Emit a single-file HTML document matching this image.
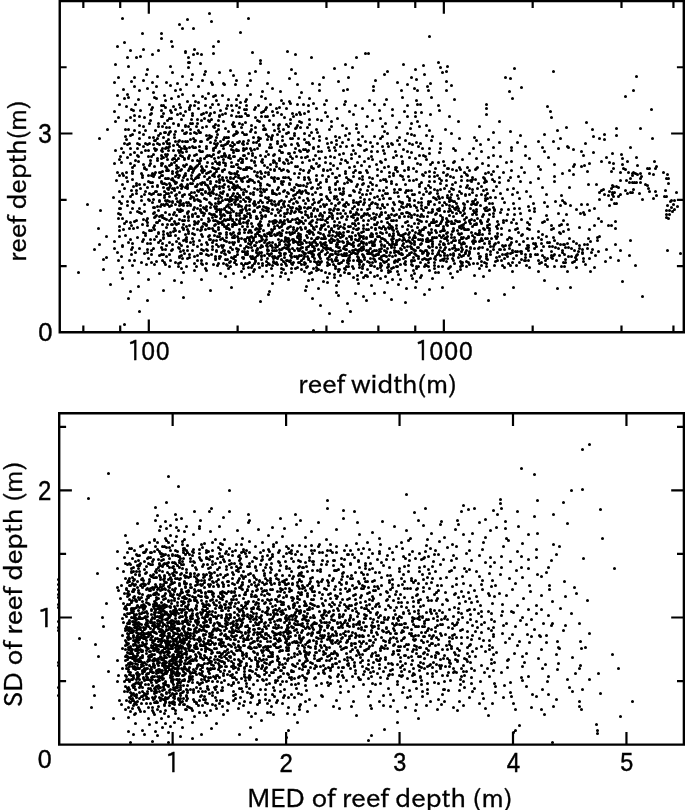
<!DOCTYPE html>
<html><head><meta charset="utf-8"><style>html,body{margin:0;padding:0;background:#fff;width:685px;height:810px;overflow:hidden}svg{display:block}</style></head>
<body><svg width="685" height="810" viewBox="0 0 685 810">
<g fill="none" stroke="#000" stroke-width="2.4" stroke-linecap="butt">
<path d="M59.75 1.0H683.8V332.3H59.75Z"/><path d="M59.2 413.3H683.9V744.6H59.2Z"/>
<path d="M83.34 332.30v-6.9M83.34 1.00v6.9M120.21 332.30v-6.9M120.21 1.00v6.9M148.80 332.30v-12.7M148.80 1.00v12.7M237.62 332.30v-6.9M237.62 1.00v6.9M326.44 332.30v-6.9M326.44 1.00v6.9M378.39 332.30v-6.9M378.39 1.00v6.9M415.26 332.30v-6.9M415.26 1.00v6.9M443.85 332.30v-12.7M443.85 1.00v12.7M532.67 332.30v-6.9M532.67 1.00v6.9M621.49 332.30v-6.9M621.49 1.00v6.9M673.44 332.30v-6.9M673.44 1.00v6.9M59.75 266.04h6.9M683.80 266.04h-6.9M59.75 199.78h6.9M683.80 199.78h-6.9M59.75 133.52h12.7M683.80 133.52h-12.7M59.75 67.26h6.9M683.80 67.26h-6.9M172.65 744.60v-12.7M172.65 413.30v12.7M286.10 744.60v-12.7M286.10 413.30v12.7M399.55 744.60v-12.7M399.55 413.30v12.7M513.00 744.60v-12.7M513.00 413.30v12.7M626.45 744.60v-12.7M626.45 413.30v12.7M59.20 681.05h6.9M683.90 681.05h-6.9M59.20 617.50h12.7M683.90 617.50h-12.7M59.20 553.95h6.9M683.90 553.95h-6.9M59.20 490.40h12.7M683.90 490.40h-12.7M59.20 426.85h6.9M683.90 426.85h-6.9" stroke-width="2.2"/>
</g>
<path d="M115.5 64.5h0M188.5 62.5h0M260.5 63.5h0M403.5 64.5h0M553.5 71.5h0M446.5 71.5h0M415.5 69.5h0M387.5 71.5h0M334.5 68.5h0M291.5 69.5h0M255.5 71.5h0M230.5 70.5h0M205.5 71.5h0M188.5 67.5h0M170.5 66.5h0M147.5 69.5h0M128.5 66.5h0M118.5 77.5h0M134.5 77.5h0M146.5 74.5h0M157.5 76.5h0M172.5 72.5h0M182.5 76.5h0M192.5 74.5h0M204.5 74.5h0M219.5 72.5h0M233.5 75.5h0M249.5 73.5h0M268.5 72.5h0M295.5 73.5h0M323.5 77.5h0M348.5 77.5h0M384.5 74.5h0M411.5 77.5h0M424.5 74.5h0M442.5 72.5h0M505.5 77.5h0M636.5 76.5h0M510.5 78.5h0M446.5 81.5h0M430.5 83.5h0M416.5 79.5h0M397.5 82.5h0M375.5 80.5h0M338.5 81.5h0M312.5 83.5h0M289.5 78.5h0M267.5 83.5h0M250.5 80.5h0M236.5 80.5h0M223.5 83.5h0M211.5 82.5h0M202.5 80.5h0M191.5 79.5h0M177.5 83.5h0M166.5 82.5h0M152.5 82.5h0M143.5 80.5h0M131.5 81.5h0M114.5 82.5h0M123.5 89.5h0M134.5 86.5h0M147.5 88.5h0M156.5 86.5h0M170.5 85.5h0M180.5 89.5h0M186.5 84.5h0M198.5 86.5h0M212.5 84.5h0M224.5 84.5h0M235.5 84.5h0M247.5 85.5h0M272.5 88.5h0M297.5 84.5h0M319.5 84.5h0M347.5 89.5h0M373.5 86.5h0M407.5 84.5h0M414.5 88.5h0M427.5 86.5h0M451.5 85.5h0M521.5 87.5h0M633.5 90.5h0M509.5 91.5h0M446.5 90.5h0M428.5 90.5h0M417.5 90.5h0M401.5 90.5h0M373.5 90.5h0M343.5 90.5h0M319.5 90.5h0M301.5 92.5h0M280.5 91.5h0M262.5 91.5h0M250.5 94.5h0M238.5 95.5h0M222.5 95.5h0M215.5 95.5h0M208.5 93.5h0M193.5 95.5h0M182.5 94.5h0M175.5 90.5h0M164.5 95.5h0M153.5 92.5h0M139.5 90.5h0M127.5 94.5h0M117.5 95.5h0M124.5 98.5h0M128.5 97.5h0M138.5 99.5h0M154.5 97.5h0M156.5 98.5h0M165.5 100.5h0M171.5 98.5h0M178.5 96.5h0M187.5 101.5h0M195.5 101.5h0M202.5 96.5h0M205.5 98.5h0M213.5 96.5h0M216.5 100.5h0M228.5 99.5h0M236.5 99.5h0M245.5 101.5h0M246.5 99.5h0M261.5 96.5h0M265.5 98.5h0M281.5 100.5h0M289.5 101.5h0M299.5 97.5h0M309.5 98.5h0M326.5 100.5h0M345.5 101.5h0M369.5 100.5h0M386.5 99.5h0M402.5 97.5h0M416.5 100.5h0M431.5 97.5h0M454.5 99.5h0M512.5 98.5h0M625.5 96.5h0M547.5 106.5h0M486.5 104.5h0M438.5 105.5h0M420.5 104.5h0M417.5 104.5h0M407.5 105.5h0M384.5 104.5h0M374.5 104.5h0M355.5 105.5h0M344.5 104.5h0M324.5 104.5h0M313.5 103.5h0M308.5 105.5h0M303.5 104.5h0M297.5 104.5h0M290.5 103.5h0M283.5 103.5h0M279.5 107.5h0M270.5 104.5h0M266.5 107.5h0M258.5 105.5h0M255.5 107.5h0M246.5 105.5h0M240.5 102.5h0M239.5 107.5h0M236.5 105.5h0M231.5 105.5h0M227.5 105.5h0M218.5 104.5h0M212.5 104.5h0M210.5 107.5h0M205.5 105.5h0M198.5 102.5h0M194.5 105.5h0M189.5 107.5h0M190.5 105.5h0M180.5 107.5h0M179.5 104.5h0M173.5 106.5h0M165.5 107.5h0M163.5 105.5h0M161.5 105.5h0M152.5 107.5h0M149.5 104.5h0M135.5 104.5h0M126.5 106.5h0M119.5 104.5h0M114.5 111.5h0M131.5 109.5h0M133.5 110.5h0M140.5 110.5h0M151.5 109.5h0M151.5 113.5h0M161.5 110.5h0M163.5 113.5h0M171.5 112.5h0M170.5 110.5h0M175.5 109.5h0M180.5 113.5h0M185.5 111.5h0M189.5 109.5h0M192.5 113.5h0M198.5 108.5h0M203.5 113.5h0M206.5 112.5h0M214.5 112.5h0M210.5 113.5h0M220.5 110.5h0M225.5 113.5h0M226.5 108.5h0M232.5 110.5h0M238.5 112.5h0M244.5 109.5h0M245.5 113.5h0M246.5 109.5h0M254.5 109.5h0M261.5 112.5h0M263.5 111.5h0M265.5 109.5h0M272.5 111.5h0M276.5 108.5h0M277.5 112.5h0M286.5 108.5h0M292.5 113.5h0M299.5 112.5h0M304.5 113.5h0M308.5 111.5h0M316.5 108.5h0M325.5 112.5h0M336.5 108.5h0M349.5 111.5h0M362.5 108.5h0M379.5 110.5h0M392.5 109.5h0M404.5 111.5h0M415.5 112.5h0M421.5 112.5h0M439.5 110.5h0M486.5 108.5h0M550.5 111.5h0M651.5 109.5h0M551.5 117.5h0M486.5 114.5h0M449.5 116.5h0M430.5 114.5h0M415.5 116.5h0M407.5 116.5h0M392.5 115.5h0M380.5 118.5h0M367.5 116.5h0M353.5 114.5h0M337.5 118.5h0M327.5 116.5h0M317.5 119.5h0M309.5 119.5h0M300.5 114.5h0M296.5 114.5h0M290.5 119.5h0M293.5 116.5h0M284.5 117.5h0M281.5 114.5h0M273.5 115.5h0M265.5 116.5h0M267.5 116.5h0M261.5 116.5h0M255.5 117.5h0M248.5 115.5h0M247.5 115.5h0M241.5 116.5h0M239.5 116.5h0M236.5 116.5h0M231.5 115.5h0M222.5 114.5h0M219.5 115.5h0M219.5 116.5h0M211.5 119.5h0M204.5 118.5h0M209.5 115.5h0M201.5 114.5h0M197.5 119.5h0M192.5 115.5h0M191.5 119.5h0M183.5 115.5h0M181.5 119.5h0M177.5 114.5h0M169.5 118.5h0M171.5 118.5h0M162.5 116.5h0M161.5 116.5h0M150.5 114.5h0M144.5 117.5h0M139.5 116.5h0M134.5 115.5h0M130.5 117.5h0M118.5 117.5h0M115.5 121.5h0M126.5 120.5h0M134.5 120.5h0M139.5 125.5h0M149.5 123.5h0M150.5 120.5h0M158.5 123.5h0M164.5 123.5h0M167.5 120.5h0M173.5 123.5h0M178.5 125.5h0M178.5 124.5h0M185.5 125.5h0M190.5 123.5h0M192.5 123.5h0M197.5 123.5h0M201.5 120.5h0M209.5 121.5h0M208.5 120.5h0M215.5 124.5h0M218.5 125.5h0M218.5 120.5h0M223.5 121.5h0M233.5 122.5h0M232.5 124.5h0M239.5 123.5h0M245.5 122.5h0M242.5 124.5h0M251.5 125.5h0M257.5 120.5h0M263.5 125.5h0M259.5 121.5h0M269.5 120.5h0M273.5 124.5h0M278.5 125.5h0M279.5 124.5h0M286.5 124.5h0M290.5 123.5h0M297.5 125.5h0M299.5 121.5h0M301.5 122.5h0M309.5 124.5h0M321.5 120.5h0M331.5 121.5h0M342.5 125.5h0M356.5 124.5h0M372.5 120.5h0M385.5 123.5h0M399.5 122.5h0M411.5 123.5h0M417.5 121.5h0M426.5 125.5h0M458.5 121.5h0M499.5 121.5h0M557.5 130.5h0M510.5 131.5h0M479.5 126.5h0M445.5 129.5h0M429.5 130.5h0M419.5 126.5h0M410.5 128.5h0M396.5 127.5h0M384.5 131.5h0M382.5 126.5h0M366.5 126.5h0M356.5 128.5h0M346.5 128.5h0M331.5 126.5h0M329.5 129.5h0M316.5 129.5h0M307.5 127.5h0M300.5 127.5h0M296.5 127.5h0M295.5 128.5h0M288.5 126.5h0M283.5 129.5h0M279.5 131.5h0M278.5 128.5h0M274.5 130.5h0M265.5 129.5h0M264.5 128.5h0M263.5 129.5h0M255.5 127.5h0M250.5 131.5h0M251.5 129.5h0M241.5 127.5h0M234.5 126.5h0M236.5 131.5h0M233.5 126.5h0M228.5 131.5h0M225.5 128.5h0M218.5 129.5h0M216.5 131.5h0M214.5 127.5h0M213.5 126.5h0M206.5 126.5h0M198.5 130.5h0M202.5 127.5h0M196.5 126.5h0M188.5 126.5h0M190.5 129.5h0M182.5 130.5h0M185.5 126.5h0M175.5 131.5h0M170.5 131.5h0M169.5 127.5h0M162.5 126.5h0M166.5 127.5h0M158.5 126.5h0M155.5 130.5h0M145.5 130.5h0M143.5 126.5h0M134.5 130.5h0M128.5 129.5h0M125.5 129.5h0M107.5 129.5h0M125.5 136.5h0M130.5 135.5h0M132.5 134.5h0M139.5 132.5h0M143.5 134.5h0M149.5 137.5h0M153.5 137.5h0M160.5 133.5h0M158.5 135.5h0M164.5 132.5h0M165.5 132.5h0M163.5 137.5h0M169.5 132.5h0M168.5 134.5h0M174.5 134.5h0M174.5 137.5h0M184.5 133.5h0M185.5 133.5h0M186.5 132.5h0M190.5 133.5h0M196.5 133.5h0M194.5 132.5h0M199.5 132.5h0M200.5 132.5h0M206.5 135.5h0M209.5 135.5h0M211.5 136.5h0M210.5 137.5h0M217.5 134.5h0M216.5 137.5h0M224.5 137.5h0M226.5 137.5h0M228.5 137.5h0M233.5 135.5h0M236.5 133.5h0M237.5 132.5h0M234.5 134.5h0M244.5 134.5h0M242.5 132.5h0M246.5 134.5h0M255.5 132.5h0M253.5 137.5h0M258.5 137.5h0M268.5 136.5h0M266.5 134.5h0M272.5 135.5h0M271.5 137.5h0M277.5 134.5h0M282.5 136.5h0M286.5 133.5h0M288.5 132.5h0M294.5 135.5h0M294.5 133.5h0M304.5 133.5h0M311.5 132.5h0M309.5 135.5h0M317.5 132.5h0M319.5 136.5h0M335.5 136.5h0M339.5 137.5h0M345.5 135.5h0M349.5 133.5h0M358.5 132.5h0M362.5 136.5h0M374.5 136.5h0M382.5 136.5h0M387.5 133.5h0M399.5 137.5h0M407.5 133.5h0M411.5 134.5h0M414.5 135.5h0M426.5 135.5h0M432.5 136.5h0M451.5 133.5h0M474.5 137.5h0M493.5 132.5h0M520.5 135.5h0M544.5 134.5h0M553.5 141.5h0M538.5 141.5h0M517.5 142.5h0M499.5 142.5h0M488.5 139.5h0M476.5 140.5h0M459.5 138.5h0M440.5 143.5h0M431.5 140.5h0M420.5 143.5h0M416.5 142.5h0M409.5 143.5h0M405.5 140.5h0M397.5 140.5h0M391.5 143.5h0M387.5 143.5h0M380.5 138.5h0M377.5 143.5h0M370.5 142.5h0M365.5 141.5h0M358.5 139.5h0M348.5 139.5h0M342.5 142.5h0M336.5 140.5h0M331.5 142.5h0M327.5 143.5h0M326.5 138.5h0M319.5 140.5h0M313.5 138.5h0M306.5 142.5h0M308.5 142.5h0M304.5 139.5h0M297.5 143.5h0M298.5 138.5h0M290.5 138.5h0M292.5 138.5h0M282.5 140.5h0M277.5 141.5h0M277.5 143.5h0M271.5 138.5h0M271.5 139.5h0M267.5 139.5h0M260.5 138.5h0M258.5 140.5h0M253.5 142.5h0M256.5 142.5h0M248.5 140.5h0M247.5 143.5h0M242.5 143.5h0M243.5 141.5h0M237.5 142.5h0M238.5 142.5h0M239.5 141.5h0M228.5 141.5h0M232.5 142.5h0M227.5 143.5h0M227.5 142.5h0M223.5 139.5h0M220.5 141.5h0M217.5 143.5h0M210.5 142.5h0M215.5 140.5h0M214.5 143.5h0M207.5 139.5h0M208.5 138.5h0M200.5 141.5h0M201.5 141.5h0M193.5 138.5h0M194.5 141.5h0M195.5 140.5h0M190.5 139.5h0M187.5 141.5h0M182.5 141.5h0M185.5 141.5h0M179.5 140.5h0M175.5 141.5h0M178.5 141.5h0M168.5 139.5h0M169.5 143.5h0M167.5 143.5h0M166.5 141.5h0M163.5 143.5h0M157.5 138.5h0M157.5 143.5h0M154.5 140.5h0M155.5 140.5h0M149.5 143.5h0M145.5 143.5h0M139.5 138.5h0M137.5 143.5h0M129.5 143.5h0M126.5 139.5h0M124.5 143.5h0M99.5 138.5h0M121.5 148.5h0M127.5 144.5h0M130.5 148.5h0M137.5 148.5h0M143.5 146.5h0M139.5 144.5h0M147.5 144.5h0M153.5 144.5h0M154.5 148.5h0M159.5 144.5h0M156.5 149.5h0M162.5 148.5h0M165.5 148.5h0M166.5 147.5h0M168.5 147.5h0M173.5 145.5h0M169.5 146.5h0M179.5 146.5h0M177.5 144.5h0M184.5 146.5h0M181.5 148.5h0M184.5 148.5h0M186.5 148.5h0M189.5 147.5h0M193.5 147.5h0M192.5 146.5h0M195.5 147.5h0M199.5 146.5h0M206.5 148.5h0M206.5 146.5h0M213.5 149.5h0M213.5 148.5h0M215.5 147.5h0M221.5 145.5h0M216.5 145.5h0M223.5 148.5h0M225.5 144.5h0M223.5 145.5h0M232.5 146.5h0M231.5 149.5h0M230.5 145.5h0M236.5 149.5h0M234.5 144.5h0M243.5 148.5h0M244.5 149.5h0M243.5 144.5h0M246.5 148.5h0M250.5 148.5h0M254.5 149.5h0M257.5 148.5h0M259.5 144.5h0M259.5 145.5h0M269.5 147.5h0M270.5 144.5h0M271.5 147.5h0M280.5 146.5h0M281.5 146.5h0M285.5 145.5h0M284.5 144.5h0M291.5 144.5h0M295.5 148.5h0M298.5 145.5h0M303.5 149.5h0M305.5 149.5h0M309.5 144.5h0M313.5 148.5h0M313.5 147.5h0M318.5 146.5h0M328.5 147.5h0M334.5 147.5h0M340.5 146.5h0M336.5 144.5h0M346.5 146.5h0M352.5 145.5h0M358.5 144.5h0M360.5 145.5h0M366.5 149.5h0M372.5 146.5h0M382.5 146.5h0M388.5 146.5h0M392.5 144.5h0M399.5 144.5h0M403.5 149.5h0M412.5 144.5h0M418.5 146.5h0M422.5 148.5h0M429.5 148.5h0M440.5 148.5h0M453.5 148.5h0M473.5 148.5h0M480.5 144.5h0M493.5 147.5h0M511.5 147.5h0M525.5 146.5h0M542.5 147.5h0M558.5 148.5h0M544.5 151.5h0M525.5 155.5h0M511.5 150.5h0M493.5 155.5h0M481.5 151.5h0M469.5 153.5h0M455.5 150.5h0M439.5 152.5h0M429.5 153.5h0M423.5 155.5h0M419.5 155.5h0M411.5 152.5h0M407.5 151.5h0M396.5 155.5h0M395.5 151.5h0M384.5 153.5h0M383.5 150.5h0M377.5 151.5h0M371.5 151.5h0M364.5 150.5h0M355.5 153.5h0M351.5 154.5h0M353.5 150.5h0M343.5 153.5h0M339.5 154.5h0M335.5 150.5h0M329.5 150.5h0M321.5 151.5h0M318.5 151.5h0M315.5 155.5h0M308.5 150.5h0M307.5 151.5h0M300.5 151.5h0M294.5 152.5h0M299.5 150.5h0M288.5 153.5h0M289.5 153.5h0M282.5 152.5h0M281.5 152.5h0M279.5 150.5h0M273.5 155.5h0M274.5 154.5h0M266.5 151.5h0M268.5 154.5h0M260.5 155.5h0M252.5 153.5h0M252.5 155.5h0M248.5 153.5h0M251.5 150.5h0M243.5 155.5h0M244.5 155.5h0M243.5 150.5h0M236.5 150.5h0M238.5 150.5h0M233.5 152.5h0M233.5 150.5h0M229.5 155.5h0M225.5 155.5h0M224.5 154.5h0M224.5 153.5h0M219.5 151.5h0M218.5 152.5h0M213.5 150.5h0M213.5 154.5h0M207.5 155.5h0M209.5 155.5h0M200.5 151.5h0M199.5 150.5h0M202.5 151.5h0M194.5 155.5h0M196.5 154.5h0M189.5 155.5h0M186.5 151.5h0M180.5 150.5h0M182.5 152.5h0M180.5 155.5h0M179.5 152.5h0M178.5 150.5h0M175.5 155.5h0M168.5 150.5h0M173.5 150.5h0M165.5 154.5h0M167.5 154.5h0M162.5 151.5h0M161.5 155.5h0M161.5 150.5h0M153.5 154.5h0M155.5 150.5h0M145.5 150.5h0M148.5 150.5h0M141.5 152.5h0M137.5 155.5h0M134.5 152.5h0M130.5 154.5h0M123.5 152.5h0M115.5 150.5h0M119.5 159.5h0M120.5 156.5h0M127.5 157.5h0M135.5 160.5h0M138.5 156.5h0M138.5 161.5h0M148.5 156.5h0M150.5 160.5h0M151.5 156.5h0M161.5 158.5h0M157.5 158.5h0M157.5 160.5h0M166.5 156.5h0M167.5 159.5h0M163.5 157.5h0M173.5 158.5h0M172.5 159.5h0M178.5 158.5h0M176.5 160.5h0M174.5 158.5h0M184.5 158.5h0M182.5 156.5h0M184.5 159.5h0M188.5 157.5h0M188.5 158.5h0M192.5 160.5h0M197.5 160.5h0M200.5 160.5h0M200.5 158.5h0M199.5 161.5h0M206.5 156.5h0M204.5 158.5h0M214.5 158.5h0M211.5 156.5h0M215.5 161.5h0M218.5 157.5h0M221.5 156.5h0M222.5 156.5h0M223.5 159.5h0M225.5 156.5h0M233.5 156.5h0M228.5 157.5h0M230.5 158.5h0M234.5 156.5h0M238.5 160.5h0M242.5 161.5h0M242.5 159.5h0M240.5 158.5h0M246.5 158.5h0M251.5 160.5h0M254.5 161.5h0M255.5 157.5h0M261.5 161.5h0M262.5 159.5h0M265.5 156.5h0M274.5 161.5h0M273.5 160.5h0M279.5 160.5h0M279.5 158.5h0M287.5 160.5h0M286.5 159.5h0M292.5 158.5h0M290.5 156.5h0M296.5 156.5h0M305.5 157.5h0M301.5 157.5h0M307.5 156.5h0M309.5 160.5h0M313.5 159.5h0M319.5 158.5h0M325.5 157.5h0M330.5 156.5h0M334.5 157.5h0M341.5 159.5h0M345.5 160.5h0M351.5 158.5h0M359.5 156.5h0M364.5 161.5h0M371.5 156.5h0M368.5 158.5h0M372.5 159.5h0M380.5 161.5h0M385.5 159.5h0M393.5 157.5h0M401.5 156.5h0M402.5 161.5h0M409.5 157.5h0M415.5 158.5h0M425.5 156.5h0M426.5 159.5h0M443.5 161.5h0M454.5 161.5h0M462.5 159.5h0M476.5 158.5h0M488.5 157.5h0M500.5 156.5h0M511.5 161.5h0M529.5 158.5h0M548.5 157.5h0M554.5 164.5h0M538.5 166.5h0M521.5 167.5h0M506.5 162.5h0M497.5 166.5h0M488.5 165.5h0M482.5 163.5h0M477.5 167.5h0M467.5 167.5h0M459.5 167.5h0M453.5 162.5h0M444.5 165.5h0M438.5 162.5h0M432.5 162.5h0M430.5 164.5h0M420.5 164.5h0M417.5 163.5h0M408.5 167.5h0M402.5 163.5h0M396.5 167.5h0M395.5 167.5h0M388.5 166.5h0M384.5 167.5h0M381.5 162.5h0M376.5 164.5h0M369.5 166.5h0M361.5 165.5h0M354.5 166.5h0M357.5 162.5h0M349.5 167.5h0M347.5 162.5h0M340.5 163.5h0M333.5 165.5h0M330.5 163.5h0M325.5 162.5h0M318.5 166.5h0M319.5 165.5h0M316.5 163.5h0M311.5 167.5h0M311.5 166.5h0M302.5 162.5h0M295.5 166.5h0M297.5 166.5h0M291.5 162.5h0M288.5 163.5h0M284.5 163.5h0M283.5 162.5h0M276.5 166.5h0M276.5 163.5h0M273.5 162.5h0M270.5 164.5h0M267.5 167.5h0M264.5 165.5h0M262.5 162.5h0M254.5 162.5h0M255.5 165.5h0M249.5 167.5h0M246.5 167.5h0M247.5 167.5h0M241.5 162.5h0M242.5 162.5h0M238.5 167.5h0M236.5 164.5h0M237.5 164.5h0M231.5 166.5h0M231.5 162.5h0M233.5 166.5h0M225.5 163.5h0M225.5 165.5h0M223.5 162.5h0M219.5 162.5h0M219.5 164.5h0M217.5 163.5h0M212.5 163.5h0M212.5 167.5h0M206.5 166.5h0M207.5 162.5h0M201.5 166.5h0M199.5 163.5h0M195.5 167.5h0M196.5 166.5h0M197.5 165.5h0M191.5 167.5h0M186.5 164.5h0M190.5 166.5h0M184.5 166.5h0M183.5 165.5h0M174.5 162.5h0M178.5 167.5h0M176.5 165.5h0M171.5 163.5h0M169.5 165.5h0M171.5 164.5h0M166.5 167.5h0M165.5 166.5h0M162.5 163.5h0M161.5 163.5h0M161.5 165.5h0M154.5 166.5h0M150.5 163.5h0M144.5 167.5h0M149.5 165.5h0M143.5 164.5h0M134.5 165.5h0M132.5 167.5h0M130.5 163.5h0M121.5 162.5h0M114.5 163.5h0M117.5 172.5h0M122.5 173.5h0M126.5 172.5h0M132.5 171.5h0M132.5 173.5h0M141.5 173.5h0M144.5 168.5h0M146.5 169.5h0M152.5 173.5h0M155.5 172.5h0M159.5 172.5h0M160.5 172.5h0M166.5 170.5h0M162.5 171.5h0M167.5 169.5h0M172.5 173.5h0M168.5 170.5h0M172.5 171.5h0M176.5 172.5h0M176.5 168.5h0M177.5 171.5h0M185.5 173.5h0M180.5 170.5h0M181.5 169.5h0M189.5 168.5h0M191.5 168.5h0M188.5 170.5h0M192.5 172.5h0M194.5 168.5h0M193.5 170.5h0M202.5 168.5h0M202.5 172.5h0M201.5 170.5h0M206.5 173.5h0M208.5 172.5h0M204.5 170.5h0M210.5 171.5h0M214.5 173.5h0M214.5 168.5h0M218.5 168.5h0M216.5 171.5h0M216.5 169.5h0M224.5 169.5h0M222.5 171.5h0M222.5 170.5h0M230.5 173.5h0M231.5 173.5h0M229.5 172.5h0M236.5 173.5h0M237.5 171.5h0M234.5 173.5h0M240.5 168.5h0M243.5 169.5h0M244.5 169.5h0M251.5 168.5h0M246.5 169.5h0M254.5 171.5h0M257.5 172.5h0M261.5 173.5h0M260.5 171.5h0M265.5 172.5h0M268.5 172.5h0M274.5 170.5h0M274.5 169.5h0M270.5 169.5h0M281.5 170.5h0M279.5 168.5h0M287.5 170.5h0M283.5 169.5h0M288.5 171.5h0M299.5 173.5h0M294.5 173.5h0M300.5 169.5h0M303.5 170.5h0M308.5 172.5h0M309.5 170.5h0M313.5 168.5h0M323.5 170.5h0M323.5 169.5h0M327.5 170.5h0M332.5 173.5h0M330.5 169.5h0M337.5 168.5h0M345.5 173.5h0M345.5 171.5h0M353.5 172.5h0M359.5 172.5h0M355.5 170.5h0M360.5 172.5h0M367.5 172.5h0M366.5 170.5h0M377.5 169.5h0M381.5 171.5h0M389.5 172.5h0M393.5 173.5h0M395.5 169.5h0M397.5 171.5h0M404.5 170.5h0M413.5 168.5h0M408.5 169.5h0M416.5 171.5h0M425.5 172.5h0M429.5 171.5h0M434.5 172.5h0M435.5 168.5h0M443.5 172.5h0M447.5 168.5h0M448.5 168.5h0M452.5 169.5h0M460.5 169.5h0M456.5 170.5h0M464.5 172.5h0M469.5 170.5h0M476.5 168.5h0M475.5 169.5h0M485.5 173.5h0M488.5 172.5h0M493.5 171.5h0M503.5 172.5h0M511.5 170.5h0M524.5 172.5h0M540.5 169.5h0M554.5 176.5h0M538.5 178.5h0M518.5 176.5h0M510.5 177.5h0M499.5 177.5h0M492.5 179.5h0M491.5 174.5h0M484.5 178.5h0M483.5 177.5h0M475.5 179.5h0M472.5 179.5h0M472.5 177.5h0M467.5 175.5h0M466.5 174.5h0M461.5 176.5h0M450.5 176.5h0M453.5 177.5h0M446.5 175.5h0M447.5 174.5h0M439.5 178.5h0M437.5 175.5h0M434.5 176.5h0M429.5 176.5h0M423.5 175.5h0M422.5 174.5h0M416.5 179.5h0M408.5 176.5h0M402.5 176.5h0M403.5 179.5h0M400.5 175.5h0M393.5 175.5h0M389.5 176.5h0M385.5 179.5h0M383.5 179.5h0M372.5 178.5h0M377.5 175.5h0M369.5 177.5h0M362.5 179.5h0M362.5 176.5h0M359.5 178.5h0M353.5 176.5h0M348.5 179.5h0M346.5 177.5h0M339.5 175.5h0M336.5 177.5h0M335.5 177.5h0M326.5 179.5h0M328.5 176.5h0M322.5 175.5h0M316.5 179.5h0M316.5 175.5h0M309.5 179.5h0M308.5 177.5h0M304.5 179.5h0M304.5 177.5h0M298.5 177.5h0M290.5 179.5h0M288.5 177.5h0M283.5 177.5h0M285.5 177.5h0M277.5 178.5h0M278.5 178.5h0M271.5 177.5h0M273.5 178.5h0M274.5 177.5h0M264.5 176.5h0M268.5 174.5h0M261.5 178.5h0M260.5 177.5h0M257.5 176.5h0M256.5 175.5h0M249.5 179.5h0M250.5 179.5h0M247.5 176.5h0M240.5 178.5h0M242.5 178.5h0M244.5 177.5h0M238.5 175.5h0M235.5 176.5h0M238.5 177.5h0M230.5 178.5h0M230.5 177.5h0M233.5 178.5h0M222.5 177.5h0M226.5 177.5h0M222.5 179.5h0M219.5 175.5h0M218.5 176.5h0M219.5 179.5h0M214.5 176.5h0M212.5 175.5h0M213.5 174.5h0M207.5 179.5h0M204.5 176.5h0M209.5 177.5h0M199.5 174.5h0M198.5 177.5h0M198.5 175.5h0M197.5 176.5h0M195.5 178.5h0M196.5 177.5h0M191.5 175.5h0M191.5 178.5h0M187.5 179.5h0M184.5 175.5h0M185.5 175.5h0M183.5 177.5h0M177.5 174.5h0M179.5 175.5h0M175.5 176.5h0M178.5 177.5h0M168.5 178.5h0M171.5 179.5h0M172.5 178.5h0M165.5 178.5h0M167.5 178.5h0M162.5 175.5h0M161.5 175.5h0M159.5 177.5h0M153.5 176.5h0M154.5 174.5h0M151.5 175.5h0M148.5 175.5h0M142.5 175.5h0M142.5 177.5h0M132.5 179.5h0M126.5 177.5h0M123.5 175.5h0M119.5 175.5h0M116.5 180.5h0M122.5 184.5h0M127.5 181.5h0M136.5 185.5h0M136.5 183.5h0M139.5 184.5h0M144.5 184.5h0M148.5 181.5h0M150.5 182.5h0M152.5 182.5h0M161.5 182.5h0M161.5 181.5h0M157.5 185.5h0M162.5 183.5h0M164.5 183.5h0M166.5 184.5h0M170.5 185.5h0M169.5 183.5h0M173.5 180.5h0M175.5 183.5h0M176.5 182.5h0M174.5 181.5h0M181.5 184.5h0M182.5 180.5h0M180.5 185.5h0M187.5 184.5h0M190.5 183.5h0M187.5 185.5h0M193.5 180.5h0M192.5 183.5h0M197.5 184.5h0M202.5 182.5h0M201.5 184.5h0M200.5 183.5h0M207.5 185.5h0M204.5 182.5h0M205.5 184.5h0M210.5 183.5h0M215.5 185.5h0M210.5 181.5h0M219.5 180.5h0M216.5 181.5h0M219.5 182.5h0M223.5 180.5h0M224.5 184.5h0M227.5 180.5h0M231.5 182.5h0M233.5 184.5h0M228.5 181.5h0M230.5 182.5h0M236.5 181.5h0M237.5 185.5h0M234.5 185.5h0M242.5 181.5h0M241.5 180.5h0M248.5 181.5h0M249.5 180.5h0M247.5 181.5h0M252.5 180.5h0M254.5 182.5h0M260.5 185.5h0M260.5 183.5h0M258.5 181.5h0M267.5 184.5h0M269.5 185.5h0M274.5 181.5h0M274.5 180.5h0M281.5 181.5h0M281.5 183.5h0M282.5 184.5h0M283.5 181.5h0M289.5 184.5h0M289.5 183.5h0M298.5 185.5h0M296.5 184.5h0M303.5 185.5h0M300.5 185.5h0M310.5 182.5h0M307.5 183.5h0M316.5 180.5h0M318.5 184.5h0M320.5 182.5h0M326.5 181.5h0M335.5 184.5h0M335.5 183.5h0M337.5 181.5h0M347.5 182.5h0M344.5 183.5h0M351.5 181.5h0M350.5 180.5h0M357.5 184.5h0M362.5 184.5h0M363.5 183.5h0M370.5 182.5h0M372.5 184.5h0M376.5 185.5h0M380.5 180.5h0M386.5 181.5h0M391.5 183.5h0M391.5 181.5h0M396.5 184.5h0M405.5 184.5h0M409.5 180.5h0M413.5 180.5h0M419.5 184.5h0M421.5 182.5h0M428.5 185.5h0M429.5 181.5h0M434.5 181.5h0M441.5 180.5h0M440.5 183.5h0M446.5 185.5h0M446.5 180.5h0M455.5 182.5h0M452.5 184.5h0M461.5 180.5h0M467.5 185.5h0M467.5 180.5h0M471.5 181.5h0M470.5 180.5h0M478.5 183.5h0M484.5 182.5h0M485.5 180.5h0M486.5 181.5h0M494.5 181.5h0M499.5 182.5h0M508.5 180.5h0M520.5 181.5h0M530.5 182.5h0M554.5 181.5h0M542.5 187.5h0M526.5 191.5h0M513.5 188.5h0M507.5 189.5h0M493.5 190.5h0M496.5 186.5h0M486.5 189.5h0M481.5 186.5h0M483.5 190.5h0M477.5 188.5h0M469.5 188.5h0M472.5 189.5h0M466.5 187.5h0M459.5 191.5h0M460.5 186.5h0M451.5 188.5h0M453.5 189.5h0M449.5 191.5h0M444.5 188.5h0M440.5 189.5h0M434.5 189.5h0M437.5 190.5h0M430.5 187.5h0M426.5 191.5h0M425.5 188.5h0M419.5 186.5h0M408.5 190.5h0M411.5 190.5h0M406.5 190.5h0M399.5 189.5h0M400.5 189.5h0M394.5 189.5h0M386.5 187.5h0M379.5 190.5h0M383.5 190.5h0M372.5 189.5h0M367.5 190.5h0M368.5 186.5h0M360.5 189.5h0M356.5 186.5h0M354.5 191.5h0M353.5 190.5h0M343.5 188.5h0M343.5 191.5h0M339.5 189.5h0M339.5 188.5h0M335.5 189.5h0M329.5 187.5h0M329.5 189.5h0M320.5 187.5h0M317.5 188.5h0M312.5 187.5h0M306.5 186.5h0M311.5 188.5h0M302.5 191.5h0M305.5 190.5h0M299.5 190.5h0M294.5 187.5h0M291.5 189.5h0M293.5 190.5h0M284.5 190.5h0M283.5 191.5h0M278.5 187.5h0M277.5 189.5h0M272.5 191.5h0M272.5 190.5h0M266.5 189.5h0M264.5 191.5h0M260.5 191.5h0M260.5 188.5h0M263.5 189.5h0M254.5 188.5h0M257.5 189.5h0M248.5 186.5h0M246.5 191.5h0M241.5 189.5h0M244.5 189.5h0M236.5 187.5h0M234.5 189.5h0M239.5 187.5h0M234.5 188.5h0M228.5 186.5h0M232.5 187.5h0M229.5 189.5h0M222.5 186.5h0M223.5 187.5h0M223.5 191.5h0M216.5 186.5h0M219.5 186.5h0M219.5 188.5h0M212.5 191.5h0M213.5 187.5h0M213.5 189.5h0M208.5 187.5h0M205.5 191.5h0M209.5 189.5h0M200.5 189.5h0M202.5 189.5h0M198.5 191.5h0M195.5 186.5h0M196.5 186.5h0M197.5 190.5h0M186.5 186.5h0M187.5 188.5h0M187.5 187.5h0M182.5 186.5h0M185.5 187.5h0M181.5 188.5h0M174.5 190.5h0M177.5 187.5h0M174.5 188.5h0M172.5 188.5h0M168.5 189.5h0M169.5 187.5h0M164.5 191.5h0M167.5 188.5h0M163.5 187.5h0M157.5 186.5h0M156.5 191.5h0M152.5 186.5h0M155.5 191.5h0M147.5 187.5h0M145.5 191.5h0M140.5 188.5h0M133.5 186.5h0M136.5 190.5h0M131.5 190.5h0M124.5 188.5h0M119.5 191.5h0M113.5 197.5h0M122.5 196.5h0M130.5 196.5h0M136.5 193.5h0M132.5 194.5h0M141.5 196.5h0M149.5 193.5h0M144.5 194.5h0M153.5 193.5h0M151.5 194.5h0M160.5 194.5h0M158.5 194.5h0M164.5 197.5h0M166.5 193.5h0M164.5 195.5h0M169.5 196.5h0M171.5 192.5h0M168.5 193.5h0M175.5 195.5h0M179.5 192.5h0M176.5 194.5h0M184.5 194.5h0M182.5 196.5h0M182.5 195.5h0M191.5 192.5h0M191.5 196.5h0M189.5 194.5h0M194.5 192.5h0M196.5 195.5h0M193.5 197.5h0M202.5 194.5h0M201.5 193.5h0M205.5 192.5h0M208.5 193.5h0M209.5 192.5h0M211.5 192.5h0M210.5 195.5h0M213.5 193.5h0M220.5 192.5h0M221.5 197.5h0M216.5 194.5h0M219.5 195.5h0M227.5 194.5h0M222.5 193.5h0M227.5 195.5h0M230.5 197.5h0M233.5 193.5h0M232.5 195.5h0M235.5 196.5h0M237.5 197.5h0M237.5 193.5h0M239.5 195.5h0M243.5 192.5h0M240.5 197.5h0M243.5 194.5h0M248.5 197.5h0M250.5 193.5h0M246.5 197.5h0M253.5 192.5h0M253.5 194.5h0M261.5 192.5h0M260.5 195.5h0M261.5 195.5h0M268.5 197.5h0M265.5 197.5h0M272.5 193.5h0M272.5 192.5h0M274.5 193.5h0M279.5 193.5h0M276.5 194.5h0M286.5 196.5h0M287.5 192.5h0M288.5 193.5h0M293.5 195.5h0M299.5 197.5h0M297.5 192.5h0M295.5 194.5h0M300.5 192.5h0M301.5 193.5h0M306.5 192.5h0M308.5 193.5h0M315.5 192.5h0M312.5 194.5h0M320.5 194.5h0M321.5 194.5h0M326.5 196.5h0M330.5 192.5h0M334.5 196.5h0M336.5 196.5h0M340.5 193.5h0M342.5 194.5h0M343.5 193.5h0M349.5 195.5h0M350.5 195.5h0M359.5 192.5h0M360.5 197.5h0M362.5 194.5h0M370.5 193.5h0M366.5 194.5h0M374.5 197.5h0M377.5 196.5h0M382.5 195.5h0M387.5 193.5h0M385.5 193.5h0M394.5 192.5h0M397.5 192.5h0M398.5 196.5h0M405.5 192.5h0M407.5 196.5h0M412.5 194.5h0M414.5 194.5h0M419.5 192.5h0M423.5 194.5h0M429.5 193.5h0M430.5 192.5h0M437.5 193.5h0M433.5 197.5h0M438.5 196.5h0M442.5 197.5h0M447.5 197.5h0M447.5 195.5h0M451.5 194.5h0M450.5 197.5h0M457.5 195.5h0M461.5 193.5h0M465.5 195.5h0M465.5 194.5h0M472.5 192.5h0M469.5 194.5h0M476.5 195.5h0M481.5 194.5h0M485.5 195.5h0M490.5 197.5h0M487.5 193.5h0M495.5 197.5h0M500.5 193.5h0M512.5 194.5h0M517.5 192.5h0M530.5 196.5h0M546.5 194.5h0M555.5 201.5h0M544.5 202.5h0M533.5 203.5h0M519.5 198.5h0M513.5 203.5h0M504.5 202.5h0M502.5 198.5h0M492.5 203.5h0M489.5 203.5h0M487.5 198.5h0M485.5 200.5h0M485.5 198.5h0M477.5 202.5h0M475.5 199.5h0M473.5 203.5h0M472.5 201.5h0M473.5 201.5h0M467.5 201.5h0M463.5 203.5h0M458.5 198.5h0M456.5 203.5h0M453.5 201.5h0M451.5 200.5h0M454.5 201.5h0M444.5 202.5h0M449.5 199.5h0M449.5 201.5h0M439.5 198.5h0M439.5 202.5h0M436.5 199.5h0M435.5 198.5h0M428.5 203.5h0M428.5 201.5h0M430.5 201.5h0M421.5 198.5h0M421.5 202.5h0M414.5 200.5h0M418.5 202.5h0M409.5 198.5h0M409.5 200.5h0M402.5 202.5h0M402.5 203.5h0M399.5 201.5h0M401.5 202.5h0M390.5 198.5h0M393.5 202.5h0M389.5 198.5h0M383.5 198.5h0M379.5 199.5h0M372.5 202.5h0M375.5 203.5h0M369.5 199.5h0M371.5 203.5h0M364.5 199.5h0M360.5 201.5h0M364.5 202.5h0M356.5 202.5h0M358.5 202.5h0M353.5 200.5h0M353.5 202.5h0M346.5 202.5h0M342.5 199.5h0M338.5 203.5h0M339.5 202.5h0M337.5 199.5h0M334.5 198.5h0M331.5 203.5h0M329.5 200.5h0M327.5 198.5h0M318.5 202.5h0M321.5 199.5h0M319.5 201.5h0M314.5 202.5h0M313.5 199.5h0M307.5 198.5h0M308.5 200.5h0M305.5 203.5h0M303.5 200.5h0M294.5 198.5h0M297.5 202.5h0M296.5 201.5h0M291.5 199.5h0M289.5 201.5h0M293.5 203.5h0M284.5 201.5h0M283.5 203.5h0M278.5 203.5h0M281.5 200.5h0M279.5 201.5h0M271.5 200.5h0M274.5 201.5h0M271.5 203.5h0M267.5 198.5h0M269.5 200.5h0M267.5 202.5h0M258.5 202.5h0M262.5 202.5h0M260.5 200.5h0M254.5 202.5h0M254.5 201.5h0M253.5 203.5h0M250.5 199.5h0M248.5 198.5h0M249.5 201.5h0M243.5 199.5h0M240.5 201.5h0M245.5 201.5h0M234.5 202.5h0M237.5 199.5h0M235.5 201.5h0M235.5 199.5h0M232.5 199.5h0M229.5 201.5h0M229.5 199.5h0M231.5 200.5h0M225.5 199.5h0M227.5 199.5h0M222.5 200.5h0M218.5 203.5h0M218.5 198.5h0M220.5 202.5h0M218.5 201.5h0M215.5 203.5h0M215.5 198.5h0M210.5 203.5h0M204.5 198.5h0M206.5 199.5h0M209.5 202.5h0M200.5 201.5h0M198.5 200.5h0M199.5 200.5h0M194.5 199.5h0M197.5 199.5h0M194.5 200.5h0M186.5 202.5h0M188.5 202.5h0M190.5 198.5h0M183.5 203.5h0M180.5 201.5h0M180.5 200.5h0M176.5 198.5h0M179.5 202.5h0M177.5 201.5h0M169.5 201.5h0M172.5 202.5h0M172.5 201.5h0M167.5 200.5h0M166.5 203.5h0M165.5 200.5h0M159.5 201.5h0M159.5 200.5h0M153.5 199.5h0M152.5 202.5h0M149.5 200.5h0M148.5 199.5h0M141.5 200.5h0M133.5 202.5h0M132.5 201.5h0M127.5 201.5h0M121.5 203.5h0M119.5 201.5h0M87.5 204.5h0M119.5 208.5h0M120.5 208.5h0M127.5 205.5h0M132.5 208.5h0M139.5 208.5h0M144.5 204.5h0M153.5 207.5h0M154.5 207.5h0M160.5 206.5h0M161.5 204.5h0M157.5 206.5h0M164.5 205.5h0M163.5 204.5h0M167.5 204.5h0M171.5 205.5h0M169.5 206.5h0M175.5 204.5h0M179.5 205.5h0M177.5 209.5h0M183.5 205.5h0M181.5 204.5h0M180.5 209.5h0M190.5 205.5h0M190.5 204.5h0M187.5 205.5h0M194.5 207.5h0M197.5 208.5h0M193.5 209.5h0M200.5 205.5h0M200.5 209.5h0M203.5 207.5h0M206.5 209.5h0M204.5 208.5h0M206.5 206.5h0M214.5 206.5h0M211.5 204.5h0M210.5 207.5h0M215.5 208.5h0M219.5 209.5h0M221.5 209.5h0M216.5 206.5h0M217.5 209.5h0M224.5 209.5h0M226.5 206.5h0M224.5 208.5h0M227.5 205.5h0M231.5 204.5h0M231.5 209.5h0M229.5 207.5h0M228.5 204.5h0M238.5 206.5h0M235.5 204.5h0M239.5 205.5h0M238.5 204.5h0M242.5 209.5h0M241.5 206.5h0M245.5 208.5h0M245.5 207.5h0M249.5 209.5h0M246.5 205.5h0M249.5 205.5h0M254.5 205.5h0M255.5 204.5h0M257.5 207.5h0M263.5 206.5h0M262.5 209.5h0M259.5 206.5h0M265.5 207.5h0M268.5 208.5h0M266.5 207.5h0M272.5 209.5h0M272.5 204.5h0M275.5 205.5h0M275.5 204.5h0M278.5 204.5h0M281.5 207.5h0M277.5 209.5h0M283.5 204.5h0M287.5 209.5h0M284.5 206.5h0M290.5 207.5h0M288.5 205.5h0M292.5 207.5h0M299.5 206.5h0M296.5 208.5h0M298.5 209.5h0M300.5 208.5h0M300.5 207.5h0M304.5 207.5h0M307.5 208.5h0M308.5 207.5h0M310.5 207.5h0M312.5 204.5h0M314.5 208.5h0M317.5 209.5h0M323.5 204.5h0M320.5 206.5h0M326.5 204.5h0M329.5 209.5h0M324.5 206.5h0M335.5 205.5h0M334.5 208.5h0M330.5 209.5h0M338.5 209.5h0M337.5 209.5h0M344.5 204.5h0M345.5 206.5h0M343.5 205.5h0M348.5 204.5h0M352.5 208.5h0M357.5 209.5h0M358.5 204.5h0M354.5 206.5h0M363.5 204.5h0M361.5 209.5h0M369.5 205.5h0M369.5 208.5h0M367.5 209.5h0M377.5 204.5h0M377.5 207.5h0M380.5 208.5h0M382.5 205.5h0M382.5 204.5h0M384.5 207.5h0M387.5 204.5h0M392.5 208.5h0M394.5 204.5h0M399.5 209.5h0M401.5 206.5h0M406.5 206.5h0M403.5 207.5h0M407.5 204.5h0M409.5 204.5h0M410.5 206.5h0M416.5 207.5h0M414.5 205.5h0M421.5 208.5h0M421.5 205.5h0M425.5 207.5h0M426.5 207.5h0M428.5 204.5h0M434.5 204.5h0M437.5 209.5h0M432.5 209.5h0M439.5 208.5h0M442.5 205.5h0M446.5 204.5h0M449.5 205.5h0M449.5 208.5h0M455.5 209.5h0M454.5 208.5h0M452.5 206.5h0M458.5 208.5h0M456.5 207.5h0M457.5 206.5h0M464.5 208.5h0M464.5 204.5h0M464.5 207.5h0M470.5 208.5h0M471.5 204.5h0M476.5 209.5h0M475.5 204.5h0M476.5 204.5h0M484.5 208.5h0M480.5 205.5h0M489.5 209.5h0M486.5 207.5h0M494.5 209.5h0M493.5 207.5h0M501.5 209.5h0M508.5 209.5h0M514.5 208.5h0M519.5 208.5h0M528.5 206.5h0M534.5 208.5h0M547.5 206.5h0M558.5 213.5h0M546.5 215.5h0M534.5 211.5h0M529.5 210.5h0M520.5 213.5h0M514.5 214.5h0M507.5 214.5h0M500.5 212.5h0M494.5 210.5h0M493.5 213.5h0M487.5 210.5h0M489.5 214.5h0M483.5 214.5h0M485.5 210.5h0M476.5 211.5h0M476.5 214.5h0M474.5 212.5h0M472.5 214.5h0M473.5 210.5h0M463.5 210.5h0M464.5 213.5h0M462.5 215.5h0M460.5 212.5h0M458.5 210.5h0M456.5 213.5h0M450.5 210.5h0M452.5 212.5h0M448.5 211.5h0M449.5 215.5h0M444.5 211.5h0M438.5 210.5h0M439.5 210.5h0M440.5 215.5h0M435.5 214.5h0M432.5 211.5h0M436.5 213.5h0M431.5 212.5h0M428.5 212.5h0M421.5 214.5h0M423.5 210.5h0M414.5 214.5h0M417.5 215.5h0M417.5 210.5h0M411.5 215.5h0M409.5 213.5h0M406.5 212.5h0M407.5 212.5h0M402.5 213.5h0M396.5 214.5h0M401.5 213.5h0M391.5 214.5h0M394.5 215.5h0M393.5 210.5h0M388.5 215.5h0M385.5 212.5h0M380.5 214.5h0M381.5 214.5h0M381.5 212.5h0M373.5 213.5h0M376.5 214.5h0M366.5 214.5h0M369.5 215.5h0M367.5 213.5h0M363.5 215.5h0M364.5 213.5h0M355.5 214.5h0M358.5 214.5h0M356.5 212.5h0M350.5 211.5h0M353.5 214.5h0M350.5 212.5h0M343.5 210.5h0M345.5 213.5h0M337.5 213.5h0M340.5 213.5h0M331.5 213.5h0M332.5 215.5h0M333.5 210.5h0M329.5 212.5h0M324.5 212.5h0M322.5 215.5h0M320.5 213.5h0M319.5 215.5h0M313.5 210.5h0M317.5 210.5h0M307.5 215.5h0M311.5 214.5h0M311.5 213.5h0M301.5 212.5h0M305.5 211.5h0M305.5 214.5h0M299.5 211.5h0M294.5 212.5h0M295.5 211.5h0M291.5 211.5h0M291.5 210.5h0M290.5 213.5h0M287.5 212.5h0M284.5 213.5h0M286.5 213.5h0M280.5 215.5h0M280.5 210.5h0M278.5 212.5h0M275.5 215.5h0M271.5 213.5h0M266.5 210.5h0M268.5 211.5h0M267.5 210.5h0M265.5 215.5h0M261.5 215.5h0M263.5 210.5h0M260.5 212.5h0M254.5 211.5h0M254.5 210.5h0M253.5 211.5h0M246.5 210.5h0M250.5 215.5h0M247.5 213.5h0M249.5 213.5h0M240.5 210.5h0M244.5 215.5h0M241.5 212.5h0M241.5 211.5h0M236.5 215.5h0M239.5 215.5h0M236.5 213.5h0M239.5 213.5h0M230.5 215.5h0M233.5 211.5h0M228.5 212.5h0M230.5 212.5h0M224.5 215.5h0M223.5 214.5h0M226.5 211.5h0M227.5 212.5h0M220.5 212.5h0M220.5 211.5h0M220.5 214.5h0M216.5 211.5h0M211.5 214.5h0M213.5 214.5h0M214.5 214.5h0M206.5 210.5h0M204.5 213.5h0M209.5 213.5h0M202.5 212.5h0M200.5 210.5h0M203.5 215.5h0M201.5 212.5h0M192.5 214.5h0M195.5 213.5h0M192.5 215.5h0M188.5 211.5h0M187.5 213.5h0M187.5 212.5h0M180.5 210.5h0M182.5 210.5h0M180.5 211.5h0M176.5 215.5h0M179.5 211.5h0M174.5 212.5h0M169.5 214.5h0M173.5 214.5h0M162.5 215.5h0M165.5 212.5h0M158.5 210.5h0M161.5 215.5h0M156.5 215.5h0M154.5 212.5h0M153.5 213.5h0M144.5 211.5h0M139.5 212.5h0M141.5 213.5h0M137.5 211.5h0M130.5 212.5h0M120.5 214.5h0M118.5 213.5h0M100.5 210.5h0M118.5 218.5h0M122.5 218.5h0M126.5 221.5h0M134.5 221.5h0M136.5 220.5h0M143.5 219.5h0M146.5 220.5h0M147.5 218.5h0M154.5 217.5h0M155.5 216.5h0M159.5 216.5h0M159.5 220.5h0M166.5 219.5h0M164.5 218.5h0M162.5 217.5h0M169.5 220.5h0M171.5 218.5h0M174.5 221.5h0M179.5 219.5h0M182.5 220.5h0M184.5 220.5h0M184.5 216.5h0M188.5 217.5h0M188.5 220.5h0M188.5 216.5h0M192.5 216.5h0M194.5 221.5h0M197.5 216.5h0M198.5 216.5h0M201.5 219.5h0M198.5 221.5h0M208.5 218.5h0M208.5 221.5h0M209.5 220.5h0M212.5 217.5h0M215.5 216.5h0M213.5 220.5h0M215.5 220.5h0M216.5 216.5h0M220.5 218.5h0M221.5 216.5h0M217.5 221.5h0M225.5 220.5h0M224.5 219.5h0M222.5 221.5h0M227.5 219.5h0M230.5 217.5h0M229.5 219.5h0M232.5 220.5h0M232.5 219.5h0M239.5 221.5h0M236.5 219.5h0M239.5 220.5h0M244.5 218.5h0M240.5 218.5h0M245.5 216.5h0M243.5 218.5h0M246.5 216.5h0M248.5 220.5h0M250.5 217.5h0M247.5 221.5h0M256.5 218.5h0M257.5 218.5h0M256.5 216.5h0M260.5 221.5h0M262.5 216.5h0M261.5 218.5h0M265.5 216.5h0M269.5 221.5h0M272.5 221.5h0M274.5 220.5h0M275.5 220.5h0M280.5 221.5h0M280.5 220.5h0M276.5 221.5h0M284.5 216.5h0M284.5 220.5h0M287.5 219.5h0M290.5 221.5h0M292.5 219.5h0M288.5 221.5h0M295.5 219.5h0M299.5 220.5h0M297.5 218.5h0M302.5 217.5h0M305.5 220.5h0M301.5 221.5h0M308.5 217.5h0M311.5 221.5h0M311.5 216.5h0M312.5 220.5h0M315.5 216.5h0M317.5 219.5h0M320.5 219.5h0M322.5 216.5h0M322.5 219.5h0M325.5 220.5h0M329.5 216.5h0M327.5 218.5h0M332.5 217.5h0M334.5 221.5h0M332.5 218.5h0M341.5 217.5h0M337.5 218.5h0M342.5 216.5h0M347.5 216.5h0M346.5 219.5h0M353.5 217.5h0M351.5 216.5h0M355.5 220.5h0M357.5 219.5h0M357.5 218.5h0M361.5 216.5h0M363.5 220.5h0M361.5 217.5h0M371.5 218.5h0M368.5 220.5h0M374.5 217.5h0M375.5 217.5h0M374.5 219.5h0M379.5 216.5h0M381.5 221.5h0M389.5 217.5h0M386.5 218.5h0M387.5 218.5h0M391.5 220.5h0M393.5 220.5h0M396.5 220.5h0M399.5 217.5h0M399.5 216.5h0M404.5 216.5h0M407.5 221.5h0M408.5 216.5h0M411.5 217.5h0M419.5 220.5h0M417.5 219.5h0M420.5 216.5h0M423.5 216.5h0M421.5 221.5h0M427.5 216.5h0M426.5 221.5h0M433.5 220.5h0M436.5 221.5h0M433.5 219.5h0M441.5 221.5h0M442.5 217.5h0M442.5 219.5h0M448.5 221.5h0M447.5 220.5h0M446.5 218.5h0M453.5 216.5h0M455.5 220.5h0M451.5 221.5h0M459.5 221.5h0M457.5 221.5h0M466.5 217.5h0M464.5 219.5h0M469.5 220.5h0M471.5 219.5h0M469.5 221.5h0M474.5 220.5h0M477.5 218.5h0M480.5 220.5h0M482.5 216.5h0M480.5 221.5h0M488.5 219.5h0M487.5 221.5h0M493.5 216.5h0M497.5 221.5h0M503.5 220.5h0M506.5 220.5h0M513.5 219.5h0M521.5 219.5h0M530.5 218.5h0M544.5 221.5h0M547.5 219.5h0M559.5 225.5h0M551.5 225.5h0M542.5 222.5h0M529.5 224.5h0M527.5 222.5h0M516.5 223.5h0M511.5 222.5h0M498.5 224.5h0M503.5 222.5h0M496.5 226.5h0M487.5 225.5h0M487.5 227.5h0M489.5 224.5h0M481.5 222.5h0M481.5 223.5h0M476.5 223.5h0M474.5 224.5h0M476.5 224.5h0M470.5 223.5h0M472.5 226.5h0M465.5 222.5h0M463.5 224.5h0M463.5 227.5h0M459.5 227.5h0M459.5 226.5h0M461.5 225.5h0M452.5 223.5h0M454.5 223.5h0M451.5 223.5h0M446.5 222.5h0M447.5 225.5h0M446.5 224.5h0M440.5 223.5h0M438.5 225.5h0M443.5 226.5h0M432.5 222.5h0M434.5 222.5h0M436.5 225.5h0M431.5 222.5h0M429.5 225.5h0M429.5 224.5h0M424.5 227.5h0M425.5 227.5h0M417.5 227.5h0M418.5 223.5h0M414.5 223.5h0M408.5 225.5h0M411.5 226.5h0M402.5 226.5h0M405.5 222.5h0M396.5 225.5h0M392.5 227.5h0M391.5 226.5h0M390.5 227.5h0M389.5 224.5h0M388.5 227.5h0M387.5 222.5h0M383.5 226.5h0M379.5 227.5h0M376.5 224.5h0M377.5 222.5h0M374.5 224.5h0M371.5 227.5h0M367.5 224.5h0M363.5 225.5h0M358.5 223.5h0M355.5 225.5h0M354.5 223.5h0M348.5 226.5h0M350.5 226.5h0M352.5 223.5h0M344.5 224.5h0M343.5 227.5h0M337.5 225.5h0M339.5 222.5h0M340.5 226.5h0M334.5 226.5h0M334.5 225.5h0M327.5 222.5h0M324.5 224.5h0M328.5 226.5h0M321.5 227.5h0M321.5 225.5h0M323.5 225.5h0M316.5 222.5h0M316.5 226.5h0M313.5 227.5h0M309.5 223.5h0M310.5 222.5h0M311.5 225.5h0M303.5 223.5h0M305.5 227.5h0M300.5 227.5h0M296.5 222.5h0M298.5 223.5h0M299.5 222.5h0M290.5 226.5h0M293.5 227.5h0M288.5 227.5h0M282.5 222.5h0M284.5 223.5h0M282.5 224.5h0M279.5 222.5h0M279.5 227.5h0M277.5 225.5h0M281.5 226.5h0M273.5 223.5h0M274.5 226.5h0M275.5 222.5h0M268.5 224.5h0M268.5 225.5h0M259.5 226.5h0M258.5 224.5h0M261.5 225.5h0M259.5 223.5h0M252.5 226.5h0M246.5 222.5h0M247.5 226.5h0M251.5 223.5h0M247.5 223.5h0M242.5 226.5h0M243.5 222.5h0M240.5 223.5h0M234.5 222.5h0M239.5 223.5h0M234.5 224.5h0M236.5 224.5h0M232.5 224.5h0M228.5 224.5h0M232.5 226.5h0M224.5 226.5h0M223.5 224.5h0M222.5 224.5h0M226.5 226.5h0M218.5 227.5h0M218.5 223.5h0M219.5 222.5h0M221.5 222.5h0M215.5 224.5h0M214.5 225.5h0M206.5 225.5h0M205.5 224.5h0M204.5 223.5h0M206.5 224.5h0M201.5 227.5h0M203.5 223.5h0M202.5 226.5h0M195.5 222.5h0M197.5 223.5h0M194.5 224.5h0M186.5 226.5h0M189.5 225.5h0M182.5 227.5h0M183.5 224.5h0M178.5 223.5h0M176.5 224.5h0M175.5 223.5h0M172.5 224.5h0M171.5 224.5h0M167.5 224.5h0M166.5 227.5h0M162.5 224.5h0M156.5 222.5h0M157.5 222.5h0M153.5 227.5h0M154.5 225.5h0M147.5 222.5h0M147.5 225.5h0M142.5 224.5h0M137.5 227.5h0M130.5 222.5h0M131.5 225.5h0M124.5 223.5h0M119.5 226.5h0M98.5 228.5h0M119.5 230.5h0M123.5 229.5h0M129.5 228.5h0M133.5 228.5h0M143.5 232.5h0M149.5 230.5h0M145.5 233.5h0M154.5 229.5h0M151.5 230.5h0M158.5 233.5h0M158.5 232.5h0M163.5 231.5h0M167.5 233.5h0M170.5 232.5h0M173.5 231.5h0M174.5 228.5h0M175.5 230.5h0M179.5 231.5h0M183.5 229.5h0M183.5 228.5h0M188.5 233.5h0M188.5 231.5h0M187.5 229.5h0M193.5 228.5h0M197.5 229.5h0M192.5 233.5h0M201.5 229.5h0M200.5 230.5h0M208.5 228.5h0M209.5 228.5h0M205.5 229.5h0M212.5 228.5h0M215.5 231.5h0M213.5 230.5h0M218.5 229.5h0M219.5 233.5h0M220.5 233.5h0M226.5 232.5h0M226.5 228.5h0M228.5 228.5h0M230.5 233.5h0M233.5 232.5h0M229.5 229.5h0M239.5 233.5h0M238.5 233.5h0M239.5 229.5h0M239.5 232.5h0M244.5 229.5h0M245.5 229.5h0M244.5 232.5h0M250.5 230.5h0M248.5 232.5h0M251.5 232.5h0M249.5 230.5h0M255.5 229.5h0M257.5 233.5h0M256.5 228.5h0M257.5 232.5h0M263.5 230.5h0M260.5 228.5h0M259.5 231.5h0M258.5 229.5h0M267.5 233.5h0M269.5 233.5h0M269.5 232.5h0M271.5 232.5h0M274.5 228.5h0M272.5 230.5h0M271.5 229.5h0M279.5 232.5h0M280.5 233.5h0M281.5 233.5h0M277.5 233.5h0M282.5 230.5h0M286.5 232.5h0M287.5 228.5h0M289.5 232.5h0M292.5 233.5h0M293.5 229.5h0M292.5 232.5h0M294.5 232.5h0M298.5 233.5h0M297.5 228.5h0M296.5 230.5h0M305.5 228.5h0M301.5 229.5h0M309.5 233.5h0M307.5 231.5h0M310.5 231.5h0M309.5 230.5h0M312.5 232.5h0M314.5 229.5h0M313.5 228.5h0M320.5 233.5h0M320.5 229.5h0M320.5 228.5h0M318.5 232.5h0M329.5 231.5h0M329.5 232.5h0M325.5 229.5h0M331.5 228.5h0M333.5 231.5h0M331.5 229.5h0M339.5 232.5h0M336.5 232.5h0M340.5 233.5h0M338.5 228.5h0M343.5 232.5h0M344.5 228.5h0M347.5 231.5h0M348.5 231.5h0M352.5 232.5h0M353.5 228.5h0M356.5 229.5h0M357.5 229.5h0M358.5 233.5h0M358.5 228.5h0M361.5 232.5h0M363.5 228.5h0M363.5 231.5h0M368.5 229.5h0M371.5 233.5h0M366.5 229.5h0M375.5 229.5h0M376.5 233.5h0M375.5 228.5h0M380.5 232.5h0M381.5 228.5h0M382.5 233.5h0M385.5 228.5h0M386.5 232.5h0M389.5 228.5h0M385.5 229.5h0M392.5 229.5h0M393.5 233.5h0M393.5 230.5h0M398.5 233.5h0M396.5 228.5h0M397.5 231.5h0M405.5 233.5h0M407.5 229.5h0M412.5 230.5h0M409.5 232.5h0M419.5 230.5h0M418.5 233.5h0M415.5 232.5h0M422.5 229.5h0M423.5 229.5h0M420.5 231.5h0M428.5 232.5h0M431.5 229.5h0M431.5 232.5h0M436.5 232.5h0M435.5 230.5h0M442.5 230.5h0M440.5 231.5h0M443.5 228.5h0M446.5 233.5h0M447.5 232.5h0M444.5 230.5h0M453.5 228.5h0M452.5 231.5h0M453.5 230.5h0M458.5 233.5h0M457.5 230.5h0M461.5 233.5h0M461.5 228.5h0M464.5 229.5h0M465.5 229.5h0M467.5 229.5h0M471.5 232.5h0M468.5 229.5h0M479.5 230.5h0M479.5 232.5h0M475.5 233.5h0M484.5 229.5h0M483.5 228.5h0M489.5 233.5h0M489.5 228.5h0M489.5 230.5h0M497.5 233.5h0M497.5 228.5h0M501.5 228.5h0M509.5 230.5h0M515.5 229.5h0M517.5 228.5h0M518.5 232.5h0M527.5 228.5h0M529.5 229.5h0M538.5 231.5h0M551.5 229.5h0M553.5 228.5h0M559.5 232.5h0M553.5 237.5h0M546.5 236.5h0M542.5 234.5h0M541.5 239.5h0M538.5 237.5h0M532.5 238.5h0M522.5 234.5h0M527.5 238.5h0M521.5 235.5h0M511.5 238.5h0M507.5 239.5h0M509.5 237.5h0M501.5 234.5h0M497.5 236.5h0M496.5 238.5h0M495.5 236.5h0M487.5 238.5h0M491.5 238.5h0M481.5 238.5h0M482.5 234.5h0M485.5 238.5h0M474.5 237.5h0M477.5 234.5h0M479.5 234.5h0M468.5 237.5h0M472.5 235.5h0M468.5 236.5h0M462.5 238.5h0M463.5 237.5h0M466.5 238.5h0M459.5 234.5h0M461.5 238.5h0M461.5 237.5h0M451.5 234.5h0M451.5 237.5h0M454.5 237.5h0M444.5 238.5h0M446.5 238.5h0M446.5 237.5h0M447.5 236.5h0M443.5 235.5h0M441.5 237.5h0M439.5 235.5h0M432.5 238.5h0M432.5 237.5h0M434.5 237.5h0M436.5 237.5h0M427.5 238.5h0M429.5 234.5h0M426.5 239.5h0M422.5 239.5h0M422.5 235.5h0M420.5 239.5h0M420.5 234.5h0M418.5 239.5h0M415.5 237.5h0M414.5 235.5h0M408.5 234.5h0M412.5 239.5h0M409.5 237.5h0M413.5 237.5h0M404.5 239.5h0M403.5 234.5h0M403.5 237.5h0M398.5 234.5h0M399.5 239.5h0M400.5 235.5h0M401.5 235.5h0M393.5 235.5h0M393.5 238.5h0M392.5 236.5h0M391.5 239.5h0M389.5 235.5h0M389.5 234.5h0M384.5 239.5h0M379.5 236.5h0M381.5 238.5h0M378.5 236.5h0M382.5 238.5h0M372.5 234.5h0M375.5 239.5h0M372.5 236.5h0M377.5 236.5h0M370.5 236.5h0M366.5 238.5h0M366.5 237.5h0M370.5 235.5h0M363.5 238.5h0M360.5 236.5h0M361.5 236.5h0M363.5 236.5h0M359.5 235.5h0M355.5 239.5h0M359.5 238.5h0M355.5 235.5h0M351.5 239.5h0M351.5 238.5h0M349.5 236.5h0M351.5 236.5h0M342.5 236.5h0M346.5 238.5h0M342.5 235.5h0M343.5 235.5h0M338.5 235.5h0M337.5 234.5h0M340.5 237.5h0M337.5 239.5h0M332.5 235.5h0M331.5 238.5h0M332.5 239.5h0M335.5 236.5h0M325.5 238.5h0M328.5 235.5h0M329.5 235.5h0M324.5 236.5h0M318.5 237.5h0M323.5 238.5h0M321.5 238.5h0M323.5 234.5h0M313.5 234.5h0M316.5 238.5h0M317.5 238.5h0M317.5 237.5h0M307.5 237.5h0M311.5 238.5h0M306.5 235.5h0M300.5 234.5h0M300.5 237.5h0M300.5 236.5h0M300.5 239.5h0M298.5 235.5h0M299.5 239.5h0M297.5 237.5h0M297.5 236.5h0M288.5 238.5h0M290.5 234.5h0M293.5 239.5h0M292.5 239.5h0M285.5 239.5h0M285.5 237.5h0M285.5 238.5h0M287.5 238.5h0M278.5 239.5h0M277.5 234.5h0M280.5 235.5h0M281.5 235.5h0M275.5 235.5h0M274.5 234.5h0M270.5 235.5h0M271.5 235.5h0M266.5 239.5h0M264.5 234.5h0M264.5 235.5h0M266.5 236.5h0M262.5 239.5h0M261.5 236.5h0M261.5 237.5h0M259.5 235.5h0M253.5 238.5h0M252.5 237.5h0M255.5 234.5h0M255.5 236.5h0M249.5 239.5h0M247.5 237.5h0M249.5 237.5h0M251.5 236.5h0M241.5 238.5h0M244.5 239.5h0M245.5 239.5h0M234.5 237.5h0M238.5 238.5h0M234.5 235.5h0M237.5 236.5h0M231.5 234.5h0M232.5 237.5h0M222.5 238.5h0M226.5 234.5h0M226.5 237.5h0M220.5 239.5h0M217.5 236.5h0M219.5 236.5h0M214.5 235.5h0M210.5 239.5h0M208.5 236.5h0M209.5 235.5h0M209.5 239.5h0M202.5 236.5h0M201.5 234.5h0M192.5 238.5h0M194.5 234.5h0M186.5 237.5h0M186.5 239.5h0M185.5 239.5h0M185.5 234.5h0M178.5 238.5h0M175.5 235.5h0M170.5 235.5h0M168.5 235.5h0M163.5 234.5h0M163.5 237.5h0M163.5 238.5h0M156.5 236.5h0M154.5 239.5h0M150.5 239.5h0M145.5 235.5h0M143.5 239.5h0M137.5 237.5h0M130.5 239.5h0M125.5 235.5h0M119.5 236.5h0M106.5 236.5h0M99.5 244.5h0M114.5 241.5h0M122.5 245.5h0M128.5 242.5h0M132.5 243.5h0M142.5 241.5h0M147.5 243.5h0M150.5 243.5h0M160.5 240.5h0M158.5 242.5h0M162.5 243.5h0M166.5 245.5h0M172.5 244.5h0M169.5 242.5h0M176.5 241.5h0M179.5 243.5h0M183.5 240.5h0M181.5 245.5h0M190.5 242.5h0M186.5 241.5h0M193.5 244.5h0M193.5 241.5h0M199.5 240.5h0M201.5 244.5h0M207.5 244.5h0M206.5 242.5h0M213.5 240.5h0M212.5 242.5h0M216.5 240.5h0M216.5 244.5h0M221.5 245.5h0M226.5 241.5h0M224.5 240.5h0M223.5 245.5h0M232.5 242.5h0M233.5 244.5h0M229.5 242.5h0M238.5 241.5h0M234.5 242.5h0M238.5 240.5h0M245.5 241.5h0M240.5 245.5h0M251.5 242.5h0M249.5 240.5h0M248.5 243.5h0M250.5 244.5h0M254.5 245.5h0M255.5 245.5h0M256.5 242.5h0M253.5 240.5h0M261.5 245.5h0M261.5 240.5h0M259.5 241.5h0M266.5 245.5h0M265.5 240.5h0M264.5 242.5h0M269.5 242.5h0M267.5 243.5h0M270.5 245.5h0M275.5 244.5h0M272.5 242.5h0M271.5 245.5h0M279.5 244.5h0M281.5 240.5h0M279.5 242.5h0M284.5 241.5h0M287.5 245.5h0M287.5 241.5h0M285.5 244.5h0M289.5 240.5h0M293.5 241.5h0M288.5 242.5h0M293.5 242.5h0M289.5 244.5h0M299.5 241.5h0M298.5 244.5h0M295.5 241.5h0M297.5 242.5h0M300.5 244.5h0M302.5 243.5h0M304.5 240.5h0M301.5 242.5h0M311.5 244.5h0M310.5 244.5h0M306.5 242.5h0M309.5 242.5h0M316.5 245.5h0M314.5 240.5h0M312.5 242.5h0M315.5 242.5h0M317.5 244.5h0M321.5 245.5h0M321.5 244.5h0M320.5 242.5h0M323.5 243.5h0M326.5 245.5h0M324.5 244.5h0M325.5 242.5h0M329.5 240.5h0M334.5 240.5h0M333.5 240.5h0M330.5 242.5h0M331.5 242.5h0M336.5 244.5h0M337.5 244.5h0M337.5 242.5h0M339.5 241.5h0M346.5 245.5h0M342.5 241.5h0M347.5 241.5h0M343.5 242.5h0M347.5 243.5h0M351.5 244.5h0M353.5 245.5h0M349.5 243.5h0M353.5 242.5h0M358.5 245.5h0M357.5 240.5h0M358.5 240.5h0M359.5 244.5h0M361.5 242.5h0M363.5 242.5h0M363.5 243.5h0M361.5 241.5h0M366.5 244.5h0M366.5 243.5h0M371.5 241.5h0M369.5 242.5h0M374.5 245.5h0M374.5 241.5h0M372.5 243.5h0M374.5 244.5h0M372.5 245.5h0M380.5 241.5h0M381.5 245.5h0M381.5 244.5h0M385.5 240.5h0M389.5 244.5h0M384.5 245.5h0M387.5 242.5h0M392.5 241.5h0M394.5 244.5h0M392.5 243.5h0M391.5 245.5h0M396.5 240.5h0M397.5 240.5h0M396.5 242.5h0M396.5 244.5h0M402.5 240.5h0M406.5 241.5h0M403.5 243.5h0M402.5 245.5h0M408.5 240.5h0M411.5 243.5h0M410.5 242.5h0M409.5 241.5h0M414.5 244.5h0M414.5 242.5h0M414.5 241.5h0M420.5 244.5h0M422.5 240.5h0M421.5 243.5h0M428.5 241.5h0M428.5 240.5h0M430.5 240.5h0M426.5 241.5h0M432.5 244.5h0M432.5 243.5h0M432.5 241.5h0M440.5 241.5h0M439.5 244.5h0M443.5 244.5h0M443.5 243.5h0M444.5 244.5h0M447.5 240.5h0M448.5 243.5h0M451.5 242.5h0M453.5 240.5h0M454.5 245.5h0M455.5 240.5h0M459.5 240.5h0M461.5 244.5h0M459.5 242.5h0M462.5 243.5h0M464.5 243.5h0M463.5 242.5h0M472.5 241.5h0M473.5 240.5h0M473.5 243.5h0M474.5 240.5h0M479.5 241.5h0M475.5 241.5h0M480.5 240.5h0M482.5 240.5h0M484.5 243.5h0M489.5 241.5h0M489.5 243.5h0M494.5 244.5h0M495.5 243.5h0M502.5 245.5h0M498.5 242.5h0M509.5 245.5h0M505.5 245.5h0M510.5 244.5h0M511.5 242.5h0M519.5 244.5h0M516.5 241.5h0M527.5 245.5h0M523.5 241.5h0M528.5 245.5h0M533.5 243.5h0M535.5 244.5h0M535.5 243.5h0M541.5 243.5h0M547.5 242.5h0M549.5 242.5h0M554.5 240.5h0M557.5 243.5h0M560.5 244.5h0M563.5 244.5h0M564.5 244.5h0M567.5 243.5h0M573.5 241.5h0M579.5 245.5h0M576.5 243.5h0M584.5 244.5h0M587.5 244.5h0M590.5 241.5h0M597.5 240.5h0M615.5 244.5h0M630.5 240.5h0M667.5 250.5h0M620.5 250.5h0M606.5 249.5h0M598.5 251.5h0M592.5 249.5h0M587.5 248.5h0M582.5 249.5h0M578.5 251.5h0M579.5 248.5h0M574.5 250.5h0M571.5 248.5h0M568.5 247.5h0M565.5 247.5h0M562.5 250.5h0M558.5 248.5h0M552.5 246.5h0M555.5 247.5h0M551.5 251.5h0M549.5 246.5h0M541.5 250.5h0M543.5 246.5h0M536.5 246.5h0M534.5 248.5h0M528.5 250.5h0M528.5 247.5h0M526.5 248.5h0M520.5 251.5h0M521.5 251.5h0M517.5 251.5h0M512.5 250.5h0M515.5 251.5h0M509.5 248.5h0M504.5 249.5h0M499.5 249.5h0M500.5 249.5h0M503.5 246.5h0M493.5 246.5h0M493.5 249.5h0M490.5 251.5h0M487.5 249.5h0M490.5 246.5h0M482.5 247.5h0M478.5 248.5h0M479.5 247.5h0M474.5 248.5h0M470.5 247.5h0M470.5 248.5h0M469.5 251.5h0M462.5 249.5h0M466.5 250.5h0M466.5 246.5h0M461.5 251.5h0M456.5 249.5h0M461.5 247.5h0M458.5 249.5h0M454.5 247.5h0M455.5 250.5h0M452.5 248.5h0M444.5 249.5h0M449.5 249.5h0M445.5 247.5h0M440.5 247.5h0M439.5 250.5h0M442.5 251.5h0M432.5 250.5h0M432.5 246.5h0M436.5 247.5h0M426.5 250.5h0M429.5 247.5h0M428.5 246.5h0M422.5 251.5h0M420.5 250.5h0M425.5 250.5h0M414.5 250.5h0M415.5 250.5h0M418.5 247.5h0M417.5 247.5h0M411.5 247.5h0M410.5 246.5h0M411.5 248.5h0M413.5 249.5h0M404.5 247.5h0M406.5 250.5h0M407.5 246.5h0M400.5 248.5h0M398.5 251.5h0M396.5 251.5h0M401.5 249.5h0M391.5 246.5h0M394.5 247.5h0M394.5 250.5h0M391.5 247.5h0M384.5 246.5h0M384.5 250.5h0M386.5 251.5h0M387.5 248.5h0M380.5 251.5h0M379.5 249.5h0M381.5 248.5h0M379.5 251.5h0M374.5 250.5h0M376.5 250.5h0M372.5 251.5h0M368.5 251.5h0M370.5 248.5h0M368.5 250.5h0M366.5 250.5h0M363.5 246.5h0M361.5 247.5h0M363.5 248.5h0M363.5 249.5h0M361.5 250.5h0M355.5 249.5h0M358.5 251.5h0M357.5 250.5h0M359.5 249.5h0M353.5 250.5h0M352.5 250.5h0M353.5 246.5h0M349.5 251.5h0M344.5 246.5h0M345.5 249.5h0M343.5 248.5h0M346.5 249.5h0M336.5 246.5h0M338.5 251.5h0M338.5 247.5h0M339.5 247.5h0M340.5 250.5h0M335.5 251.5h0M332.5 250.5h0M330.5 249.5h0M330.5 248.5h0M328.5 248.5h0M326.5 247.5h0M326.5 249.5h0M325.5 248.5h0M321.5 251.5h0M318.5 249.5h0M323.5 247.5h0M322.5 250.5h0M312.5 246.5h0M313.5 246.5h0M314.5 248.5h0M314.5 250.5h0M312.5 251.5h0M308.5 246.5h0M310.5 251.5h0M306.5 249.5h0M306.5 247.5h0M302.5 251.5h0M302.5 247.5h0M300.5 248.5h0M301.5 247.5h0M294.5 250.5h0M298.5 250.5h0M299.5 250.5h0M297.5 248.5h0M288.5 246.5h0M292.5 248.5h0M288.5 249.5h0M289.5 249.5h0M289.5 251.5h0M286.5 248.5h0M284.5 247.5h0M287.5 247.5h0M282.5 248.5h0M276.5 250.5h0M277.5 246.5h0M279.5 249.5h0M281.5 249.5h0M272.5 247.5h0M272.5 250.5h0M275.5 247.5h0M274.5 250.5h0M267.5 250.5h0M267.5 246.5h0M268.5 250.5h0M267.5 249.5h0M260.5 247.5h0M262.5 246.5h0M252.5 250.5h0M257.5 248.5h0M256.5 250.5h0M257.5 249.5h0M246.5 246.5h0M248.5 247.5h0M251.5 247.5h0M247.5 251.5h0M244.5 248.5h0M242.5 251.5h0M244.5 251.5h0M237.5 251.5h0M236.5 248.5h0M238.5 249.5h0M230.5 247.5h0M228.5 251.5h0M232.5 249.5h0M223.5 250.5h0M224.5 250.5h0M222.5 247.5h0M216.5 250.5h0M218.5 246.5h0M216.5 251.5h0M212.5 246.5h0M212.5 249.5h0M207.5 250.5h0M206.5 249.5h0M203.5 250.5h0M201.5 249.5h0M192.5 250.5h0M197.5 246.5h0M187.5 250.5h0M187.5 246.5h0M183.5 250.5h0M180.5 251.5h0M179.5 248.5h0M178.5 247.5h0M171.5 250.5h0M172.5 249.5h0M162.5 249.5h0M165.5 249.5h0M161.5 247.5h0M151.5 250.5h0M153.5 248.5h0M147.5 249.5h0M139.5 248.5h0M132.5 247.5h0M131.5 249.5h0M122.5 246.5h0M114.5 248.5h0M94.5 249.5h0M106.5 257.5h0M117.5 252.5h0M121.5 256.5h0M131.5 254.5h0M135.5 252.5h0M147.5 252.5h0M144.5 253.5h0M151.5 254.5h0M161.5 254.5h0M159.5 255.5h0M166.5 256.5h0M163.5 254.5h0M169.5 254.5h0M179.5 257.5h0M179.5 256.5h0M184.5 253.5h0M181.5 255.5h0M189.5 257.5h0M189.5 254.5h0M194.5 256.5h0M197.5 255.5h0M200.5 253.5h0M201.5 253.5h0M206.5 254.5h0M208.5 255.5h0M211.5 254.5h0M215.5 256.5h0M219.5 256.5h0M220.5 256.5h0M221.5 252.5h0M224.5 253.5h0M225.5 254.5h0M229.5 252.5h0M231.5 257.5h0M234.5 256.5h0M235.5 256.5h0M237.5 254.5h0M242.5 257.5h0M245.5 254.5h0M245.5 253.5h0M243.5 257.5h0M250.5 256.5h0M247.5 254.5h0M247.5 253.5h0M252.5 256.5h0M255.5 257.5h0M256.5 252.5h0M257.5 255.5h0M259.5 252.5h0M261.5 252.5h0M258.5 254.5h0M261.5 255.5h0M261.5 256.5h0M267.5 253.5h0M264.5 255.5h0M269.5 254.5h0M269.5 255.5h0M272.5 256.5h0M275.5 257.5h0M274.5 256.5h0M271.5 253.5h0M280.5 253.5h0M278.5 256.5h0M279.5 252.5h0M280.5 255.5h0M284.5 257.5h0M284.5 253.5h0M284.5 254.5h0M285.5 253.5h0M291.5 253.5h0M291.5 256.5h0M290.5 255.5h0M291.5 257.5h0M294.5 256.5h0M296.5 256.5h0M298.5 256.5h0M299.5 255.5h0M303.5 252.5h0M305.5 253.5h0M304.5 254.5h0M301.5 255.5h0M304.5 256.5h0M307.5 256.5h0M308.5 252.5h0M311.5 253.5h0M310.5 252.5h0M312.5 256.5h0M313.5 255.5h0M312.5 254.5h0M313.5 254.5h0M319.5 256.5h0M318.5 254.5h0M319.5 254.5h0M319.5 253.5h0M329.5 256.5h0M327.5 252.5h0M325.5 254.5h0M335.5 253.5h0M330.5 254.5h0M331.5 254.5h0M332.5 254.5h0M341.5 254.5h0M337.5 254.5h0M338.5 254.5h0M336.5 257.5h0M344.5 253.5h0M346.5 253.5h0M342.5 255.5h0M344.5 255.5h0M346.5 255.5h0M351.5 253.5h0M349.5 255.5h0M353.5 252.5h0M349.5 257.5h0M357.5 253.5h0M358.5 257.5h0M357.5 256.5h0M355.5 253.5h0M364.5 257.5h0M363.5 256.5h0M363.5 255.5h0M362.5 254.5h0M368.5 253.5h0M368.5 252.5h0M370.5 253.5h0M367.5 253.5h0M376.5 254.5h0M373.5 255.5h0M372.5 254.5h0M375.5 255.5h0M381.5 256.5h0M378.5 254.5h0M378.5 253.5h0M383.5 255.5h0M384.5 255.5h0M386.5 256.5h0M386.5 252.5h0M389.5 255.5h0M390.5 252.5h0M392.5 256.5h0M394.5 252.5h0M395.5 255.5h0M401.5 254.5h0M398.5 252.5h0M401.5 253.5h0M399.5 253.5h0M405.5 257.5h0M402.5 254.5h0M407.5 255.5h0M413.5 257.5h0M411.5 252.5h0M409.5 254.5h0M409.5 253.5h0M415.5 254.5h0M416.5 255.5h0M418.5 256.5h0M414.5 253.5h0M422.5 253.5h0M422.5 252.5h0M423.5 252.5h0M428.5 253.5h0M427.5 252.5h0M427.5 255.5h0M427.5 254.5h0M437.5 254.5h0M435.5 256.5h0M432.5 253.5h0M438.5 252.5h0M440.5 255.5h0M438.5 253.5h0M444.5 255.5h0M447.5 255.5h0M444.5 253.5h0M453.5 253.5h0M450.5 254.5h0M453.5 255.5h0M453.5 254.5h0M458.5 257.5h0M461.5 256.5h0M459.5 254.5h0M465.5 252.5h0M465.5 253.5h0M463.5 255.5h0M469.5 252.5h0M468.5 255.5h0M469.5 253.5h0M478.5 253.5h0M479.5 256.5h0M480.5 256.5h0M486.5 256.5h0M490.5 254.5h0M486.5 254.5h0M496.5 257.5h0M497.5 252.5h0M502.5 254.5h0M499.5 256.5h0M507.5 253.5h0M507.5 256.5h0M505.5 254.5h0M512.5 252.5h0M510.5 253.5h0M516.5 255.5h0M521.5 253.5h0M525.5 257.5h0M525.5 254.5h0M530.5 256.5h0M530.5 254.5h0M535.5 254.5h0M537.5 254.5h0M544.5 257.5h0M542.5 255.5h0M551.5 257.5h0M551.5 255.5h0M553.5 255.5h0M554.5 254.5h0M559.5 255.5h0M562.5 252.5h0M564.5 254.5h0M568.5 256.5h0M571.5 256.5h0M575.5 257.5h0M576.5 255.5h0M577.5 254.5h0M582.5 252.5h0M582.5 253.5h0M591.5 252.5h0M595.5 255.5h0M610.5 257.5h0M629.5 255.5h0M680.5 253.5h0M618.5 260.5h0M605.5 261.5h0M589.5 258.5h0M583.5 258.5h0M583.5 261.5h0M576.5 259.5h0M572.5 262.5h0M574.5 261.5h0M565.5 262.5h0M565.5 259.5h0M563.5 262.5h0M556.5 260.5h0M552.5 258.5h0M547.5 258.5h0M541.5 262.5h0M545.5 260.5h0M538.5 260.5h0M539.5 263.5h0M528.5 260.5h0M524.5 260.5h0M525.5 260.5h0M519.5 262.5h0M521.5 259.5h0M512.5 262.5h0M513.5 258.5h0M504.5 258.5h0M508.5 263.5h0M501.5 260.5h0M497.5 260.5h0M495.5 261.5h0M486.5 258.5h0M486.5 263.5h0M487.5 259.5h0M481.5 261.5h0M484.5 262.5h0M477.5 263.5h0M479.5 258.5h0M468.5 262.5h0M470.5 258.5h0M473.5 263.5h0M462.5 262.5h0M466.5 261.5h0M461.5 263.5h0M460.5 261.5h0M452.5 258.5h0M454.5 263.5h0M453.5 260.5h0M444.5 258.5h0M447.5 258.5h0M446.5 261.5h0M443.5 260.5h0M442.5 259.5h0M440.5 260.5h0M435.5 259.5h0M434.5 262.5h0M434.5 258.5h0M428.5 259.5h0M428.5 262.5h0M430.5 258.5h0M426.5 259.5h0M420.5 262.5h0M422.5 259.5h0M424.5 258.5h0M418.5 258.5h0M414.5 260.5h0M412.5 260.5h0M411.5 261.5h0M411.5 260.5h0M404.5 263.5h0M403.5 258.5h0M405.5 261.5h0M398.5 259.5h0M399.5 259.5h0M397.5 261.5h0M395.5 260.5h0M394.5 262.5h0M394.5 261.5h0M384.5 262.5h0M388.5 259.5h0M386.5 261.5h0M380.5 263.5h0M379.5 258.5h0M381.5 259.5h0M383.5 261.5h0M374.5 259.5h0M372.5 262.5h0M375.5 261.5h0M373.5 258.5h0M369.5 262.5h0M367.5 261.5h0M370.5 258.5h0M364.5 259.5h0M360.5 261.5h0M361.5 261.5h0M360.5 260.5h0M358.5 260.5h0M358.5 258.5h0M359.5 262.5h0M357.5 260.5h0M348.5 258.5h0M353.5 260.5h0M349.5 260.5h0M348.5 263.5h0M347.5 260.5h0M343.5 260.5h0M347.5 262.5h0M338.5 263.5h0M339.5 263.5h0M337.5 260.5h0M341.5 262.5h0M335.5 260.5h0M335.5 259.5h0M332.5 261.5h0M331.5 259.5h0M327.5 262.5h0M328.5 259.5h0M327.5 258.5h0M320.5 258.5h0M320.5 262.5h0M318.5 261.5h0M321.5 261.5h0M314.5 258.5h0M314.5 261.5h0M316.5 262.5h0M308.5 259.5h0M308.5 258.5h0M310.5 261.5h0M305.5 263.5h0M303.5 258.5h0M304.5 262.5h0M301.5 260.5h0M297.5 258.5h0M298.5 262.5h0M299.5 262.5h0M291.5 263.5h0M289.5 261.5h0M293.5 262.5h0M290.5 260.5h0M286.5 260.5h0M287.5 260.5h0M283.5 261.5h0M285.5 263.5h0M276.5 262.5h0M277.5 258.5h0M281.5 259.5h0M273.5 262.5h0M275.5 263.5h0M273.5 258.5h0M273.5 261.5h0M268.5 263.5h0M267.5 258.5h0M266.5 261.5h0M261.5 259.5h0M262.5 263.5h0M258.5 263.5h0M254.5 263.5h0M253.5 258.5h0M255.5 261.5h0M255.5 260.5h0M249.5 262.5h0M251.5 258.5h0M247.5 263.5h0M245.5 263.5h0M243.5 258.5h0M241.5 263.5h0M234.5 262.5h0M235.5 260.5h0M229.5 262.5h0M230.5 261.5h0M233.5 258.5h0M225.5 259.5h0M227.5 259.5h0M223.5 263.5h0M218.5 263.5h0M219.5 258.5h0M215.5 259.5h0M215.5 258.5h0M206.5 263.5h0M201.5 263.5h0M201.5 260.5h0M194.5 263.5h0M197.5 260.5h0M187.5 258.5h0M180.5 262.5h0M182.5 258.5h0M175.5 262.5h0M178.5 263.5h0M170.5 260.5h0M164.5 262.5h0M162.5 260.5h0M156.5 261.5h0M151.5 262.5h0M148.5 258.5h0M141.5 262.5h0M134.5 260.5h0M129.5 260.5h0M118.5 260.5h0M103.5 259.5h0M103.5 269.5h0M122.5 267.5h0M132.5 265.5h0M146.5 264.5h0M154.5 264.5h0M165.5 264.5h0M169.5 266.5h0M178.5 266.5h0M181.5 268.5h0M186.5 266.5h0M196.5 266.5h0M202.5 264.5h0M205.5 268.5h0M213.5 264.5h0M217.5 265.5h0M227.5 265.5h0M226.5 264.5h0M228.5 268.5h0M230.5 266.5h0M236.5 264.5h0M243.5 265.5h0M243.5 268.5h0M248.5 267.5h0M251.5 267.5h0M254.5 269.5h0M252.5 265.5h0M262.5 265.5h0M259.5 267.5h0M266.5 265.5h0M269.5 264.5h0M272.5 265.5h0M271.5 268.5h0M277.5 264.5h0M281.5 264.5h0M281.5 268.5h0M286.5 265.5h0M283.5 269.5h0M291.5 268.5h0M292.5 264.5h0M295.5 268.5h0M297.5 267.5h0M301.5 264.5h0M304.5 264.5h0M301.5 269.5h0M306.5 267.5h0M307.5 266.5h0M313.5 268.5h0M317.5 264.5h0M316.5 267.5h0M319.5 264.5h0M318.5 269.5h0M327.5 265.5h0M328.5 264.5h0M329.5 264.5h0M335.5 266.5h0M333.5 264.5h0M335.5 268.5h0M338.5 269.5h0M339.5 269.5h0M346.5 266.5h0M345.5 269.5h0M344.5 268.5h0M352.5 266.5h0M348.5 266.5h0M353.5 268.5h0M359.5 264.5h0M359.5 267.5h0M362.5 268.5h0M363.5 264.5h0M362.5 266.5h0M370.5 265.5h0M371.5 265.5h0M367.5 269.5h0M377.5 268.5h0M374.5 266.5h0M380.5 265.5h0M381.5 265.5h0M380.5 267.5h0M388.5 266.5h0M388.5 264.5h0M387.5 267.5h0M391.5 268.5h0M393.5 267.5h0M396.5 266.5h0M400.5 264.5h0M397.5 266.5h0M405.5 264.5h0M412.5 265.5h0M411.5 264.5h0M418.5 266.5h0M416.5 268.5h0M416.5 266.5h0M424.5 266.5h0M425.5 264.5h0M426.5 265.5h0M428.5 266.5h0M434.5 265.5h0M434.5 268.5h0M442.5 266.5h0M438.5 266.5h0M448.5 268.5h0M449.5 267.5h0M450.5 266.5h0M460.5 266.5h0M460.5 269.5h0M466.5 266.5h0M462.5 265.5h0M469.5 264.5h0M479.5 268.5h0M481.5 265.5h0M486.5 266.5h0M494.5 265.5h0M502.5 265.5h0M504.5 267.5h0M510.5 265.5h0M516.5 265.5h0M526.5 265.5h0M529.5 267.5h0M545.5 264.5h0M547.5 266.5h0M554.5 266.5h0M561.5 266.5h0M564.5 266.5h0M576.5 267.5h0M585.5 264.5h0M594.5 267.5h0M635.5 265.5h0M590.5 271.5h0M567.5 271.5h0M538.5 271.5h0M512.5 271.5h0M489.5 270.5h0M474.5 275.5h0M457.5 271.5h0M450.5 273.5h0M438.5 272.5h0M435.5 272.5h0M429.5 270.5h0M421.5 275.5h0M414.5 273.5h0M411.5 275.5h0M413.5 270.5h0M405.5 270.5h0M398.5 274.5h0M397.5 271.5h0M390.5 271.5h0M388.5 272.5h0M388.5 270.5h0M381.5 270.5h0M377.5 275.5h0M370.5 272.5h0M366.5 275.5h0M365.5 275.5h0M361.5 272.5h0M357.5 275.5h0M348.5 273.5h0M349.5 273.5h0M344.5 272.5h0M338.5 271.5h0M340.5 275.5h0M334.5 274.5h0M325.5 272.5h0M329.5 273.5h0M321.5 270.5h0M316.5 270.5h0M311.5 272.5h0M309.5 273.5h0M304.5 271.5h0M291.5 272.5h0M285.5 273.5h0M281.5 272.5h0M272.5 275.5h0M266.5 271.5h0M253.5 271.5h0M249.5 274.5h0M241.5 271.5h0M233.5 273.5h0M220.5 273.5h0M206.5 270.5h0M194.5 270.5h0M183.5 272.5h0M159.5 273.5h0M138.5 272.5h0M120.5 272.5h0M78.5 272.5h0M122.5 278.5h0M148.5 279.5h0M174.5 280.5h0M201.5 279.5h0M225.5 276.5h0M244.5 277.5h0M262.5 276.5h0M280.5 276.5h0M288.5 279.5h0M308.5 280.5h0M312.5 279.5h0M323.5 281.5h0M327.5 277.5h0M334.5 277.5h0M338.5 281.5h0M353.5 277.5h0M357.5 279.5h0M363.5 277.5h0M367.5 276.5h0M374.5 276.5h0M380.5 278.5h0M385.5 276.5h0M392.5 279.5h0M400.5 279.5h0M412.5 278.5h0M416.5 281.5h0M420.5 277.5h0M432.5 278.5h0M452.5 277.5h0M483.5 276.5h0M544.5 280.5h0M622.5 281.5h0M570.5 287.5h0M513.5 287.5h0M442.5 287.5h0M415.5 287.5h0M398.5 284.5h0M387.5 282.5h0M371.5 285.5h0M358.5 283.5h0M336.5 285.5h0M327.5 282.5h0M306.5 286.5h0M272.5 283.5h0M231.5 287.5h0M181.5 282.5h0M138.5 286.5h0M110.5 284.5h0M130.5 291.5h0M163.5 290.5h0M210.5 290.5h0M269.5 291.5h0M305.5 290.5h0M318.5 288.5h0M336.5 292.5h0M355.5 293.5h0M374.5 293.5h0M384.5 292.5h0M406.5 288.5h0M429.5 289.5h0M475.5 293.5h0M557.5 288.5h0M642.5 296.5h0M504.5 294.5h0M424.5 294.5h0M391.5 299.5h0M363.5 296.5h0M338.5 295.5h0M312.5 298.5h0M268.5 294.5h0M183.5 297.5h0M128.5 298.5h0M147.5 300.5h0M260.5 301.5h0M320.5 305.5h0M347.5 303.5h0M366.5 300.5h0M405.5 302.5h0M488.5 300.5h0M350.5 311.5h0M139.5 311.5h0M329.5 313.5h0M342.5 321.5h0M124.5 324.5h0M313.5 330.5h0M211.5 508.5h0M425.5 508.5h0M553.5 514.5h0M497.5 514.5h0M461.5 511.5h0M414.5 512.5h0M354.5 511.5h0M295.5 514.5h0M248.5 514.5h0M209.5 511.5h0M175.5 514.5h0M157.5 515.5h0M155.5 520.5h0M165.5 521.5h0M176.5 519.5h0M181.5 518.5h0M200.5 520.5h0M223.5 517.5h0M249.5 520.5h0M280.5 518.5h0M300.5 520.5h0M343.5 518.5h0M382.5 521.5h0M418.5 520.5h0M441.5 521.5h0M457.5 520.5h0M485.5 519.5h0M505.5 521.5h0M534.5 516.5h0M567.5 523.5h0M518.5 526.5h0M496.5 527.5h0M479.5 522.5h0M458.5 524.5h0M440.5 524.5h0M423.5 525.5h0M394.5 526.5h0M357.5 522.5h0M318.5 522.5h0M296.5 524.5h0M272.5 527.5h0M248.5 522.5h0M219.5 526.5h0M199.5 526.5h0M186.5 526.5h0M176.5 527.5h0M170.5 525.5h0M160.5 526.5h0M137.5 523.5h0M159.5 530.5h0M166.5 528.5h0M178.5 530.5h0M184.5 531.5h0M199.5 528.5h0M210.5 531.5h0M237.5 530.5h0M258.5 529.5h0M284.5 528.5h0M311.5 531.5h0M336.5 529.5h0M372.5 532.5h0M406.5 530.5h0M431.5 533.5h0M455.5 529.5h0M472.5 533.5h0M490.5 530.5h0M505.5 528.5h0M537.5 533.5h0M602.5 538.5h0M528.5 534.5h0M506.5 538.5h0M485.5 537.5h0M463.5 534.5h0M444.5 537.5h0M427.5 539.5h0M410.5 538.5h0M379.5 538.5h0M359.5 534.5h0M326.5 539.5h0M305.5 537.5h0M282.5 536.5h0M268.5 535.5h0M242.5 538.5h0M224.5 539.5h0M215.5 539.5h0M193.5 534.5h0M184.5 539.5h0M176.5 536.5h0M170.5 535.5h0M165.5 538.5h0M154.5 539.5h0M125.5 535.5h0M127.5 542.5h0M142.5 545.5h0M149.5 542.5h0M154.5 540.5h0M157.5 542.5h0M166.5 540.5h0M172.5 545.5h0M168.5 542.5h0M175.5 541.5h0M182.5 541.5h0M182.5 544.5h0M187.5 545.5h0M201.5 544.5h0M204.5 543.5h0M212.5 542.5h0M220.5 543.5h0M222.5 544.5h0M236.5 544.5h0M241.5 544.5h0M249.5 541.5h0M262.5 542.5h0M273.5 544.5h0M276.5 542.5h0M292.5 545.5h0M299.5 545.5h0M311.5 545.5h0M319.5 544.5h0M330.5 544.5h0M346.5 545.5h0M356.5 543.5h0M367.5 542.5h0M380.5 544.5h0M401.5 542.5h0M408.5 540.5h0M426.5 545.5h0M439.5 541.5h0M452.5 544.5h0M469.5 541.5h0M483.5 542.5h0M508.5 540.5h0M522.5 543.5h0M553.5 544.5h0M559.5 546.5h0M536.5 549.5h0M517.5 551.5h0M503.5 546.5h0M482.5 549.5h0M469.5 550.5h0M456.5 546.5h0M447.5 547.5h0M435.5 550.5h0M430.5 548.5h0M425.5 551.5h0M412.5 551.5h0M402.5 548.5h0M396.5 546.5h0M389.5 548.5h0M379.5 551.5h0M369.5 549.5h0M363.5 548.5h0M358.5 549.5h0M350.5 550.5h0M344.5 550.5h0M336.5 546.5h0M330.5 550.5h0M327.5 550.5h0M318.5 546.5h0M314.5 550.5h0M311.5 550.5h0M305.5 546.5h0M297.5 551.5h0M291.5 550.5h0M288.5 548.5h0M286.5 546.5h0M279.5 550.5h0M273.5 546.5h0M269.5 551.5h0M268.5 549.5h0M263.5 550.5h0M255.5 546.5h0M246.5 550.5h0M243.5 551.5h0M243.5 549.5h0M235.5 550.5h0M232.5 551.5h0M229.5 548.5h0M226.5 551.5h0M218.5 547.5h0M220.5 549.5h0M212.5 550.5h0M206.5 550.5h0M208.5 551.5h0M202.5 547.5h0M199.5 549.5h0M193.5 549.5h0M192.5 551.5h0M186.5 550.5h0M184.5 548.5h0M183.5 550.5h0M183.5 548.5h0M175.5 550.5h0M177.5 551.5h0M170.5 550.5h0M169.5 547.5h0M162.5 546.5h0M166.5 547.5h0M164.5 546.5h0M159.5 551.5h0M157.5 549.5h0M154.5 551.5h0M155.5 546.5h0M146.5 549.5h0M145.5 551.5h0M140.5 546.5h0M134.5 550.5h0M131.5 548.5h0M129.5 548.5h0M117.5 551.5h0M124.5 557.5h0M127.5 552.5h0M136.5 554.5h0M137.5 555.5h0M139.5 555.5h0M143.5 552.5h0M144.5 552.5h0M148.5 557.5h0M150.5 552.5h0M151.5 552.5h0M150.5 557.5h0M160.5 553.5h0M161.5 553.5h0M161.5 556.5h0M163.5 555.5h0M163.5 554.5h0M165.5 554.5h0M172.5 554.5h0M168.5 555.5h0M172.5 555.5h0M177.5 555.5h0M175.5 555.5h0M178.5 556.5h0M179.5 556.5h0M185.5 554.5h0M183.5 552.5h0M187.5 552.5h0M189.5 554.5h0M193.5 552.5h0M192.5 555.5h0M199.5 557.5h0M199.5 553.5h0M206.5 557.5h0M206.5 552.5h0M210.5 556.5h0M212.5 556.5h0M219.5 553.5h0M220.5 556.5h0M222.5 556.5h0M225.5 553.5h0M228.5 554.5h0M232.5 555.5h0M238.5 556.5h0M239.5 555.5h0M241.5 552.5h0M245.5 553.5h0M246.5 556.5h0M249.5 552.5h0M254.5 557.5h0M260.5 552.5h0M262.5 556.5h0M267.5 555.5h0M272.5 556.5h0M272.5 554.5h0M278.5 552.5h0M283.5 556.5h0M286.5 553.5h0M289.5 552.5h0M291.5 553.5h0M295.5 554.5h0M301.5 554.5h0M309.5 557.5h0M312.5 553.5h0M319.5 552.5h0M322.5 552.5h0M326.5 555.5h0M332.5 552.5h0M336.5 552.5h0M347.5 554.5h0M352.5 554.5h0M348.5 554.5h0M354.5 557.5h0M361.5 553.5h0M368.5 557.5h0M372.5 553.5h0M379.5 553.5h0M387.5 555.5h0M392.5 552.5h0M403.5 556.5h0M409.5 554.5h0M419.5 553.5h0M424.5 557.5h0M428.5 556.5h0M434.5 554.5h0M438.5 554.5h0M453.5 555.5h0M466.5 553.5h0M479.5 555.5h0M490.5 557.5h0M501.5 556.5h0M521.5 556.5h0M536.5 557.5h0M556.5 554.5h0M583.5 558.5h0M551.5 560.5h0M528.5 559.5h0M510.5 561.5h0M494.5 562.5h0M485.5 562.5h0M471.5 560.5h0M456.5 558.5h0M451.5 560.5h0M443.5 559.5h0M433.5 561.5h0M423.5 558.5h0M421.5 559.5h0M415.5 558.5h0M409.5 560.5h0M405.5 558.5h0M393.5 559.5h0M386.5 559.5h0M381.5 562.5h0M377.5 559.5h0M370.5 563.5h0M365.5 563.5h0M358.5 560.5h0M358.5 561.5h0M350.5 563.5h0M344.5 559.5h0M341.5 558.5h0M334.5 560.5h0M333.5 560.5h0M327.5 561.5h0M322.5 560.5h0M312.5 561.5h0M313.5 561.5h0M309.5 560.5h0M300.5 561.5h0M305.5 562.5h0M298.5 560.5h0M291.5 558.5h0M293.5 561.5h0M285.5 561.5h0M279.5 562.5h0M278.5 561.5h0M270.5 558.5h0M271.5 563.5h0M269.5 559.5h0M262.5 559.5h0M261.5 560.5h0M252.5 561.5h0M256.5 558.5h0M249.5 563.5h0M240.5 558.5h0M240.5 563.5h0M239.5 560.5h0M234.5 563.5h0M231.5 563.5h0M229.5 560.5h0M224.5 561.5h0M223.5 559.5h0M217.5 558.5h0M220.5 562.5h0M215.5 563.5h0M212.5 561.5h0M209.5 559.5h0M206.5 558.5h0M207.5 558.5h0M200.5 559.5h0M201.5 560.5h0M194.5 562.5h0M193.5 561.5h0M190.5 558.5h0M190.5 561.5h0M180.5 558.5h0M183.5 558.5h0M182.5 561.5h0M174.5 562.5h0M179.5 560.5h0M179.5 562.5h0M175.5 563.5h0M168.5 562.5h0M169.5 558.5h0M172.5 562.5h0M164.5 563.5h0M166.5 563.5h0M163.5 559.5h0M158.5 559.5h0M159.5 563.5h0M161.5 560.5h0M153.5 559.5h0M152.5 561.5h0M144.5 561.5h0M147.5 558.5h0M148.5 563.5h0M140.5 563.5h0M138.5 560.5h0M132.5 558.5h0M135.5 561.5h0M129.5 563.5h0M125.5 563.5h0M117.5 568.5h0M127.5 564.5h0M130.5 564.5h0M131.5 568.5h0M137.5 565.5h0M133.5 567.5h0M138.5 568.5h0M139.5 564.5h0M139.5 565.5h0M144.5 569.5h0M146.5 566.5h0M150.5 564.5h0M152.5 564.5h0M160.5 565.5h0M159.5 564.5h0M158.5 567.5h0M156.5 569.5h0M163.5 564.5h0M167.5 565.5h0M162.5 566.5h0M173.5 566.5h0M169.5 567.5h0M172.5 567.5h0M177.5 565.5h0M174.5 569.5h0M179.5 567.5h0M181.5 564.5h0M182.5 568.5h0M183.5 564.5h0M186.5 569.5h0M196.5 569.5h0M195.5 567.5h0M192.5 565.5h0M202.5 566.5h0M203.5 564.5h0M207.5 564.5h0M208.5 568.5h0M212.5 564.5h0M210.5 567.5h0M219.5 567.5h0M217.5 569.5h0M226.5 566.5h0M226.5 569.5h0M229.5 564.5h0M231.5 567.5h0M238.5 568.5h0M236.5 566.5h0M241.5 564.5h0M240.5 567.5h0M247.5 566.5h0M249.5 566.5h0M255.5 567.5h0M255.5 566.5h0M260.5 564.5h0M266.5 564.5h0M265.5 567.5h0M270.5 567.5h0M271.5 569.5h0M280.5 565.5h0M286.5 566.5h0M286.5 568.5h0M289.5 568.5h0M299.5 566.5h0M298.5 567.5h0M302.5 567.5h0M303.5 567.5h0M306.5 566.5h0M313.5 564.5h0M320.5 569.5h0M321.5 564.5h0M326.5 564.5h0M333.5 565.5h0M338.5 569.5h0M341.5 564.5h0M343.5 566.5h0M350.5 564.5h0M359.5 567.5h0M365.5 565.5h0M365.5 568.5h0M369.5 569.5h0M372.5 568.5h0M383.5 565.5h0M389.5 567.5h0M399.5 568.5h0M404.5 566.5h0M408.5 565.5h0M419.5 567.5h0M424.5 566.5h0M428.5 569.5h0M432.5 566.5h0M440.5 564.5h0M454.5 567.5h0M464.5 568.5h0M469.5 569.5h0M490.5 566.5h0M501.5 567.5h0M521.5 567.5h0M528.5 568.5h0M548.5 567.5h0M614.5 568.5h0M546.5 572.5h0M537.5 574.5h0M516.5 570.5h0M500.5 574.5h0M489.5 573.5h0M476.5 571.5h0M466.5 571.5h0M451.5 570.5h0M449.5 571.5h0M435.5 571.5h0M429.5 573.5h0M422.5 574.5h0M419.5 571.5h0M408.5 571.5h0M403.5 574.5h0M399.5 571.5h0M390.5 575.5h0M387.5 575.5h0M379.5 572.5h0M375.5 572.5h0M367.5 574.5h0M363.5 574.5h0M361.5 572.5h0M355.5 572.5h0M351.5 575.5h0M342.5 573.5h0M343.5 572.5h0M336.5 570.5h0M334.5 570.5h0M335.5 570.5h0M329.5 575.5h0M320.5 571.5h0M312.5 570.5h0M317.5 570.5h0M307.5 571.5h0M301.5 572.5h0M301.5 575.5h0M298.5 575.5h0M299.5 573.5h0M291.5 571.5h0M289.5 575.5h0M282.5 575.5h0M276.5 574.5h0M279.5 570.5h0M275.5 575.5h0M270.5 572.5h0M264.5 573.5h0M264.5 575.5h0M263.5 570.5h0M256.5 570.5h0M253.5 575.5h0M248.5 574.5h0M250.5 573.5h0M243.5 571.5h0M241.5 575.5h0M238.5 571.5h0M236.5 570.5h0M232.5 572.5h0M233.5 574.5h0M225.5 575.5h0M227.5 574.5h0M220.5 574.5h0M217.5 575.5h0M214.5 572.5h0M211.5 573.5h0M210.5 575.5h0M209.5 572.5h0M206.5 574.5h0M198.5 574.5h0M203.5 574.5h0M197.5 575.5h0M194.5 573.5h0M186.5 572.5h0M190.5 574.5h0M190.5 573.5h0M180.5 574.5h0M184.5 575.5h0M181.5 573.5h0M176.5 572.5h0M174.5 575.5h0M174.5 571.5h0M169.5 574.5h0M173.5 575.5h0M173.5 574.5h0M172.5 573.5h0M164.5 575.5h0M167.5 572.5h0M162.5 571.5h0M159.5 575.5h0M159.5 570.5h0M156.5 572.5h0M155.5 571.5h0M153.5 574.5h0M150.5 575.5h0M145.5 573.5h0M146.5 572.5h0M139.5 574.5h0M139.5 571.5h0M139.5 575.5h0M136.5 571.5h0M135.5 574.5h0M133.5 571.5h0M131.5 572.5h0M131.5 571.5h0M123.5 571.5h0M97.5 573.5h0M125.5 578.5h0M129.5 581.5h0M128.5 580.5h0M129.5 578.5h0M133.5 580.5h0M137.5 581.5h0M134.5 579.5h0M132.5 577.5h0M142.5 578.5h0M141.5 579.5h0M143.5 580.5h0M149.5 581.5h0M149.5 579.5h0M151.5 576.5h0M155.5 577.5h0M153.5 577.5h0M160.5 577.5h0M160.5 579.5h0M156.5 577.5h0M164.5 581.5h0M164.5 576.5h0M163.5 579.5h0M164.5 578.5h0M170.5 577.5h0M171.5 581.5h0M168.5 579.5h0M171.5 579.5h0M177.5 578.5h0M175.5 578.5h0M179.5 579.5h0M184.5 581.5h0M185.5 577.5h0M180.5 578.5h0M188.5 577.5h0M186.5 576.5h0M190.5 576.5h0M196.5 578.5h0M194.5 576.5h0M196.5 581.5h0M198.5 580.5h0M203.5 577.5h0M201.5 580.5h0M204.5 576.5h0M204.5 580.5h0M209.5 579.5h0M210.5 576.5h0M212.5 581.5h0M211.5 577.5h0M218.5 579.5h0M216.5 581.5h0M227.5 581.5h0M223.5 577.5h0M232.5 578.5h0M228.5 581.5h0M239.5 578.5h0M238.5 580.5h0M242.5 576.5h0M245.5 576.5h0M243.5 578.5h0M249.5 581.5h0M249.5 580.5h0M254.5 577.5h0M256.5 579.5h0M259.5 580.5h0M259.5 581.5h0M267.5 580.5h0M265.5 578.5h0M270.5 580.5h0M270.5 578.5h0M276.5 578.5h0M278.5 579.5h0M284.5 580.5h0M286.5 579.5h0M282.5 581.5h0M292.5 578.5h0M293.5 576.5h0M299.5 580.5h0M299.5 579.5h0M303.5 576.5h0M301.5 581.5h0M310.5 578.5h0M310.5 581.5h0M317.5 581.5h0M312.5 577.5h0M321.5 581.5h0M322.5 579.5h0M327.5 580.5h0M332.5 580.5h0M333.5 578.5h0M341.5 579.5h0M342.5 576.5h0M347.5 576.5h0M352.5 578.5h0M350.5 578.5h0M358.5 581.5h0M364.5 578.5h0M365.5 581.5h0M367.5 581.5h0M374.5 580.5h0M372.5 581.5h0M381.5 577.5h0M389.5 580.5h0M392.5 579.5h0M401.5 578.5h0M404.5 581.5h0M411.5 580.5h0M411.5 578.5h0M415.5 580.5h0M423.5 579.5h0M427.5 577.5h0M432.5 578.5h0M440.5 578.5h0M446.5 577.5h0M456.5 578.5h0M462.5 576.5h0M479.5 576.5h0M482.5 580.5h0M492.5 580.5h0M509.5 578.5h0M522.5 577.5h0M541.5 576.5h0M564.5 581.5h0M574.5 587.5h0M549.5 585.5h0M529.5 585.5h0M515.5 583.5h0M495.5 585.5h0M491.5 586.5h0M481.5 584.5h0M470.5 585.5h0M463.5 583.5h0M456.5 584.5h0M452.5 586.5h0M441.5 585.5h0M437.5 585.5h0M431.5 582.5h0M426.5 583.5h0M423.5 587.5h0M418.5 583.5h0M413.5 582.5h0M402.5 584.5h0M398.5 585.5h0M392.5 587.5h0M392.5 584.5h0M389.5 582.5h0M381.5 585.5h0M374.5 586.5h0M377.5 586.5h0M368.5 587.5h0M362.5 585.5h0M364.5 586.5h0M356.5 587.5h0M359.5 583.5h0M352.5 585.5h0M346.5 583.5h0M346.5 582.5h0M341.5 584.5h0M339.5 582.5h0M335.5 586.5h0M328.5 582.5h0M328.5 585.5h0M318.5 582.5h0M318.5 585.5h0M312.5 586.5h0M312.5 587.5h0M309.5 583.5h0M307.5 585.5h0M304.5 587.5h0M302.5 585.5h0M297.5 582.5h0M298.5 586.5h0M297.5 585.5h0M292.5 584.5h0M292.5 583.5h0M288.5 583.5h0M286.5 584.5h0M284.5 582.5h0M285.5 584.5h0M279.5 582.5h0M279.5 584.5h0M270.5 582.5h0M274.5 583.5h0M271.5 584.5h0M266.5 583.5h0M264.5 584.5h0M258.5 584.5h0M262.5 582.5h0M254.5 582.5h0M256.5 586.5h0M255.5 585.5h0M251.5 584.5h0M248.5 586.5h0M242.5 582.5h0M241.5 585.5h0M242.5 584.5h0M237.5 582.5h0M239.5 587.5h0M234.5 584.5h0M228.5 585.5h0M232.5 583.5h0M222.5 582.5h0M223.5 586.5h0M223.5 584.5h0M218.5 586.5h0M218.5 585.5h0M217.5 584.5h0M213.5 586.5h0M213.5 582.5h0M210.5 584.5h0M204.5 582.5h0M208.5 584.5h0M209.5 586.5h0M204.5 587.5h0M202.5 584.5h0M201.5 585.5h0M200.5 584.5h0M197.5 584.5h0M197.5 582.5h0M195.5 585.5h0M190.5 584.5h0M190.5 587.5h0M191.5 587.5h0M186.5 583.5h0M184.5 583.5h0M185.5 587.5h0M184.5 582.5h0M185.5 586.5h0M174.5 582.5h0M179.5 584.5h0M179.5 583.5h0M179.5 585.5h0M168.5 586.5h0M172.5 583.5h0M170.5 584.5h0M169.5 587.5h0M163.5 585.5h0M165.5 582.5h0M166.5 582.5h0M163.5 584.5h0M156.5 586.5h0M160.5 584.5h0M161.5 587.5h0M160.5 586.5h0M152.5 587.5h0M155.5 584.5h0M154.5 587.5h0M148.5 583.5h0M144.5 585.5h0M145.5 584.5h0M142.5 587.5h0M143.5 583.5h0M140.5 585.5h0M141.5 584.5h0M137.5 587.5h0M132.5 583.5h0M133.5 584.5h0M135.5 584.5h0M134.5 585.5h0M127.5 582.5h0M129.5 585.5h0M130.5 585.5h0M121.5 585.5h0M117.5 587.5h0M118.5 590.5h0M124.5 593.5h0M126.5 588.5h0M128.5 591.5h0M126.5 589.5h0M127.5 593.5h0M134.5 589.5h0M132.5 591.5h0M133.5 591.5h0M133.5 589.5h0M138.5 592.5h0M138.5 590.5h0M139.5 593.5h0M146.5 589.5h0M149.5 590.5h0M147.5 588.5h0M150.5 588.5h0M153.5 589.5h0M154.5 593.5h0M150.5 590.5h0M156.5 592.5h0M160.5 590.5h0M158.5 588.5h0M157.5 589.5h0M165.5 589.5h0M164.5 588.5h0M162.5 589.5h0M165.5 593.5h0M170.5 593.5h0M172.5 589.5h0M169.5 591.5h0M168.5 590.5h0M175.5 588.5h0M174.5 591.5h0M174.5 590.5h0M182.5 592.5h0M181.5 591.5h0M180.5 593.5h0M181.5 589.5h0M186.5 591.5h0M188.5 591.5h0M188.5 590.5h0M194.5 589.5h0M194.5 592.5h0M195.5 591.5h0M201.5 592.5h0M198.5 590.5h0M200.5 590.5h0M205.5 592.5h0M205.5 593.5h0M208.5 591.5h0M209.5 591.5h0M213.5 593.5h0M212.5 592.5h0M211.5 591.5h0M220.5 593.5h0M221.5 593.5h0M220.5 592.5h0M222.5 591.5h0M226.5 593.5h0M224.5 592.5h0M228.5 591.5h0M231.5 592.5h0M231.5 591.5h0M234.5 592.5h0M235.5 588.5h0M234.5 591.5h0M242.5 589.5h0M241.5 588.5h0M245.5 592.5h0M247.5 590.5h0M247.5 589.5h0M256.5 590.5h0M252.5 591.5h0M257.5 589.5h0M261.5 588.5h0M262.5 591.5h0M267.5 593.5h0M264.5 590.5h0M266.5 590.5h0M272.5 589.5h0M270.5 589.5h0M277.5 591.5h0M280.5 588.5h0M280.5 591.5h0M284.5 592.5h0M285.5 588.5h0M282.5 589.5h0M289.5 588.5h0M289.5 591.5h0M291.5 590.5h0M298.5 592.5h0M299.5 588.5h0M305.5 590.5h0M302.5 588.5h0M301.5 592.5h0M311.5 589.5h0M310.5 588.5h0M307.5 593.5h0M312.5 591.5h0M314.5 591.5h0M319.5 592.5h0M324.5 588.5h0M326.5 589.5h0M334.5 589.5h0M330.5 593.5h0M340.5 589.5h0M340.5 593.5h0M345.5 588.5h0M347.5 591.5h0M349.5 590.5h0M349.5 589.5h0M354.5 588.5h0M361.5 588.5h0M363.5 588.5h0M369.5 592.5h0M367.5 593.5h0M373.5 590.5h0M375.5 590.5h0M378.5 588.5h0M387.5 592.5h0M386.5 591.5h0M390.5 589.5h0M396.5 591.5h0M404.5 588.5h0M407.5 588.5h0M410.5 588.5h0M416.5 589.5h0M417.5 588.5h0M423.5 591.5h0M429.5 588.5h0M436.5 592.5h0M438.5 590.5h0M445.5 592.5h0M455.5 593.5h0M461.5 591.5h0M468.5 592.5h0M474.5 590.5h0M482.5 589.5h0M488.5 593.5h0M499.5 593.5h0M512.5 589.5h0M530.5 591.5h0M549.5 589.5h0M576.5 593.5h0M565.5 596.5h0M541.5 595.5h0M523.5 598.5h0M506.5 595.5h0M494.5 596.5h0M489.5 595.5h0M476.5 596.5h0M469.5 598.5h0M463.5 596.5h0M458.5 597.5h0M454.5 594.5h0M446.5 599.5h0M434.5 594.5h0M437.5 598.5h0M427.5 597.5h0M420.5 599.5h0M416.5 595.5h0M417.5 594.5h0M412.5 597.5h0M404.5 597.5h0M398.5 598.5h0M400.5 594.5h0M395.5 594.5h0M387.5 599.5h0M389.5 596.5h0M380.5 594.5h0M373.5 598.5h0M372.5 596.5h0M369.5 599.5h0M360.5 597.5h0M361.5 595.5h0M355.5 594.5h0M355.5 599.5h0M349.5 598.5h0M353.5 595.5h0M347.5 599.5h0M342.5 599.5h0M336.5 598.5h0M337.5 596.5h0M330.5 598.5h0M335.5 595.5h0M328.5 594.5h0M321.5 598.5h0M322.5 594.5h0M314.5 595.5h0M313.5 599.5h0M311.5 599.5h0M307.5 596.5h0M307.5 595.5h0M300.5 594.5h0M301.5 594.5h0M299.5 599.5h0M297.5 598.5h0M297.5 596.5h0M291.5 597.5h0M293.5 598.5h0M292.5 597.5h0M286.5 596.5h0M286.5 595.5h0M283.5 597.5h0M279.5 595.5h0M278.5 596.5h0M276.5 599.5h0M275.5 599.5h0M271.5 599.5h0M267.5 599.5h0M269.5 594.5h0M264.5 595.5h0M261.5 594.5h0M258.5 599.5h0M256.5 596.5h0M255.5 595.5h0M254.5 596.5h0M251.5 596.5h0M251.5 594.5h0M243.5 598.5h0M244.5 594.5h0M245.5 594.5h0M236.5 599.5h0M239.5 595.5h0M235.5 595.5h0M233.5 596.5h0M233.5 599.5h0M231.5 599.5h0M223.5 596.5h0M222.5 595.5h0M222.5 599.5h0M220.5 598.5h0M221.5 598.5h0M218.5 596.5h0M212.5 599.5h0M212.5 594.5h0M213.5 596.5h0M207.5 597.5h0M206.5 597.5h0M205.5 596.5h0M206.5 596.5h0M201.5 596.5h0M198.5 595.5h0M200.5 596.5h0M194.5 599.5h0M192.5 596.5h0M194.5 597.5h0M195.5 597.5h0M186.5 598.5h0M189.5 599.5h0M189.5 595.5h0M187.5 594.5h0M184.5 596.5h0M184.5 598.5h0M182.5 597.5h0M177.5 594.5h0M174.5 598.5h0M179.5 595.5h0M178.5 598.5h0M172.5 596.5h0M171.5 595.5h0M173.5 594.5h0M170.5 595.5h0M164.5 595.5h0M165.5 598.5h0M162.5 596.5h0M163.5 599.5h0M158.5 594.5h0M158.5 598.5h0M156.5 597.5h0M156.5 599.5h0M153.5 594.5h0M155.5 594.5h0M150.5 595.5h0M146.5 599.5h0M148.5 595.5h0M148.5 597.5h0M147.5 596.5h0M138.5 597.5h0M142.5 594.5h0M141.5 597.5h0M139.5 599.5h0M135.5 599.5h0M133.5 597.5h0M134.5 596.5h0M129.5 599.5h0M128.5 594.5h0M129.5 594.5h0M128.5 595.5h0M127.5 596.5h0M120.5 598.5h0M106.5 603.5h0M123.5 603.5h0M129.5 604.5h0M127.5 604.5h0M131.5 601.5h0M131.5 602.5h0M132.5 600.5h0M137.5 605.5h0M135.5 600.5h0M136.5 600.5h0M136.5 601.5h0M141.5 605.5h0M142.5 601.5h0M143.5 605.5h0M143.5 604.5h0M144.5 605.5h0M149.5 604.5h0M148.5 603.5h0M146.5 602.5h0M155.5 602.5h0M154.5 601.5h0M153.5 604.5h0M155.5 605.5h0M159.5 605.5h0M156.5 603.5h0M161.5 602.5h0M157.5 605.5h0M165.5 605.5h0M164.5 604.5h0M166.5 605.5h0M162.5 605.5h0M168.5 600.5h0M171.5 600.5h0M171.5 603.5h0M168.5 601.5h0M174.5 600.5h0M177.5 605.5h0M177.5 602.5h0M181.5 601.5h0M183.5 601.5h0M184.5 602.5h0M183.5 603.5h0M181.5 605.5h0M188.5 601.5h0M188.5 604.5h0M190.5 600.5h0M197.5 602.5h0M196.5 605.5h0M194.5 600.5h0M196.5 600.5h0M201.5 600.5h0M203.5 604.5h0M202.5 603.5h0M206.5 601.5h0M206.5 604.5h0M209.5 605.5h0M208.5 604.5h0M210.5 600.5h0M214.5 604.5h0M213.5 602.5h0M216.5 600.5h0M220.5 605.5h0M216.5 605.5h0M219.5 602.5h0M226.5 601.5h0M224.5 604.5h0M225.5 604.5h0M230.5 604.5h0M229.5 603.5h0M231.5 602.5h0M238.5 602.5h0M235.5 603.5h0M245.5 602.5h0M245.5 605.5h0M241.5 605.5h0M248.5 601.5h0M247.5 603.5h0M247.5 602.5h0M256.5 602.5h0M255.5 604.5h0M253.5 601.5h0M258.5 603.5h0M262.5 600.5h0M264.5 603.5h0M265.5 602.5h0M269.5 600.5h0M270.5 603.5h0M275.5 605.5h0M280.5 601.5h0M281.5 604.5h0M277.5 601.5h0M283.5 604.5h0M282.5 602.5h0M283.5 602.5h0M293.5 605.5h0M292.5 600.5h0M293.5 604.5h0M294.5 603.5h0M294.5 605.5h0M297.5 602.5h0M304.5 601.5h0M304.5 605.5h0M305.5 603.5h0M306.5 605.5h0M310.5 603.5h0M314.5 605.5h0M312.5 604.5h0M323.5 605.5h0M322.5 603.5h0M325.5 600.5h0M329.5 604.5h0M334.5 604.5h0M332.5 602.5h0M340.5 602.5h0M339.5 605.5h0M344.5 604.5h0M351.5 605.5h0M349.5 605.5h0M355.5 604.5h0M356.5 603.5h0M365.5 601.5h0M360.5 602.5h0M369.5 604.5h0M366.5 605.5h0M372.5 600.5h0M376.5 604.5h0M378.5 603.5h0M388.5 605.5h0M386.5 600.5h0M393.5 600.5h0M401.5 602.5h0M398.5 602.5h0M407.5 602.5h0M413.5 601.5h0M418.5 602.5h0M418.5 600.5h0M423.5 605.5h0M428.5 600.5h0M431.5 600.5h0M436.5 600.5h0M442.5 604.5h0M447.5 600.5h0M459.5 603.5h0M465.5 601.5h0M471.5 602.5h0M477.5 601.5h0M480.5 605.5h0M492.5 603.5h0M502.5 604.5h0M517.5 605.5h0M536.5 605.5h0M552.5 601.5h0M587.5 600.5h0M560.5 608.5h0M541.5 609.5h0M528.5 609.5h0M511.5 611.5h0M502.5 611.5h0M488.5 611.5h0M481.5 611.5h0M474.5 609.5h0M469.5 609.5h0M467.5 610.5h0M458.5 608.5h0M454.5 607.5h0M449.5 609.5h0M439.5 610.5h0M434.5 610.5h0M430.5 611.5h0M430.5 609.5h0M420.5 606.5h0M418.5 610.5h0M414.5 611.5h0M408.5 610.5h0M413.5 606.5h0M406.5 607.5h0M401.5 606.5h0M396.5 607.5h0M394.5 610.5h0M390.5 607.5h0M385.5 609.5h0M379.5 606.5h0M375.5 606.5h0M372.5 608.5h0M368.5 610.5h0M366.5 608.5h0M364.5 608.5h0M361.5 607.5h0M356.5 611.5h0M355.5 608.5h0M348.5 608.5h0M352.5 610.5h0M345.5 610.5h0M347.5 607.5h0M346.5 606.5h0M338.5 610.5h0M337.5 608.5h0M331.5 606.5h0M333.5 610.5h0M324.5 610.5h0M329.5 611.5h0M325.5 611.5h0M318.5 606.5h0M319.5 611.5h0M312.5 608.5h0M317.5 606.5h0M309.5 607.5h0M307.5 609.5h0M309.5 609.5h0M300.5 610.5h0M304.5 611.5h0M300.5 611.5h0M299.5 611.5h0M297.5 610.5h0M296.5 609.5h0M299.5 606.5h0M288.5 606.5h0M293.5 607.5h0M289.5 608.5h0M282.5 610.5h0M285.5 609.5h0M277.5 610.5h0M280.5 611.5h0M279.5 608.5h0M272.5 606.5h0M273.5 610.5h0M275.5 609.5h0M268.5 608.5h0M267.5 607.5h0M267.5 610.5h0M258.5 606.5h0M262.5 611.5h0M259.5 609.5h0M257.5 608.5h0M253.5 608.5h0M253.5 607.5h0M251.5 608.5h0M251.5 611.5h0M246.5 608.5h0M243.5 607.5h0M242.5 610.5h0M241.5 609.5h0M234.5 606.5h0M239.5 611.5h0M238.5 609.5h0M237.5 608.5h0M230.5 607.5h0M228.5 610.5h0M228.5 607.5h0M222.5 610.5h0M225.5 607.5h0M225.5 608.5h0M219.5 607.5h0M221.5 606.5h0M221.5 607.5h0M221.5 610.5h0M212.5 611.5h0M215.5 608.5h0M205.5 606.5h0M209.5 611.5h0M205.5 610.5h0M207.5 608.5h0M203.5 606.5h0M203.5 610.5h0M202.5 609.5h0M192.5 610.5h0M196.5 606.5h0M196.5 609.5h0M195.5 608.5h0M187.5 606.5h0M189.5 610.5h0M187.5 608.5h0M191.5 609.5h0M185.5 606.5h0M180.5 609.5h0M182.5 609.5h0M184.5 609.5h0M182.5 610.5h0M176.5 611.5h0M174.5 606.5h0M175.5 608.5h0M179.5 609.5h0M176.5 610.5h0M175.5 611.5h0M170.5 611.5h0M169.5 606.5h0M170.5 606.5h0M173.5 611.5h0M170.5 607.5h0M173.5 610.5h0M164.5 611.5h0M166.5 606.5h0M164.5 607.5h0M162.5 609.5h0M162.5 610.5h0M163.5 610.5h0M161.5 611.5h0M159.5 607.5h0M161.5 607.5h0M157.5 608.5h0M159.5 609.5h0M153.5 606.5h0M154.5 608.5h0M151.5 609.5h0M151.5 610.5h0M155.5 610.5h0M146.5 611.5h0M145.5 606.5h0M144.5 608.5h0M144.5 606.5h0M141.5 606.5h0M143.5 606.5h0M139.5 607.5h0M142.5 607.5h0M143.5 609.5h0M138.5 610.5h0M136.5 607.5h0M132.5 608.5h0M133.5 608.5h0M134.5 608.5h0M133.5 609.5h0M133.5 611.5h0M126.5 608.5h0M131.5 608.5h0M126.5 609.5h0M131.5 609.5h0M131.5 610.5h0M124.5 608.5h0M125.5 606.5h0M102.5 617.5h0M124.5 614.5h0M131.5 617.5h0M131.5 612.5h0M127.5 613.5h0M129.5 613.5h0M126.5 616.5h0M132.5 612.5h0M135.5 617.5h0M134.5 614.5h0M136.5 614.5h0M134.5 615.5h0M134.5 616.5h0M133.5 617.5h0M141.5 613.5h0M142.5 612.5h0M139.5 616.5h0M139.5 613.5h0M144.5 612.5h0M147.5 613.5h0M145.5 616.5h0M147.5 616.5h0M144.5 617.5h0M152.5 617.5h0M154.5 612.5h0M155.5 612.5h0M151.5 614.5h0M154.5 614.5h0M155.5 616.5h0M159.5 617.5h0M158.5 612.5h0M159.5 612.5h0M161.5 614.5h0M157.5 616.5h0M159.5 616.5h0M160.5 616.5h0M166.5 612.5h0M165.5 613.5h0M162.5 614.5h0M164.5 614.5h0M167.5 614.5h0M162.5 615.5h0M162.5 616.5h0M171.5 613.5h0M172.5 613.5h0M168.5 614.5h0M168.5 615.5h0M169.5 615.5h0M170.5 615.5h0M169.5 617.5h0M174.5 612.5h0M179.5 617.5h0M175.5 613.5h0M178.5 613.5h0M174.5 614.5h0M175.5 614.5h0M175.5 615.5h0M181.5 612.5h0M185.5 612.5h0M185.5 614.5h0M185.5 615.5h0M180.5 616.5h0M182.5 616.5h0M186.5 612.5h0M190.5 616.5h0M186.5 617.5h0M191.5 615.5h0M192.5 613.5h0M197.5 613.5h0M196.5 614.5h0M192.5 615.5h0M197.5 616.5h0M200.5 612.5h0M202.5 617.5h0M202.5 612.5h0M201.5 614.5h0M207.5 612.5h0M206.5 614.5h0M208.5 614.5h0M205.5 616.5h0M207.5 616.5h0M215.5 616.5h0M211.5 614.5h0M213.5 616.5h0M215.5 612.5h0M221.5 617.5h0M218.5 615.5h0M216.5 617.5h0M221.5 615.5h0M226.5 614.5h0M226.5 617.5h0M226.5 616.5h0M230.5 617.5h0M230.5 615.5h0M229.5 614.5h0M230.5 614.5h0M234.5 612.5h0M234.5 617.5h0M238.5 615.5h0M237.5 614.5h0M243.5 612.5h0M242.5 615.5h0M244.5 615.5h0M243.5 614.5h0M247.5 616.5h0M247.5 614.5h0M250.5 615.5h0M252.5 616.5h0M256.5 613.5h0M256.5 616.5h0M253.5 613.5h0M260.5 617.5h0M261.5 615.5h0M259.5 617.5h0M267.5 613.5h0M265.5 612.5h0M267.5 614.5h0M274.5 614.5h0M273.5 612.5h0M273.5 616.5h0M270.5 614.5h0M281.5 614.5h0M277.5 614.5h0M276.5 613.5h0M282.5 612.5h0M285.5 617.5h0M286.5 615.5h0M283.5 613.5h0M289.5 616.5h0M292.5 616.5h0M291.5 615.5h0M293.5 615.5h0M295.5 612.5h0M296.5 616.5h0M299.5 613.5h0M294.5 614.5h0M300.5 612.5h0M304.5 616.5h0M303.5 615.5h0M306.5 616.5h0M310.5 617.5h0M307.5 613.5h0M314.5 617.5h0M313.5 615.5h0M313.5 617.5h0M323.5 614.5h0M322.5 617.5h0M321.5 615.5h0M324.5 612.5h0M326.5 615.5h0M328.5 612.5h0M331.5 616.5h0M332.5 615.5h0M333.5 614.5h0M339.5 617.5h0M339.5 616.5h0M339.5 614.5h0M342.5 616.5h0M343.5 614.5h0M350.5 617.5h0M350.5 615.5h0M358.5 613.5h0M357.5 616.5h0M364.5 614.5h0M365.5 615.5h0M366.5 615.5h0M370.5 612.5h0M376.5 614.5h0M376.5 613.5h0M377.5 612.5h0M380.5 615.5h0M378.5 617.5h0M388.5 617.5h0M384.5 617.5h0M393.5 617.5h0M395.5 614.5h0M399.5 616.5h0M401.5 617.5h0M403.5 612.5h0M403.5 613.5h0M412.5 617.5h0M409.5 613.5h0M418.5 613.5h0M419.5 616.5h0M422.5 617.5h0M422.5 616.5h0M426.5 612.5h0M431.5 613.5h0M436.5 613.5h0M437.5 616.5h0M442.5 612.5h0M445.5 616.5h0M453.5 616.5h0M458.5 612.5h0M461.5 613.5h0M462.5 617.5h0M470.5 614.5h0M478.5 613.5h0M481.5 616.5h0M491.5 613.5h0M501.5 615.5h0M513.5 612.5h0M522.5 617.5h0M536.5 613.5h0M548.5 615.5h0M571.5 613.5h0M579.5 623.5h0M552.5 623.5h0M543.5 623.5h0M531.5 619.5h0M520.5 620.5h0M506.5 623.5h0M494.5 621.5h0M491.5 619.5h0M484.5 622.5h0M476.5 621.5h0M470.5 619.5h0M467.5 622.5h0M458.5 619.5h0M457.5 622.5h0M452.5 623.5h0M444.5 618.5h0M447.5 619.5h0M441.5 619.5h0M433.5 618.5h0M437.5 620.5h0M428.5 619.5h0M426.5 619.5h0M424.5 623.5h0M424.5 621.5h0M414.5 618.5h0M419.5 619.5h0M417.5 618.5h0M412.5 620.5h0M412.5 621.5h0M404.5 623.5h0M405.5 623.5h0M397.5 618.5h0M398.5 620.5h0M396.5 623.5h0M392.5 623.5h0M393.5 618.5h0M387.5 619.5h0M384.5 619.5h0M381.5 622.5h0M383.5 622.5h0M372.5 622.5h0M377.5 621.5h0M373.5 619.5h0M370.5 618.5h0M363.5 622.5h0M364.5 618.5h0M365.5 618.5h0M358.5 622.5h0M359.5 622.5h0M359.5 621.5h0M353.5 619.5h0M349.5 620.5h0M349.5 619.5h0M344.5 622.5h0M347.5 623.5h0M345.5 620.5h0M337.5 622.5h0M340.5 622.5h0M337.5 623.5h0M334.5 620.5h0M333.5 620.5h0M331.5 619.5h0M324.5 622.5h0M326.5 622.5h0M329.5 622.5h0M321.5 622.5h0M323.5 618.5h0M320.5 620.5h0M315.5 623.5h0M316.5 623.5h0M314.5 622.5h0M313.5 623.5h0M306.5 620.5h0M308.5 620.5h0M307.5 623.5h0M302.5 623.5h0M302.5 619.5h0M305.5 619.5h0M303.5 618.5h0M295.5 618.5h0M295.5 620.5h0M297.5 621.5h0M294.5 623.5h0M289.5 622.5h0M292.5 619.5h0M289.5 619.5h0M289.5 623.5h0M286.5 620.5h0M284.5 622.5h0M285.5 618.5h0M287.5 618.5h0M280.5 620.5h0M279.5 619.5h0M280.5 619.5h0M277.5 620.5h0M270.5 622.5h0M272.5 618.5h0M274.5 621.5h0M270.5 619.5h0M265.5 622.5h0M269.5 619.5h0M264.5 623.5h0M259.5 622.5h0M261.5 621.5h0M258.5 623.5h0M261.5 619.5h0M255.5 622.5h0M256.5 619.5h0M255.5 618.5h0M253.5 619.5h0M249.5 618.5h0M250.5 618.5h0M250.5 621.5h0M242.5 619.5h0M242.5 622.5h0M243.5 618.5h0M240.5 620.5h0M236.5 623.5h0M239.5 618.5h0M236.5 620.5h0M237.5 620.5h0M230.5 623.5h0M228.5 618.5h0M228.5 619.5h0M233.5 621.5h0M232.5 622.5h0M225.5 623.5h0M225.5 618.5h0M227.5 622.5h0M225.5 620.5h0M216.5 618.5h0M217.5 622.5h0M218.5 623.5h0M219.5 623.5h0M210.5 618.5h0M214.5 623.5h0M210.5 619.5h0M210.5 620.5h0M210.5 622.5h0M204.5 618.5h0M209.5 619.5h0M205.5 620.5h0M206.5 621.5h0M204.5 622.5h0M198.5 622.5h0M198.5 618.5h0M198.5 621.5h0M203.5 622.5h0M192.5 618.5h0M195.5 620.5h0M196.5 620.5h0M195.5 621.5h0M196.5 622.5h0M190.5 618.5h0M187.5 620.5h0M190.5 621.5h0M187.5 622.5h0M187.5 623.5h0M182.5 623.5h0M185.5 619.5h0M182.5 621.5h0M183.5 621.5h0M185.5 621.5h0M177.5 623.5h0M175.5 618.5h0M179.5 623.5h0M174.5 621.5h0M176.5 621.5h0M178.5 621.5h0M174.5 622.5h0M172.5 623.5h0M171.5 620.5h0M172.5 620.5h0M170.5 621.5h0M168.5 622.5h0M169.5 622.5h0M170.5 622.5h0M167.5 618.5h0M162.5 619.5h0M165.5 619.5h0M167.5 619.5h0M162.5 622.5h0M167.5 622.5h0M159.5 623.5h0M161.5 618.5h0M157.5 620.5h0M158.5 620.5h0M160.5 621.5h0M157.5 623.5h0M153.5 623.5h0M154.5 618.5h0M151.5 619.5h0M150.5 621.5h0M150.5 622.5h0M152.5 622.5h0M154.5 622.5h0M147.5 623.5h0M146.5 619.5h0M147.5 620.5h0M147.5 621.5h0M146.5 622.5h0M138.5 618.5h0M139.5 618.5h0M141.5 618.5h0M142.5 618.5h0M138.5 622.5h0M139.5 623.5h0M135.5 623.5h0M136.5 623.5h0M134.5 618.5h0M136.5 619.5h0M132.5 621.5h0M133.5 621.5h0M134.5 621.5h0M136.5 622.5h0M129.5 623.5h0M129.5 620.5h0M128.5 622.5h0M129.5 622.5h0M127.5 623.5h0M122.5 618.5h0M123.5 622.5h0M103.5 626.5h0M125.5 628.5h0M126.5 626.5h0M127.5 627.5h0M129.5 627.5h0M129.5 628.5h0M131.5 628.5h0M127.5 629.5h0M133.5 624.5h0M134.5 624.5h0M137.5 629.5h0M135.5 626.5h0M136.5 626.5h0M134.5 627.5h0M136.5 627.5h0M140.5 629.5h0M141.5 624.5h0M138.5 625.5h0M140.5 627.5h0M143.5 627.5h0M138.5 628.5h0M145.5 624.5h0M147.5 625.5h0M148.5 626.5h0M145.5 627.5h0M145.5 628.5h0M144.5 629.5h0M153.5 629.5h0M154.5 624.5h0M152.5 625.5h0M154.5 625.5h0M154.5 627.5h0M150.5 628.5h0M158.5 624.5h0M161.5 629.5h0M160.5 629.5h0M159.5 625.5h0M156.5 626.5h0M158.5 626.5h0M158.5 628.5h0M163.5 624.5h0M166.5 629.5h0M164.5 624.5h0M167.5 625.5h0M162.5 626.5h0M166.5 626.5h0M171.5 629.5h0M172.5 629.5h0M171.5 624.5h0M171.5 625.5h0M171.5 626.5h0M169.5 627.5h0M173.5 627.5h0M168.5 629.5h0M178.5 629.5h0M174.5 625.5h0M174.5 628.5h0M175.5 628.5h0M177.5 628.5h0M178.5 628.5h0M183.5 629.5h0M183.5 626.5h0M184.5 626.5h0M182.5 628.5h0M183.5 628.5h0M188.5 629.5h0M188.5 624.5h0M189.5 624.5h0M190.5 629.5h0M188.5 628.5h0M194.5 629.5h0M197.5 624.5h0M193.5 625.5h0M196.5 627.5h0M195.5 628.5h0M203.5 629.5h0M200.5 625.5h0M201.5 626.5h0M203.5 627.5h0M199.5 629.5h0M204.5 625.5h0M206.5 625.5h0M207.5 625.5h0M206.5 626.5h0M208.5 626.5h0M213.5 629.5h0M214.5 628.5h0M213.5 625.5h0M218.5 629.5h0M219.5 625.5h0M220.5 625.5h0M217.5 628.5h0M217.5 629.5h0M226.5 628.5h0M222.5 626.5h0M227.5 624.5h0M225.5 626.5h0M233.5 625.5h0M232.5 629.5h0M233.5 624.5h0M231.5 627.5h0M237.5 624.5h0M236.5 625.5h0M236.5 627.5h0M237.5 627.5h0M238.5 628.5h0M245.5 626.5h0M240.5 626.5h0M241.5 624.5h0M241.5 625.5h0M249.5 628.5h0M246.5 626.5h0M247.5 626.5h0M247.5 625.5h0M254.5 629.5h0M253.5 625.5h0M256.5 624.5h0M253.5 629.5h0M258.5 628.5h0M258.5 624.5h0M262.5 629.5h0M259.5 628.5h0M266.5 628.5h0M268.5 625.5h0M264.5 626.5h0M265.5 626.5h0M275.5 624.5h0M273.5 627.5h0M275.5 627.5h0M276.5 628.5h0M278.5 625.5h0M278.5 627.5h0M281.5 627.5h0M287.5 629.5h0M286.5 629.5h0M287.5 625.5h0M287.5 627.5h0M288.5 627.5h0M293.5 627.5h0M292.5 627.5h0M291.5 626.5h0M296.5 629.5h0M295.5 624.5h0M297.5 624.5h0M298.5 624.5h0M300.5 624.5h0M303.5 626.5h0M305.5 628.5h0M301.5 625.5h0M309.5 628.5h0M311.5 625.5h0M308.5 627.5h0M307.5 626.5h0M312.5 624.5h0M312.5 627.5h0M313.5 629.5h0M320.5 629.5h0M320.5 627.5h0M321.5 626.5h0M319.5 625.5h0M327.5 625.5h0M328.5 625.5h0M327.5 627.5h0M332.5 629.5h0M331.5 628.5h0M332.5 627.5h0M341.5 625.5h0M338.5 627.5h0M339.5 627.5h0M342.5 624.5h0M342.5 627.5h0M347.5 625.5h0M353.5 626.5h0M349.5 626.5h0M353.5 624.5h0M356.5 624.5h0M358.5 628.5h0M359.5 624.5h0M365.5 626.5h0M361.5 627.5h0M361.5 629.5h0M371.5 625.5h0M366.5 626.5h0M372.5 627.5h0M373.5 626.5h0M374.5 626.5h0M378.5 628.5h0M378.5 625.5h0M386.5 628.5h0M386.5 627.5h0M394.5 625.5h0M393.5 628.5h0M396.5 624.5h0M399.5 624.5h0M401.5 624.5h0M404.5 627.5h0M407.5 627.5h0M411.5 629.5h0M413.5 624.5h0M418.5 626.5h0M415.5 626.5h0M416.5 626.5h0M424.5 626.5h0M422.5 626.5h0M428.5 628.5h0M431.5 629.5h0M437.5 625.5h0M435.5 627.5h0M440.5 624.5h0M442.5 624.5h0M448.5 627.5h0M452.5 628.5h0M454.5 625.5h0M456.5 624.5h0M462.5 629.5h0M472.5 625.5h0M477.5 627.5h0M481.5 624.5h0M488.5 628.5h0M493.5 627.5h0M503.5 625.5h0M515.5 626.5h0M526.5 624.5h0M534.5 629.5h0M551.5 625.5h0M565.5 625.5h0M589.5 633.5h0M563.5 630.5h0M546.5 635.5h0M539.5 635.5h0M527.5 634.5h0M512.5 634.5h0M502.5 633.5h0M493.5 634.5h0M491.5 630.5h0M481.5 632.5h0M475.5 631.5h0M472.5 635.5h0M467.5 631.5h0M460.5 630.5h0M452.5 635.5h0M454.5 634.5h0M445.5 634.5h0M441.5 635.5h0M440.5 633.5h0M435.5 631.5h0M433.5 635.5h0M429.5 635.5h0M427.5 630.5h0M425.5 632.5h0M421.5 632.5h0M418.5 635.5h0M415.5 635.5h0M411.5 635.5h0M409.5 633.5h0M411.5 633.5h0M402.5 630.5h0M403.5 631.5h0M401.5 632.5h0M396.5 633.5h0M390.5 633.5h0M394.5 630.5h0M395.5 633.5h0M388.5 631.5h0M386.5 632.5h0M383.5 631.5h0M382.5 630.5h0M376.5 632.5h0M377.5 634.5h0M368.5 635.5h0M371.5 632.5h0M371.5 630.5h0M362.5 635.5h0M364.5 630.5h0M356.5 635.5h0M359.5 635.5h0M355.5 633.5h0M352.5 632.5h0M351.5 635.5h0M348.5 631.5h0M345.5 631.5h0M343.5 633.5h0M345.5 635.5h0M336.5 633.5h0M340.5 634.5h0M336.5 635.5h0M333.5 635.5h0M332.5 634.5h0M335.5 631.5h0M324.5 630.5h0M324.5 635.5h0M328.5 633.5h0M320.5 635.5h0M322.5 635.5h0M319.5 632.5h0M319.5 631.5h0M317.5 632.5h0M312.5 633.5h0M312.5 632.5h0M307.5 634.5h0M311.5 635.5h0M308.5 633.5h0M311.5 633.5h0M302.5 630.5h0M301.5 632.5h0M294.5 630.5h0M299.5 635.5h0M295.5 635.5h0M297.5 632.5h0M288.5 633.5h0M290.5 632.5h0M289.5 631.5h0M285.5 631.5h0M283.5 632.5h0M287.5 632.5h0M287.5 633.5h0M283.5 635.5h0M276.5 634.5h0M280.5 632.5h0M278.5 633.5h0M280.5 634.5h0M272.5 631.5h0M274.5 635.5h0M275.5 633.5h0M273.5 632.5h0M265.5 634.5h0M268.5 635.5h0M265.5 633.5h0M266.5 633.5h0M261.5 635.5h0M262.5 631.5h0M259.5 633.5h0M260.5 632.5h0M253.5 634.5h0M257.5 634.5h0M257.5 632.5h0M254.5 632.5h0M248.5 635.5h0M249.5 631.5h0M248.5 630.5h0M248.5 632.5h0M242.5 635.5h0M245.5 632.5h0M241.5 632.5h0M245.5 633.5h0M236.5 635.5h0M235.5 630.5h0M239.5 631.5h0M237.5 631.5h0M231.5 635.5h0M232.5 630.5h0M229.5 631.5h0M231.5 632.5h0M233.5 632.5h0M224.5 635.5h0M224.5 630.5h0M225.5 634.5h0M216.5 630.5h0M220.5 634.5h0M220.5 630.5h0M221.5 633.5h0M213.5 630.5h0M212.5 631.5h0M210.5 633.5h0M212.5 634.5h0M210.5 635.5h0M206.5 631.5h0M205.5 634.5h0M204.5 630.5h0M209.5 633.5h0M203.5 635.5h0M201.5 630.5h0M203.5 634.5h0M198.5 631.5h0M194.5 635.5h0M194.5 631.5h0M196.5 631.5h0M196.5 632.5h0M193.5 633.5h0M190.5 635.5h0M187.5 632.5h0M188.5 633.5h0M190.5 633.5h0M186.5 634.5h0M182.5 635.5h0M185.5 635.5h0M184.5 631.5h0M181.5 633.5h0M185.5 633.5h0M180.5 634.5h0M181.5 634.5h0M177.5 630.5h0M179.5 635.5h0M179.5 630.5h0M175.5 633.5h0M177.5 633.5h0M171.5 630.5h0M173.5 635.5h0M173.5 632.5h0M168.5 633.5h0M169.5 633.5h0M169.5 635.5h0M164.5 635.5h0M162.5 630.5h0M166.5 630.5h0M163.5 631.5h0M164.5 632.5h0M162.5 633.5h0M163.5 634.5h0M160.5 635.5h0M161.5 635.5h0M160.5 630.5h0M159.5 631.5h0M160.5 631.5h0M156.5 633.5h0M161.5 634.5h0M152.5 631.5h0M153.5 631.5h0M150.5 632.5h0M154.5 632.5h0M155.5 632.5h0M150.5 634.5h0M148.5 632.5h0M144.5 633.5h0M146.5 633.5h0M149.5 633.5h0M148.5 634.5h0M142.5 631.5h0M138.5 633.5h0M140.5 633.5h0M142.5 634.5h0M143.5 634.5h0M132.5 630.5h0M133.5 630.5h0M137.5 635.5h0M136.5 630.5h0M133.5 631.5h0M132.5 632.5h0M136.5 632.5h0M133.5 635.5h0M128.5 630.5h0M130.5 631.5h0M130.5 632.5h0M127.5 633.5h0M128.5 634.5h0M122.5 635.5h0M125.5 630.5h0M79.5 638.5h0M125.5 640.5h0M128.5 636.5h0M127.5 637.5h0M128.5 637.5h0M129.5 638.5h0M130.5 638.5h0M128.5 639.5h0M133.5 636.5h0M135.5 641.5h0M133.5 637.5h0M136.5 637.5h0M136.5 639.5h0M133.5 640.5h0M134.5 640.5h0M137.5 640.5h0M140.5 636.5h0M138.5 637.5h0M140.5 637.5h0M142.5 637.5h0M143.5 638.5h0M139.5 639.5h0M144.5 636.5h0M148.5 636.5h0M146.5 637.5h0M144.5 638.5h0M146.5 640.5h0M153.5 641.5h0M152.5 636.5h0M151.5 637.5h0M155.5 638.5h0M150.5 639.5h0M152.5 640.5h0M154.5 640.5h0M158.5 641.5h0M157.5 638.5h0M159.5 639.5h0M160.5 639.5h0M159.5 640.5h0M160.5 640.5h0M166.5 641.5h0M167.5 636.5h0M162.5 637.5h0M167.5 637.5h0M167.5 638.5h0M162.5 640.5h0M164.5 640.5h0M167.5 640.5h0M168.5 636.5h0M170.5 641.5h0M173.5 641.5h0M168.5 637.5h0M171.5 637.5h0M172.5 638.5h0M173.5 640.5h0M168.5 641.5h0M176.5 641.5h0M179.5 641.5h0M178.5 636.5h0M179.5 637.5h0M176.5 638.5h0M174.5 639.5h0M176.5 639.5h0M175.5 640.5h0M183.5 638.5h0M180.5 639.5h0M184.5 639.5h0M182.5 640.5h0M184.5 640.5h0M181.5 641.5h0M189.5 641.5h0M187.5 636.5h0M186.5 637.5h0M188.5 637.5h0M190.5 638.5h0M186.5 639.5h0M193.5 636.5h0M194.5 639.5h0M193.5 638.5h0M197.5 639.5h0M203.5 641.5h0M199.5 637.5h0M200.5 639.5h0M200.5 640.5h0M199.5 641.5h0M208.5 641.5h0M204.5 638.5h0M208.5 640.5h0M209.5 636.5h0M210.5 640.5h0M212.5 637.5h0M215.5 637.5h0M211.5 637.5h0M221.5 641.5h0M218.5 639.5h0M219.5 639.5h0M221.5 639.5h0M220.5 640.5h0M226.5 638.5h0M227.5 638.5h0M227.5 637.5h0M226.5 636.5h0M230.5 639.5h0M232.5 636.5h0M228.5 637.5h0M234.5 636.5h0M235.5 639.5h0M238.5 641.5h0M234.5 639.5h0M243.5 641.5h0M244.5 639.5h0M240.5 637.5h0M243.5 638.5h0M251.5 638.5h0M246.5 639.5h0M248.5 639.5h0M247.5 637.5h0M254.5 641.5h0M257.5 638.5h0M257.5 640.5h0M253.5 641.5h0M260.5 641.5h0M263.5 637.5h0M261.5 636.5h0M258.5 637.5h0M267.5 641.5h0M264.5 638.5h0M266.5 638.5h0M274.5 638.5h0M275.5 638.5h0M270.5 641.5h0M270.5 637.5h0M278.5 641.5h0M277.5 640.5h0M280.5 640.5h0M279.5 638.5h0M286.5 641.5h0M284.5 636.5h0M286.5 640.5h0M285.5 638.5h0M288.5 636.5h0M290.5 636.5h0M288.5 638.5h0M296.5 641.5h0M299.5 638.5h0M299.5 637.5h0M294.5 641.5h0M301.5 640.5h0M300.5 639.5h0M302.5 638.5h0M303.5 637.5h0M308.5 641.5h0M309.5 641.5h0M309.5 640.5h0M313.5 640.5h0M316.5 637.5h0M316.5 641.5h0M321.5 641.5h0M323.5 637.5h0M318.5 638.5h0M321.5 638.5h0M329.5 638.5h0M328.5 636.5h0M327.5 639.5h0M330.5 640.5h0M330.5 636.5h0M332.5 640.5h0M337.5 640.5h0M340.5 641.5h0M341.5 638.5h0M347.5 641.5h0M347.5 640.5h0M342.5 637.5h0M349.5 636.5h0M349.5 638.5h0M359.5 641.5h0M359.5 636.5h0M355.5 637.5h0M363.5 641.5h0M362.5 636.5h0M363.5 636.5h0M369.5 640.5h0M370.5 640.5h0M373.5 636.5h0M375.5 639.5h0M381.5 637.5h0M383.5 640.5h0M389.5 640.5h0M385.5 641.5h0M393.5 637.5h0M390.5 638.5h0M396.5 638.5h0M401.5 640.5h0M397.5 641.5h0M404.5 637.5h0M403.5 638.5h0M413.5 636.5h0M413.5 639.5h0M414.5 640.5h0M415.5 639.5h0M421.5 640.5h0M423.5 636.5h0M424.5 636.5h0M431.5 638.5h0M427.5 641.5h0M432.5 636.5h0M436.5 637.5h0M438.5 639.5h0M449.5 641.5h0M449.5 637.5h0M452.5 638.5h0M461.5 637.5h0M456.5 637.5h0M467.5 637.5h0M471.5 639.5h0M479.5 638.5h0M483.5 640.5h0M489.5 640.5h0M493.5 636.5h0M509.5 638.5h0M519.5 641.5h0M531.5 636.5h0M540.5 636.5h0M557.5 641.5h0M580.5 641.5h0M585.5 647.5h0M558.5 647.5h0M546.5 642.5h0M529.5 642.5h0M517.5 645.5h0M505.5 642.5h0M492.5 647.5h0M489.5 645.5h0M481.5 646.5h0M469.5 645.5h0M470.5 644.5h0M467.5 647.5h0M461.5 643.5h0M451.5 646.5h0M449.5 644.5h0M446.5 645.5h0M438.5 644.5h0M435.5 645.5h0M432.5 643.5h0M431.5 643.5h0M429.5 645.5h0M423.5 642.5h0M420.5 647.5h0M419.5 647.5h0M414.5 645.5h0M416.5 646.5h0M408.5 644.5h0M406.5 644.5h0M404.5 646.5h0M398.5 646.5h0M400.5 646.5h0M394.5 644.5h0M393.5 645.5h0M385.5 645.5h0M389.5 642.5h0M382.5 647.5h0M381.5 646.5h0M373.5 642.5h0M372.5 645.5h0M369.5 646.5h0M366.5 643.5h0M360.5 646.5h0M361.5 643.5h0M355.5 643.5h0M354.5 643.5h0M355.5 647.5h0M351.5 643.5h0M351.5 645.5h0M345.5 647.5h0M346.5 647.5h0M346.5 642.5h0M338.5 643.5h0M340.5 646.5h0M332.5 643.5h0M331.5 642.5h0M335.5 642.5h0M326.5 647.5h0M324.5 645.5h0M329.5 647.5h0M321.5 647.5h0M320.5 645.5h0M316.5 643.5h0M315.5 646.5h0M307.5 642.5h0M310.5 647.5h0M308.5 646.5h0M300.5 642.5h0M305.5 644.5h0M304.5 647.5h0M302.5 645.5h0M295.5 642.5h0M297.5 642.5h0M298.5 645.5h0M292.5 642.5h0M289.5 644.5h0M288.5 647.5h0M289.5 643.5h0M287.5 644.5h0M286.5 647.5h0M285.5 642.5h0M278.5 647.5h0M280.5 646.5h0M276.5 647.5h0M270.5 646.5h0M275.5 643.5h0M274.5 645.5h0M273.5 644.5h0M265.5 646.5h0M267.5 646.5h0M268.5 646.5h0M259.5 646.5h0M263.5 647.5h0M258.5 644.5h0M260.5 645.5h0M252.5 642.5h0M256.5 647.5h0M254.5 647.5h0M248.5 647.5h0M250.5 643.5h0M250.5 647.5h0M249.5 646.5h0M243.5 645.5h0M240.5 647.5h0M244.5 645.5h0M238.5 646.5h0M234.5 644.5h0M238.5 645.5h0M235.5 647.5h0M231.5 646.5h0M233.5 643.5h0M230.5 645.5h0M228.5 644.5h0M222.5 642.5h0M225.5 646.5h0M223.5 645.5h0M223.5 642.5h0M220.5 644.5h0M219.5 643.5h0M221.5 646.5h0M219.5 644.5h0M214.5 644.5h0M212.5 642.5h0M215.5 643.5h0M210.5 644.5h0M204.5 643.5h0M206.5 643.5h0M207.5 643.5h0M209.5 644.5h0M205.5 646.5h0M200.5 645.5h0M200.5 644.5h0M202.5 645.5h0M203.5 645.5h0M194.5 647.5h0M196.5 643.5h0M196.5 646.5h0M194.5 645.5h0M189.5 647.5h0M188.5 643.5h0M187.5 644.5h0M190.5 645.5h0M188.5 646.5h0M181.5 642.5h0M184.5 642.5h0M183.5 643.5h0M180.5 645.5h0M182.5 646.5h0M180.5 647.5h0M178.5 647.5h0M177.5 643.5h0M174.5 644.5h0M176.5 645.5h0M177.5 645.5h0M178.5 646.5h0M179.5 646.5h0M175.5 647.5h0M169.5 642.5h0M173.5 643.5h0M168.5 644.5h0M170.5 645.5h0M171.5 645.5h0M172.5 646.5h0M165.5 647.5h0M165.5 642.5h0M167.5 647.5h0M166.5 643.5h0M167.5 643.5h0M166.5 644.5h0M166.5 645.5h0M162.5 646.5h0M167.5 646.5h0M161.5 642.5h0M160.5 644.5h0M157.5 645.5h0M158.5 645.5h0M156.5 646.5h0M160.5 646.5h0M153.5 647.5h0M152.5 642.5h0M154.5 644.5h0M155.5 644.5h0M151.5 645.5h0M152.5 646.5h0M151.5 647.5h0M146.5 647.5h0M146.5 643.5h0M144.5 644.5h0M145.5 644.5h0M145.5 646.5h0M138.5 642.5h0M142.5 642.5h0M139.5 645.5h0M141.5 645.5h0M142.5 645.5h0M139.5 646.5h0M135.5 642.5h0M137.5 647.5h0M133.5 644.5h0M134.5 644.5h0M133.5 645.5h0M136.5 645.5h0M128.5 647.5h0M126.5 642.5h0M130.5 647.5h0M128.5 643.5h0M127.5 644.5h0M130.5 646.5h0M125.5 645.5h0M95.5 644.5h0M122.5 648.5h0M125.5 649.5h0M129.5 653.5h0M130.5 653.5h0M128.5 649.5h0M130.5 650.5h0M131.5 651.5h0M127.5 652.5h0M137.5 653.5h0M132.5 649.5h0M135.5 649.5h0M135.5 650.5h0M136.5 650.5h0M132.5 653.5h0M138.5 649.5h0M140.5 649.5h0M142.5 650.5h0M141.5 651.5h0M142.5 651.5h0M138.5 652.5h0M146.5 653.5h0M148.5 648.5h0M146.5 650.5h0M149.5 651.5h0M153.5 648.5h0M154.5 648.5h0M155.5 649.5h0M153.5 650.5h0M154.5 650.5h0M150.5 651.5h0M157.5 648.5h0M160.5 653.5h0M156.5 649.5h0M158.5 649.5h0M157.5 651.5h0M161.5 651.5h0M159.5 652.5h0M164.5 648.5h0M165.5 648.5h0M162.5 650.5h0M162.5 651.5h0M166.5 651.5h0M167.5 651.5h0M163.5 652.5h0M164.5 652.5h0M168.5 648.5h0M170.5 648.5h0M171.5 648.5h0M172.5 648.5h0M168.5 649.5h0M168.5 651.5h0M169.5 652.5h0M168.5 653.5h0M178.5 653.5h0M176.5 649.5h0M178.5 649.5h0M177.5 650.5h0M175.5 651.5h0M176.5 651.5h0M178.5 651.5h0M181.5 648.5h0M184.5 653.5h0M184.5 648.5h0M185.5 648.5h0M185.5 649.5h0M181.5 651.5h0M180.5 652.5h0M188.5 648.5h0M189.5 650.5h0M191.5 650.5h0M186.5 651.5h0M186.5 653.5h0M195.5 648.5h0M193.5 651.5h0M192.5 650.5h0M197.5 648.5h0M198.5 652.5h0M201.5 649.5h0M199.5 653.5h0M205.5 648.5h0M207.5 648.5h0M209.5 649.5h0M205.5 650.5h0M205.5 651.5h0M212.5 652.5h0M214.5 648.5h0M211.5 650.5h0M211.5 653.5h0M216.5 648.5h0M217.5 652.5h0M219.5 652.5h0M227.5 649.5h0M224.5 651.5h0M225.5 651.5h0M222.5 653.5h0M228.5 652.5h0M233.5 653.5h0M231.5 651.5h0M239.5 649.5h0M236.5 650.5h0M237.5 650.5h0M242.5 653.5h0M242.5 652.5h0M240.5 650.5h0M250.5 648.5h0M251.5 648.5h0M246.5 653.5h0M253.5 651.5h0M254.5 652.5h0M257.5 653.5h0M263.5 650.5h0M262.5 652.5h0M261.5 650.5h0M268.5 650.5h0M266.5 649.5h0M267.5 648.5h0M270.5 652.5h0M272.5 652.5h0M271.5 653.5h0M280.5 650.5h0M279.5 651.5h0M286.5 650.5h0M282.5 650.5h0M287.5 648.5h0M288.5 648.5h0M288.5 650.5h0M297.5 648.5h0M294.5 653.5h0M299.5 651.5h0M304.5 650.5h0M300.5 653.5h0M304.5 651.5h0M306.5 652.5h0M309.5 652.5h0M315.5 648.5h0M315.5 652.5h0M316.5 652.5h0M319.5 650.5h0M323.5 651.5h0M326.5 649.5h0M325.5 653.5h0M333.5 653.5h0M334.5 651.5h0M331.5 653.5h0M341.5 649.5h0M336.5 653.5h0M343.5 648.5h0M346.5 653.5h0M352.5 649.5h0M350.5 651.5h0M358.5 652.5h0M357.5 650.5h0M364.5 650.5h0M365.5 650.5h0M368.5 648.5h0M366.5 649.5h0M375.5 652.5h0M372.5 653.5h0M380.5 648.5h0M380.5 650.5h0M384.5 648.5h0M387.5 648.5h0M393.5 653.5h0M393.5 651.5h0M397.5 650.5h0M399.5 650.5h0M407.5 649.5h0M413.5 649.5h0M412.5 651.5h0M416.5 649.5h0M416.5 653.5h0M423.5 653.5h0M424.5 652.5h0M426.5 648.5h0M428.5 650.5h0M436.5 652.5h0M437.5 652.5h0M442.5 649.5h0M438.5 653.5h0M447.5 649.5h0M451.5 648.5h0M454.5 652.5h0M457.5 648.5h0M459.5 650.5h0M467.5 653.5h0M472.5 651.5h0M476.5 648.5h0M485.5 651.5h0M489.5 649.5h0M496.5 652.5h0M514.5 653.5h0M526.5 653.5h0M541.5 649.5h0M559.5 648.5h0M581.5 648.5h0M612.5 654.5h0M572.5 657.5h0M556.5 654.5h0M538.5 658.5h0M522.5 656.5h0M508.5 659.5h0M493.5 654.5h0M491.5 659.5h0M475.5 656.5h0M469.5 656.5h0M466.5 659.5h0M464.5 658.5h0M458.5 655.5h0M455.5 659.5h0M455.5 654.5h0M447.5 658.5h0M444.5 655.5h0M440.5 659.5h0M443.5 658.5h0M435.5 655.5h0M435.5 657.5h0M431.5 656.5h0M427.5 654.5h0M424.5 658.5h0M420.5 656.5h0M418.5 656.5h0M408.5 657.5h0M411.5 656.5h0M404.5 655.5h0M405.5 655.5h0M398.5 654.5h0M400.5 657.5h0M392.5 654.5h0M385.5 657.5h0M385.5 659.5h0M380.5 658.5h0M378.5 655.5h0M376.5 655.5h0M376.5 659.5h0M371.5 656.5h0M371.5 655.5h0M360.5 657.5h0M362.5 654.5h0M356.5 655.5h0M359.5 654.5h0M352.5 659.5h0M350.5 657.5h0M344.5 659.5h0M347.5 657.5h0M337.5 654.5h0M337.5 655.5h0M331.5 658.5h0M335.5 658.5h0M329.5 655.5h0M327.5 656.5h0M321.5 658.5h0M323.5 654.5h0M319.5 659.5h0M314.5 655.5h0M314.5 658.5h0M306.5 658.5h0M308.5 654.5h0M305.5 656.5h0M305.5 655.5h0M305.5 654.5h0M297.5 654.5h0M294.5 656.5h0M288.5 658.5h0M288.5 654.5h0M291.5 657.5h0M284.5 658.5h0M287.5 659.5h0M278.5 658.5h0M277.5 656.5h0M277.5 659.5h0M272.5 654.5h0M270.5 656.5h0M272.5 656.5h0M268.5 656.5h0M266.5 659.5h0M263.5 659.5h0M263.5 655.5h0M259.5 658.5h0M255.5 659.5h0M255.5 657.5h0M257.5 654.5h0M249.5 658.5h0M246.5 656.5h0M246.5 655.5h0M242.5 655.5h0M243.5 654.5h0M243.5 658.5h0M234.5 654.5h0M238.5 659.5h0M234.5 659.5h0M230.5 657.5h0M229.5 656.5h0M230.5 656.5h0M226.5 658.5h0M226.5 654.5h0M224.5 656.5h0M221.5 654.5h0M219.5 656.5h0M221.5 657.5h0M217.5 659.5h0M215.5 656.5h0M214.5 659.5h0M210.5 657.5h0M208.5 659.5h0M205.5 657.5h0M206.5 657.5h0M204.5 655.5h0M200.5 654.5h0M203.5 659.5h0M200.5 656.5h0M200.5 657.5h0M202.5 658.5h0M195.5 658.5h0M196.5 656.5h0M195.5 654.5h0M192.5 659.5h0M186.5 654.5h0M190.5 656.5h0M186.5 657.5h0M189.5 657.5h0M187.5 658.5h0M182.5 654.5h0M181.5 655.5h0M180.5 656.5h0M181.5 657.5h0M182.5 657.5h0M180.5 659.5h0M177.5 654.5h0M177.5 655.5h0M179.5 655.5h0M178.5 656.5h0M175.5 657.5h0M176.5 658.5h0M174.5 659.5h0M173.5 654.5h0M172.5 655.5h0M169.5 656.5h0M172.5 656.5h0M173.5 656.5h0M172.5 658.5h0M167.5 654.5h0M164.5 655.5h0M164.5 657.5h0M165.5 657.5h0M166.5 657.5h0M163.5 659.5h0M158.5 659.5h0M161.5 659.5h0M160.5 656.5h0M161.5 657.5h0M158.5 658.5h0M161.5 658.5h0M156.5 659.5h0M153.5 659.5h0M152.5 654.5h0M151.5 654.5h0M154.5 654.5h0M150.5 655.5h0M151.5 656.5h0M154.5 658.5h0M148.5 659.5h0M149.5 659.5h0M149.5 655.5h0M148.5 656.5h0M149.5 657.5h0M142.5 655.5h0M142.5 656.5h0M140.5 657.5h0M142.5 657.5h0M138.5 659.5h0M136.5 659.5h0M133.5 655.5h0M137.5 655.5h0M134.5 656.5h0M135.5 656.5h0M136.5 656.5h0M132.5 658.5h0M134.5 658.5h0M126.5 655.5h0M127.5 656.5h0M128.5 657.5h0M130.5 657.5h0M131.5 657.5h0M127.5 659.5h0M125.5 656.5h0M98.5 656.5h0M117.5 660.5h0M125.5 660.5h0M130.5 662.5h0M128.5 663.5h0M130.5 663.5h0M129.5 664.5h0M126.5 665.5h0M134.5 660.5h0M135.5 660.5h0M136.5 660.5h0M132.5 663.5h0M135.5 663.5h0M137.5 664.5h0M140.5 660.5h0M143.5 665.5h0M138.5 661.5h0M140.5 661.5h0M142.5 662.5h0M141.5 664.5h0M149.5 665.5h0M148.5 660.5h0M149.5 660.5h0M147.5 661.5h0M144.5 662.5h0M146.5 664.5h0M153.5 665.5h0M152.5 660.5h0M154.5 665.5h0M154.5 660.5h0M153.5 663.5h0M153.5 664.5h0M158.5 665.5h0M157.5 660.5h0M157.5 661.5h0M159.5 662.5h0M157.5 663.5h0M165.5 665.5h0M165.5 661.5h0M163.5 662.5h0M164.5 662.5h0M166.5 662.5h0M162.5 663.5h0M164.5 664.5h0M162.5 665.5h0M170.5 665.5h0M170.5 660.5h0M172.5 660.5h0M169.5 661.5h0M169.5 663.5h0M172.5 663.5h0M169.5 664.5h0M177.5 665.5h0M176.5 661.5h0M179.5 661.5h0M174.5 662.5h0M175.5 662.5h0M175.5 663.5h0M176.5 663.5h0M175.5 664.5h0M176.5 664.5h0M185.5 660.5h0M181.5 661.5h0M180.5 662.5h0M184.5 663.5h0M185.5 663.5h0M180.5 664.5h0M190.5 660.5h0M189.5 661.5h0M188.5 662.5h0M187.5 663.5h0M190.5 663.5h0M192.5 660.5h0M193.5 660.5h0M197.5 665.5h0M196.5 660.5h0M200.5 665.5h0M198.5 664.5h0M202.5 665.5h0M201.5 665.5h0M209.5 662.5h0M204.5 663.5h0M209.5 660.5h0M207.5 663.5h0M213.5 665.5h0M215.5 662.5h0M211.5 664.5h0M211.5 661.5h0M219.5 660.5h0M219.5 665.5h0M221.5 661.5h0M218.5 663.5h0M224.5 663.5h0M224.5 662.5h0M222.5 661.5h0M228.5 660.5h0M231.5 661.5h0M233.5 665.5h0M233.5 663.5h0M239.5 665.5h0M238.5 664.5h0M239.5 660.5h0M240.5 662.5h0M240.5 665.5h0M241.5 661.5h0M246.5 663.5h0M251.5 660.5h0M246.5 665.5h0M257.5 661.5h0M257.5 664.5h0M257.5 663.5h0M262.5 665.5h0M261.5 660.5h0M258.5 661.5h0M264.5 662.5h0M266.5 663.5h0M269.5 664.5h0M272.5 661.5h0M270.5 662.5h0M277.5 660.5h0M279.5 664.5h0M279.5 662.5h0M282.5 664.5h0M285.5 663.5h0M287.5 660.5h0M293.5 665.5h0M292.5 664.5h0M299.5 660.5h0M297.5 663.5h0M302.5 664.5h0M305.5 661.5h0M303.5 663.5h0M310.5 662.5h0M307.5 660.5h0M315.5 665.5h0M312.5 663.5h0M317.5 660.5h0M319.5 660.5h0M323.5 665.5h0M326.5 660.5h0M329.5 660.5h0M332.5 664.5h0M335.5 663.5h0M339.5 661.5h0M336.5 663.5h0M347.5 660.5h0M347.5 664.5h0M348.5 663.5h0M348.5 665.5h0M354.5 662.5h0M354.5 665.5h0M362.5 660.5h0M360.5 662.5h0M368.5 664.5h0M368.5 660.5h0M377.5 660.5h0M373.5 662.5h0M379.5 660.5h0M379.5 664.5h0M388.5 663.5h0M392.5 664.5h0M391.5 663.5h0M397.5 664.5h0M400.5 661.5h0M405.5 663.5h0M402.5 665.5h0M411.5 664.5h0M412.5 660.5h0M418.5 665.5h0M420.5 662.5h0M423.5 663.5h0M429.5 665.5h0M430.5 664.5h0M436.5 664.5h0M433.5 662.5h0M441.5 665.5h0M439.5 665.5h0M449.5 662.5h0M449.5 660.5h0M450.5 663.5h0M457.5 660.5h0M457.5 661.5h0M467.5 661.5h0M463.5 665.5h0M470.5 662.5h0M481.5 665.5h0M491.5 663.5h0M494.5 662.5h0M507.5 660.5h0M524.5 662.5h0M545.5 664.5h0M558.5 663.5h0M580.5 665.5h0M618.5 668.5h0M579.5 668.5h0M557.5 669.5h0M542.5 668.5h0M522.5 666.5h0M507.5 667.5h0M493.5 670.5h0M487.5 668.5h0M474.5 670.5h0M471.5 668.5h0M466.5 671.5h0M463.5 671.5h0M461.5 668.5h0M454.5 671.5h0M453.5 668.5h0M445.5 666.5h0M449.5 666.5h0M440.5 667.5h0M440.5 668.5h0M436.5 671.5h0M432.5 667.5h0M427.5 666.5h0M424.5 668.5h0M421.5 667.5h0M419.5 670.5h0M419.5 666.5h0M413.5 668.5h0M409.5 671.5h0M404.5 669.5h0M400.5 667.5h0M401.5 671.5h0M390.5 670.5h0M392.5 669.5h0M385.5 667.5h0M383.5 671.5h0M379.5 668.5h0M372.5 667.5h0M373.5 671.5h0M366.5 668.5h0M368.5 669.5h0M364.5 671.5h0M362.5 666.5h0M354.5 666.5h0M355.5 670.5h0M350.5 668.5h0M342.5 667.5h0M343.5 667.5h0M338.5 667.5h0M341.5 671.5h0M330.5 670.5h0M332.5 666.5h0M330.5 668.5h0M328.5 667.5h0M325.5 668.5h0M320.5 666.5h0M323.5 670.5h0M316.5 666.5h0M314.5 668.5h0M308.5 670.5h0M310.5 667.5h0M303.5 666.5h0M302.5 669.5h0M305.5 666.5h0M299.5 668.5h0M295.5 666.5h0M291.5 670.5h0M291.5 671.5h0M293.5 671.5h0M284.5 667.5h0M283.5 667.5h0M278.5 667.5h0M280.5 670.5h0M281.5 670.5h0M274.5 669.5h0M275.5 669.5h0M264.5 670.5h0M266.5 667.5h0M265.5 668.5h0M258.5 666.5h0M262.5 666.5h0M261.5 668.5h0M257.5 666.5h0M256.5 669.5h0M252.5 671.5h0M249.5 670.5h0M250.5 670.5h0M250.5 666.5h0M244.5 668.5h0M244.5 671.5h0M244.5 667.5h0M238.5 668.5h0M238.5 669.5h0M235.5 667.5h0M233.5 668.5h0M231.5 666.5h0M229.5 671.5h0M224.5 670.5h0M225.5 666.5h0M226.5 666.5h0M219.5 667.5h0M220.5 671.5h0M218.5 669.5h0M221.5 666.5h0M214.5 668.5h0M210.5 669.5h0M210.5 668.5h0M212.5 668.5h0M208.5 671.5h0M207.5 668.5h0M208.5 669.5h0M209.5 669.5h0M202.5 671.5h0M202.5 667.5h0M200.5 669.5h0M196.5 668.5h0M195.5 671.5h0M193.5 669.5h0M197.5 666.5h0M189.5 671.5h0M189.5 667.5h0M186.5 669.5h0M188.5 669.5h0M187.5 670.5h0M183.5 671.5h0M184.5 666.5h0M181.5 668.5h0M183.5 668.5h0M185.5 668.5h0M182.5 669.5h0M177.5 671.5h0M178.5 666.5h0M174.5 668.5h0M175.5 668.5h0M176.5 668.5h0M178.5 668.5h0M177.5 669.5h0M171.5 671.5h0M173.5 671.5h0M172.5 666.5h0M168.5 667.5h0M173.5 667.5h0M169.5 669.5h0M171.5 669.5h0M171.5 670.5h0M167.5 671.5h0M167.5 666.5h0M164.5 667.5h0M167.5 667.5h0M165.5 669.5h0M162.5 670.5h0M165.5 670.5h0M159.5 671.5h0M158.5 669.5h0M159.5 669.5h0M156.5 670.5h0M160.5 670.5h0M161.5 670.5h0M156.5 671.5h0M151.5 667.5h0M154.5 667.5h0M150.5 669.5h0M151.5 669.5h0M150.5 671.5h0M151.5 671.5h0M144.5 668.5h0M146.5 668.5h0M147.5 668.5h0M144.5 669.5h0M145.5 669.5h0M144.5 671.5h0M142.5 671.5h0M141.5 666.5h0M143.5 671.5h0M138.5 668.5h0M139.5 668.5h0M142.5 670.5h0M132.5 666.5h0M134.5 666.5h0M135.5 667.5h0M137.5 667.5h0M133.5 668.5h0M137.5 668.5h0M135.5 669.5h0M128.5 671.5h0M129.5 666.5h0M126.5 668.5h0M127.5 668.5h0M128.5 669.5h0M122.5 668.5h0M108.5 671.5h0M118.5 675.5h0M125.5 675.5h0M126.5 676.5h0M130.5 672.5h0M129.5 674.5h0M131.5 675.5h0M137.5 677.5h0M137.5 672.5h0M136.5 673.5h0M133.5 675.5h0M137.5 675.5h0M133.5 677.5h0M143.5 677.5h0M142.5 673.5h0M138.5 674.5h0M139.5 674.5h0M138.5 676.5h0M147.5 677.5h0M147.5 673.5h0M148.5 673.5h0M146.5 674.5h0M146.5 676.5h0M152.5 672.5h0M153.5 672.5h0M152.5 676.5h0M154.5 676.5h0M151.5 677.5h0M159.5 677.5h0M158.5 672.5h0M161.5 677.5h0M161.5 672.5h0M156.5 673.5h0M157.5 676.5h0M159.5 676.5h0M165.5 672.5h0M164.5 673.5h0M165.5 673.5h0M166.5 673.5h0M163.5 674.5h0M162.5 675.5h0M170.5 677.5h0M171.5 672.5h0M173.5 672.5h0M171.5 673.5h0M172.5 673.5h0M170.5 675.5h0M171.5 676.5h0M172.5 676.5h0M176.5 672.5h0M177.5 672.5h0M179.5 673.5h0M175.5 674.5h0M176.5 674.5h0M176.5 675.5h0M178.5 675.5h0M184.5 674.5h0M185.5 673.5h0M182.5 675.5h0M183.5 675.5h0M189.5 677.5h0M190.5 673.5h0M189.5 676.5h0M190.5 676.5h0M192.5 676.5h0M192.5 672.5h0M194.5 672.5h0M196.5 674.5h0M201.5 673.5h0M200.5 674.5h0M202.5 675.5h0M199.5 673.5h0M205.5 676.5h0M208.5 677.5h0M209.5 673.5h0M204.5 677.5h0M213.5 676.5h0M215.5 677.5h0M210.5 677.5h0M219.5 677.5h0M216.5 675.5h0M217.5 675.5h0M227.5 674.5h0M223.5 675.5h0M223.5 673.5h0M232.5 674.5h0M232.5 677.5h0M230.5 675.5h0M236.5 672.5h0M234.5 677.5h0M244.5 674.5h0M245.5 677.5h0M244.5 676.5h0M248.5 677.5h0M250.5 677.5h0M249.5 675.5h0M255.5 673.5h0M257.5 675.5h0M259.5 676.5h0M258.5 675.5h0M266.5 672.5h0M264.5 674.5h0M269.5 675.5h0M271.5 672.5h0M273.5 672.5h0M278.5 677.5h0M280.5 676.5h0M287.5 673.5h0M283.5 673.5h0M291.5 677.5h0M288.5 674.5h0M289.5 677.5h0M298.5 677.5h0M299.5 676.5h0M304.5 677.5h0M302.5 675.5h0M308.5 672.5h0M307.5 673.5h0M315.5 677.5h0M323.5 672.5h0M318.5 673.5h0M329.5 676.5h0M324.5 673.5h0M330.5 677.5h0M337.5 676.5h0M338.5 674.5h0M342.5 675.5h0M343.5 677.5h0M352.5 676.5h0M358.5 677.5h0M355.5 673.5h0M363.5 674.5h0M370.5 672.5h0M371.5 676.5h0M377.5 673.5h0M380.5 677.5h0M389.5 674.5h0M388.5 675.5h0M392.5 674.5h0M401.5 676.5h0M399.5 675.5h0M402.5 675.5h0M413.5 673.5h0M412.5 675.5h0M414.5 674.5h0M420.5 676.5h0M420.5 677.5h0M427.5 673.5h0M432.5 676.5h0M432.5 673.5h0M442.5 675.5h0M448.5 672.5h0M447.5 675.5h0M453.5 672.5h0M456.5 672.5h0M461.5 676.5h0M464.5 675.5h0M471.5 677.5h0M484.5 672.5h0M489.5 676.5h0M501.5 672.5h0M521.5 677.5h0M528.5 676.5h0M548.5 676.5h0M575.5 673.5h0M598.5 673.5h0M589.5 679.5h0M567.5 679.5h0M547.5 681.5h0M522.5 680.5h0M510.5 682.5h0M494.5 683.5h0M480.5 681.5h0M471.5 683.5h0M463.5 681.5h0M460.5 679.5h0M450.5 680.5h0M444.5 681.5h0M438.5 683.5h0M434.5 682.5h0M427.5 683.5h0M421.5 680.5h0M415.5 681.5h0M413.5 681.5h0M407.5 678.5h0M397.5 681.5h0M387.5 678.5h0M380.5 683.5h0M372.5 683.5h0M368.5 678.5h0M360.5 679.5h0M359.5 679.5h0M346.5 680.5h0M338.5 681.5h0M330.5 683.5h0M327.5 682.5h0M321.5 683.5h0M314.5 678.5h0M306.5 678.5h0M305.5 680.5h0M294.5 678.5h0M298.5 683.5h0M291.5 679.5h0M282.5 681.5h0M286.5 681.5h0M277.5 680.5h0M275.5 680.5h0M275.5 682.5h0M266.5 679.5h0M269.5 683.5h0M263.5 680.5h0M262.5 679.5h0M257.5 680.5h0M249.5 679.5h0M246.5 683.5h0M241.5 678.5h0M245.5 680.5h0M236.5 679.5h0M238.5 682.5h0M233.5 683.5h0M233.5 682.5h0M224.5 680.5h0M217.5 681.5h0M221.5 682.5h0M212.5 681.5h0M215.5 678.5h0M208.5 680.5h0M206.5 681.5h0M204.5 679.5h0M200.5 683.5h0M201.5 679.5h0M202.5 682.5h0M192.5 682.5h0M197.5 682.5h0M192.5 679.5h0M189.5 678.5h0M188.5 681.5h0M190.5 678.5h0M189.5 680.5h0M184.5 680.5h0M180.5 682.5h0M184.5 679.5h0M182.5 680.5h0M177.5 683.5h0M176.5 679.5h0M177.5 679.5h0M179.5 679.5h0M178.5 681.5h0M179.5 682.5h0M171.5 678.5h0M173.5 679.5h0M171.5 680.5h0M171.5 681.5h0M172.5 681.5h0M172.5 682.5h0M163.5 678.5h0M162.5 679.5h0M165.5 681.5h0M165.5 682.5h0M163.5 683.5h0M158.5 679.5h0M158.5 680.5h0M159.5 680.5h0M157.5 681.5h0M156.5 682.5h0M151.5 679.5h0M152.5 679.5h0M150.5 680.5h0M155.5 680.5h0M151.5 682.5h0M146.5 679.5h0M148.5 679.5h0M144.5 680.5h0M144.5 679.5h0M143.5 678.5h0M139.5 679.5h0M138.5 682.5h0M141.5 682.5h0M138.5 683.5h0M135.5 683.5h0M133.5 678.5h0M132.5 679.5h0M136.5 679.5h0M136.5 682.5h0M128.5 679.5h0M131.5 679.5h0M129.5 681.5h0M126.5 679.5h0M124.5 681.5h0M117.5 681.5h0M93.5 686.5h0M125.5 686.5h0M128.5 689.5h0M127.5 688.5h0M128.5 687.5h0M129.5 689.5h0M135.5 689.5h0M133.5 684.5h0M132.5 685.5h0M134.5 686.5h0M133.5 687.5h0M140.5 685.5h0M140.5 684.5h0M139.5 687.5h0M142.5 687.5h0M145.5 684.5h0M148.5 684.5h0M148.5 688.5h0M155.5 689.5h0M152.5 685.5h0M155.5 687.5h0M150.5 688.5h0M154.5 688.5h0M158.5 685.5h0M158.5 688.5h0M156.5 686.5h0M160.5 687.5h0M164.5 689.5h0M165.5 684.5h0M167.5 685.5h0M163.5 686.5h0M163.5 687.5h0M170.5 689.5h0M173.5 689.5h0M173.5 684.5h0M168.5 685.5h0M168.5 686.5h0M173.5 687.5h0M177.5 685.5h0M175.5 687.5h0M177.5 687.5h0M183.5 685.5h0M180.5 687.5h0M180.5 685.5h0M180.5 689.5h0M190.5 689.5h0M186.5 689.5h0M187.5 685.5h0M196.5 687.5h0M193.5 689.5h0M199.5 684.5h0M200.5 688.5h0M208.5 689.5h0M207.5 688.5h0M207.5 686.5h0M215.5 689.5h0M214.5 687.5h0M216.5 686.5h0M222.5 687.5h0M228.5 684.5h0M231.5 685.5h0M239.5 688.5h0M241.5 688.5h0M249.5 688.5h0M246.5 686.5h0M253.5 684.5h0M260.5 689.5h0M266.5 684.5h0M265.5 689.5h0M273.5 687.5h0M280.5 684.5h0M284.5 689.5h0M291.5 684.5h0M295.5 684.5h0M296.5 688.5h0M305.5 685.5h0M316.5 685.5h0M328.5 685.5h0M340.5 686.5h0M353.5 686.5h0M363.5 684.5h0M375.5 684.5h0M388.5 688.5h0M397.5 684.5h0M403.5 687.5h0M416.5 688.5h0M421.5 684.5h0M427.5 689.5h0M443.5 689.5h0M444.5 689.5h0M460.5 684.5h0M464.5 687.5h0M474.5 688.5h0M495.5 686.5h0M504.5 685.5h0M526.5 686.5h0M542.5 689.5h0M569.5 687.5h0M582.5 689.5h0M600.5 693.5h0M572.5 691.5h0M548.5 694.5h0M532.5 694.5h0M510.5 692.5h0M495.5 692.5h0M482.5 693.5h0M472.5 691.5h0M459.5 690.5h0M448.5 690.5h0M442.5 694.5h0M427.5 693.5h0M422.5 691.5h0M409.5 690.5h0M402.5 692.5h0M390.5 694.5h0M383.5 695.5h0M370.5 691.5h0M348.5 691.5h0M340.5 692.5h0M321.5 695.5h0M306.5 690.5h0M301.5 694.5h0M298.5 693.5h0M291.5 694.5h0M284.5 695.5h0M280.5 691.5h0M272.5 694.5h0M274.5 690.5h0M265.5 694.5h0M258.5 694.5h0M252.5 695.5h0M247.5 692.5h0M250.5 693.5h0M242.5 691.5h0M235.5 694.5h0M233.5 691.5h0M233.5 695.5h0M222.5 690.5h0M217.5 692.5h0M221.5 690.5h0M212.5 695.5h0M212.5 692.5h0M205.5 691.5h0M209.5 693.5h0M201.5 695.5h0M202.5 691.5h0M198.5 691.5h0M193.5 690.5h0M193.5 692.5h0M187.5 690.5h0M187.5 692.5h0M186.5 695.5h0M183.5 691.5h0M180.5 693.5h0M182.5 692.5h0M180.5 695.5h0M174.5 694.5h0M175.5 690.5h0M176.5 693.5h0M178.5 690.5h0M170.5 695.5h0M169.5 690.5h0M169.5 692.5h0M172.5 693.5h0M173.5 694.5h0M166.5 692.5h0M162.5 690.5h0M166.5 693.5h0M162.5 695.5h0M159.5 691.5h0M156.5 692.5h0M161.5 694.5h0M156.5 691.5h0M151.5 690.5h0M154.5 691.5h0M154.5 693.5h0M155.5 692.5h0M147.5 691.5h0M144.5 693.5h0M147.5 693.5h0M145.5 694.5h0M142.5 691.5h0M143.5 695.5h0M139.5 692.5h0M134.5 695.5h0M136.5 695.5h0M133.5 693.5h0M136.5 694.5h0M130.5 692.5h0M131.5 695.5h0M127.5 691.5h0M131.5 693.5h0M124.5 691.5h0M94.5 695.5h0M119.5 700.5h0M130.5 698.5h0M129.5 701.5h0M129.5 697.5h0M126.5 700.5h0M137.5 701.5h0M136.5 697.5h0M132.5 698.5h0M132.5 700.5h0M133.5 700.5h0M141.5 696.5h0M142.5 696.5h0M139.5 698.5h0M143.5 699.5h0M148.5 698.5h0M146.5 696.5h0M146.5 698.5h0M154.5 698.5h0M152.5 697.5h0M153.5 699.5h0M155.5 696.5h0M159.5 697.5h0M160.5 698.5h0M161.5 698.5h0M160.5 700.5h0M156.5 701.5h0M165.5 701.5h0M165.5 697.5h0M167.5 698.5h0M163.5 699.5h0M165.5 699.5h0M173.5 701.5h0M173.5 697.5h0M168.5 697.5h0M174.5 696.5h0M174.5 698.5h0M178.5 698.5h0M178.5 699.5h0M179.5 700.5h0M182.5 701.5h0M180.5 698.5h0M183.5 698.5h0M186.5 700.5h0M186.5 696.5h0M187.5 698.5h0M194.5 701.5h0M193.5 699.5h0M199.5 700.5h0M200.5 696.5h0M203.5 699.5h0M204.5 696.5h0M205.5 699.5h0M215.5 697.5h0M216.5 700.5h0M220.5 700.5h0M222.5 700.5h0M233.5 700.5h0M235.5 698.5h0M244.5 701.5h0M240.5 697.5h0M251.5 697.5h0M252.5 696.5h0M259.5 700.5h0M265.5 699.5h0M269.5 700.5h0M274.5 696.5h0M277.5 700.5h0M283.5 697.5h0M288.5 697.5h0M294.5 697.5h0M305.5 701.5h0M309.5 699.5h0M322.5 696.5h0M336.5 700.5h0M353.5 701.5h0M368.5 696.5h0M379.5 701.5h0M393.5 700.5h0M407.5 697.5h0M410.5 696.5h0M422.5 696.5h0M430.5 701.5h0M438.5 699.5h0M444.5 701.5h0M459.5 701.5h0M469.5 697.5h0M483.5 698.5h0M503.5 697.5h0M511.5 696.5h0M536.5 696.5h0M556.5 699.5h0M579.5 701.5h0M632.5 701.5h0M579.5 706.5h0M553.5 706.5h0M531.5 707.5h0M513.5 703.5h0M492.5 703.5h0M479.5 703.5h0M463.5 705.5h0M453.5 707.5h0M441.5 704.5h0M426.5 705.5h0M416.5 704.5h0M405.5 707.5h0M390.5 706.5h0M383.5 705.5h0M370.5 705.5h0M351.5 706.5h0M333.5 706.5h0M315.5 705.5h0M300.5 704.5h0M299.5 706.5h0M288.5 707.5h0M282.5 703.5h0M276.5 702.5h0M271.5 706.5h0M267.5 703.5h0M259.5 702.5h0M257.5 704.5h0M250.5 702.5h0M243.5 705.5h0M239.5 703.5h0M228.5 703.5h0M222.5 706.5h0M227.5 702.5h0M219.5 703.5h0M212.5 704.5h0M215.5 705.5h0M207.5 703.5h0M205.5 702.5h0M198.5 705.5h0M202.5 705.5h0M196.5 703.5h0M196.5 702.5h0M189.5 707.5h0M187.5 706.5h0M180.5 702.5h0M184.5 704.5h0M183.5 704.5h0M174.5 702.5h0M179.5 704.5h0M174.5 704.5h0M169.5 705.5h0M169.5 702.5h0M172.5 703.5h0M171.5 702.5h0M165.5 702.5h0M164.5 705.5h0M164.5 704.5h0M156.5 702.5h0M157.5 702.5h0M158.5 706.5h0M152.5 707.5h0M154.5 702.5h0M150.5 703.5h0M146.5 703.5h0M148.5 707.5h0M141.5 703.5h0M138.5 707.5h0M136.5 704.5h0M135.5 702.5h0M133.5 705.5h0M134.5 703.5h0M128.5 707.5h0M130.5 702.5h0M121.5 704.5h0M91.5 707.5h0M125.5 709.5h0M130.5 711.5h0M132.5 708.5h0M135.5 713.5h0M140.5 711.5h0M139.5 709.5h0M144.5 711.5h0M153.5 712.5h0M152.5 710.5h0M160.5 711.5h0M157.5 709.5h0M164.5 713.5h0M165.5 710.5h0M172.5 708.5h0M173.5 708.5h0M175.5 710.5h0M175.5 713.5h0M185.5 709.5h0M191.5 708.5h0M186.5 709.5h0M192.5 710.5h0M199.5 712.5h0M204.5 712.5h0M210.5 710.5h0M216.5 708.5h0M227.5 710.5h0M238.5 708.5h0M248.5 712.5h0M255.5 713.5h0M267.5 712.5h0M270.5 712.5h0M287.5 713.5h0M299.5 709.5h0M307.5 711.5h0M339.5 708.5h0M371.5 708.5h0M397.5 711.5h0M415.5 710.5h0M437.5 709.5h0M457.5 710.5h0M485.5 708.5h0M515.5 709.5h0M541.5 709.5h0M581.5 709.5h0M620.5 716.5h0M544.5 714.5h0M488.5 715.5h0M418.5 718.5h0M356.5 715.5h0M294.5 714.5h0M273.5 714.5h0M251.5 716.5h0M223.5 714.5h0M206.5 715.5h0M194.5 716.5h0M181.5 719.5h0M178.5 718.5h0M168.5 716.5h0M161.5 718.5h0M154.5 714.5h0M148.5 718.5h0M134.5 714.5h0M128.5 717.5h0M113.5 718.5h0M135.5 723.5h0M149.5 724.5h0M156.5 722.5h0M165.5 723.5h0M174.5 722.5h0M192.5 722.5h0M216.5 723.5h0M261.5 720.5h0M297.5 722.5h0M397.5 722.5h0M519.5 725.5h0M596.5 724.5h0M597.5 730.5h0M515.5 730.5h0M384.5 729.5h0M288.5 730.5h0M250.5 727.5h0M211.5 728.5h0M182.5 727.5h0M170.5 726.5h0M162.5 727.5h0M155.5 731.5h0M142.5 730.5h0M128.5 731.5h0M133.5 734.5h0M144.5 734.5h0M157.5 735.5h0M168.5 732.5h0M180.5 736.5h0M201.5 734.5h0M239.5 734.5h0M286.5 737.5h0M371.5 735.5h0M513.5 732.5h0M597.5 733.5h0M552.5 742.5h0M368.5 740.5h0M256.5 739.5h0M192.5 738.5h0M168.5 742.5h0M152.5 741.5h0M130.5 742.5h0M122.5 18.5h0M142.5 33.5h0M161.5 33.5h0M179.5 24.5h0M182.5 28.5h0M187.5 19.5h0M193.5 28.5h0M209.5 13.5h0M211.5 21.5h0M117.5 46.5h0M124.5 42.5h0M130.5 50.5h0M143.5 49.5h0M127.5 57.5h0M136.5 57.5h0M140.5 56.5h0M152.5 54.5h0M161.5 38.5h0M171.5 41.5h0M172.5 46.5h0M158.5 50.5h0M185.5 51.5h0M185.5 52.5h0M188.5 57.5h0M194.5 49.5h0M193.5 54.5h0M197.5 53.5h0M201.5 54.5h0M213.5 53.5h0M213.5 46.5h0M189.5 62.5h0M200.5 63.5h0M248.5 18.5h0M240.5 32.5h0M218.5 41.5h0M252.5 52.5h0M260.5 60.5h0M287.5 51.5h0M295.5 54.5h0M311.5 57.5h0M345.5 64.5h0M352.5 67.5h0M356.5 57.5h0M365.5 53.5h0M368.5 53.5h0M429.5 36.5h0M423.5 65.5h0M438.5 62.5h0M440.5 67.5h0M447.5 66.5h0M514.5 68.5h0M582.5 449.5h0M589.5 444.5h0M521.5 468.5h0M534.5 474.5h0M571.5 490.5h0M582.5 489.5h0M563.5 502.5h0M600.5 509.5h0M537.5 500.5h0M500.5 499.5h0M500.5 503.5h0M501.5 508.5h0M493.5 510.5h0M474.5 508.5h0M468.5 509.5h0M463.5 505.5h0M517.5 511.5h0M108.5 473.5h0M168.5 476.5h0M178.5 486.5h0M88.5 498.5h0M229.5 490.5h0M327.5 500.5h0M406.5 494.5h0M155.5 507.5h0M166.5 502.5h0M194.5 511.5h0M229.5 511.5h0M327.5 508.5h0M343.5 510.5h0M586.5 122.5h0M566.5 127.5h0M592.5 129.5h0M616.5 128.5h0M640.5 128.5h0M604.5 134.5h0M593.5 136.5h0M616.5 135.5h0M599.5 138.5h0M604.5 139.5h0M560.5 138.5h0M652.5 138.5h0M585.5 143.5h0M567.5 146.5h0M568.5 147.5h0M573.5 149.5h0M630.5 147.5h0M581.5 151.5h0M583.5 155.5h0M593.5 152.5h0M612.5 153.5h0M621.5 154.5h0M606.5 157.5h0M622.5 158.5h0M636.5 157.5h0M627.5 161.5h0M609.5 162.5h0M613.5 163.5h0M601.5 161.5h0M589.5 163.5h0M574.5 164.5h0M573.5 166.5h0M581.5 166.5h0M584.5 165.5h0M654.5 161.5h0M637.5 165.5h0M622.5 164.5h0M623.5 168.5h0M625.5 169.5h0M647.5 168.5h0M649.5 168.5h0M656.5 166.5h0M655.5 168.5h0M613.5 168.5h0M611.5 171.5h0M569.5 170.5h0M587.5 171.5h0M562.5 173.5h0M573.5 174.5h0M620.5 172.5h0M628.5 172.5h0M632.5 173.5h0M633.5 172.5h0M635.5 173.5h0M637.5 174.5h0M640.5 173.5h0M632.5 175.5h0M641.5 176.5h0M640.5 178.5h0M630.5 178.5h0M626.5 180.5h0M620.5 180.5h0M649.5 173.5h0M653.5 174.5h0M663.5 172.5h0M667.5 174.5h0M668.5 178.5h0M666.5 178.5h0M629.5 182.5h0M632.5 182.5h0M634.5 182.5h0M636.5 182.5h0M640.5 182.5h0M645.5 184.5h0M647.5 185.5h0M668.5 183.5h0M588.5 184.5h0M596.5 184.5h0M612.5 185.5h0M613.5 186.5h0M616.5 186.5h0M618.5 187.5h0M569.5 187.5h0M611.5 188.5h0M603.5 189.5h0M601.5 190.5h0M599.5 192.5h0M609.5 191.5h0M612.5 192.5h0M614.5 192.5h0M604.5 194.5h0M608.5 195.5h0M612.5 194.5h0M613.5 196.5h0M611.5 199.5h0M620.5 194.5h0M618.5 196.5h0M627.5 193.5h0M630.5 192.5h0M632.5 192.5h0M633.5 189.5h0M625.5 190.5h0M648.5 188.5h0M649.5 191.5h0M655.5 191.5h0M665.5 190.5h0M639.5 193.5h0M642.5 199.5h0M653.5 198.5h0M656.5 195.5h0M664.5 196.5h0M666.5 196.5h0M676.5 192.5h0M561.5 195.5h0M562.5 200.5h0M564.5 202.5h0M565.5 203.5h0M560.5 205.5h0M570.5 205.5h0M599.5 199.5h0M614.5 203.5h0M616.5 203.5h0M609.5 205.5h0M581.5 204.5h0M587.5 204.5h0M589.5 210.5h0M576.5 209.5h0M580.5 213.5h0M583.5 212.5h0M584.5 214.5h0M594.5 208.5h0M566.5 214.5h0M598.5 218.5h0M601.5 221.5h0M608.5 225.5h0M611.5 225.5h0M615.5 221.5h0M615.5 228.5h0M594.5 225.5h0M589.5 229.5h0M579.5 227.5h0M563.5 220.5h0M561.5 224.5h0M567.5 224.5h0M568.5 229.5h0M563.5 231.5h0M560.5 233.5h0M569.5 238.5h0M597.5 237.5h0M599.5 236.5h0M588.5 238.5h0M670.5 201.5h0M671.5 200.5h0M674.5 200.5h0M673.5 204.5h0M667.5 205.5h0M677.5 206.5h0M671.5 207.5h0M674.5 209.5h0M666.5 210.5h0M669.5 210.5h0M672.5 211.5h0M669.5 214.5h0M666.5 214.5h0M666.5 217.5h0M668.5 218.5h0M58.5 579.5h0M58.5 584.5h0M58.5 589.5h0M58.5 594.5h0M58.5 597.5h0M58.5 604.5h0M58.5 607.5h0M58.5 621.5h0M58.5 627.5h0M58.5 630.5h0M58.5 662.5h0M58.5 665.5h0M58.5 687.5h0M58.5 695.5h0" stroke="#000" stroke-width="3.05" stroke-linecap="round" fill="none"/>
<text transform="translate(38.23 143.43) scale(0.892 1)" style="font-family:'Liberation Sans',sans-serif" font-size="27.18" fill="#000" stroke="#000" stroke-width="0.45">3</text>
<text transform="translate(38.18 341.04) scale(1.000 1)" style="font-family:'Liberation Sans',sans-serif" font-size="25.63" fill="#000" stroke="#000" stroke-width="0.40">0</text>
<text transform="translate(127.80 360.16) scale(0.846 1)" style="font-family:'IPAPGothic','IPAGothic','Liberation Sans',sans-serif" font-size="25.83" fill="#000" stroke="#000" stroke-width="0.47">1</text>
<text transform="translate(141.43 359.64) scale(0.922 1)" style="font-family:'Liberation Sans',sans-serif" font-size="26.20" fill="#000" stroke="#000" stroke-width="0.43">0</text>
<text transform="translate(156.03 359.64) scale(0.922 1)" style="font-family:'Liberation Sans',sans-serif" font-size="26.20" fill="#000" stroke="#000" stroke-width="0.43">0</text>
<text transform="translate(415.60 360.06) scale(0.846 1)" style="font-family:'IPAPGothic','IPAGothic','Liberation Sans',sans-serif" font-size="25.83" fill="#000" stroke="#000" stroke-width="0.47">1</text>
<text transform="translate(429.52 359.54) scale(0.938 1)" style="font-family:'Liberation Sans',sans-serif" font-size="26.20" fill="#000" stroke="#000" stroke-width="0.43">0</text>
<text transform="translate(444.21 359.54) scale(0.946 1)" style="font-family:'Liberation Sans',sans-serif" font-size="26.20" fill="#000" stroke="#000" stroke-width="0.42">0</text>
<text transform="translate(458.92 359.54) scale(0.938 1)" style="font-family:'Liberation Sans',sans-serif" font-size="26.20" fill="#000" stroke="#000" stroke-width="0.43">0</text>
<text transform="translate(38.00 499.80) scale(0.886 1)" style="font-family:'Liberation Sans',sans-serif" font-size="27.00" fill="#000" stroke="#000" stroke-width="0.45">2</text>
<text transform="translate(37.63 626.75) scale(1.007 1)" style="font-family:'IPAPGothic','IPAGothic','Liberation Sans',sans-serif" font-size="25.00" fill="#000" stroke="#000" stroke-width="0.40">1</text>
<text transform="translate(37.80 768.44) scale(0.954 1)" style="font-family:'Liberation Sans',sans-serif" font-size="26.20" fill="#000" stroke="#000" stroke-width="0.42">0</text>
<text transform="translate(165.66 772.06) scale(0.851 1)" style="font-family:'IPAPGothic','IPAGothic','Liberation Sans',sans-serif" font-size="26.11" fill="#000" stroke="#000" stroke-width="0.47">1</text>
<text transform="translate(279.50 771.80) scale(0.895 1)" style="font-family:'Liberation Sans',sans-serif" font-size="26.71" fill="#000" stroke="#000" stroke-width="0.45">2</text>
<text transform="translate(393.26 771.24) scale(0.913 1)" style="font-family:'Liberation Sans',sans-serif" font-size="25.63" fill="#000" stroke="#000" stroke-width="0.44">3</text>
<text transform="translate(506.72 771.77) scale(0.891 1)" style="font-family:'Liberation Sans',sans-serif" font-size="27.06" fill="#000" stroke="#000" stroke-width="0.45">4</text>
<text transform="translate(620.26 771.24) scale(0.910 1)" style="font-family:'Liberation Sans',sans-serif" font-size="25.71" fill="#000" stroke="#000" stroke-width="0.44">5</text>
<g style="font-family:'IPAPGothic','Liberation Sans',sans-serif" font-size="25.5" fill="#000" stroke="#000" stroke-width="0.35">
<text x="298.3" y="392.9" textLength="158.4" lengthAdjust="spacingAndGlyphs">reef width(m)</text>
<text x="247.2" y="806.7" textLength="265.0" lengthAdjust="spacingAndGlyphs">MED of reef depth (m)</text>
<text transform="translate(26.0 261.8) rotate(-90)" x="0" y="0" textLength="161.3" lengthAdjust="spacingAndGlyphs">reef depth(m)</text>
<text transform="translate(21.9 707.0) rotate(-90)" x="0" y="0" textLength="245.3" lengthAdjust="spacingAndGlyphs">SD of reef depth (m)</text>
</g>
</svg></body></html>
